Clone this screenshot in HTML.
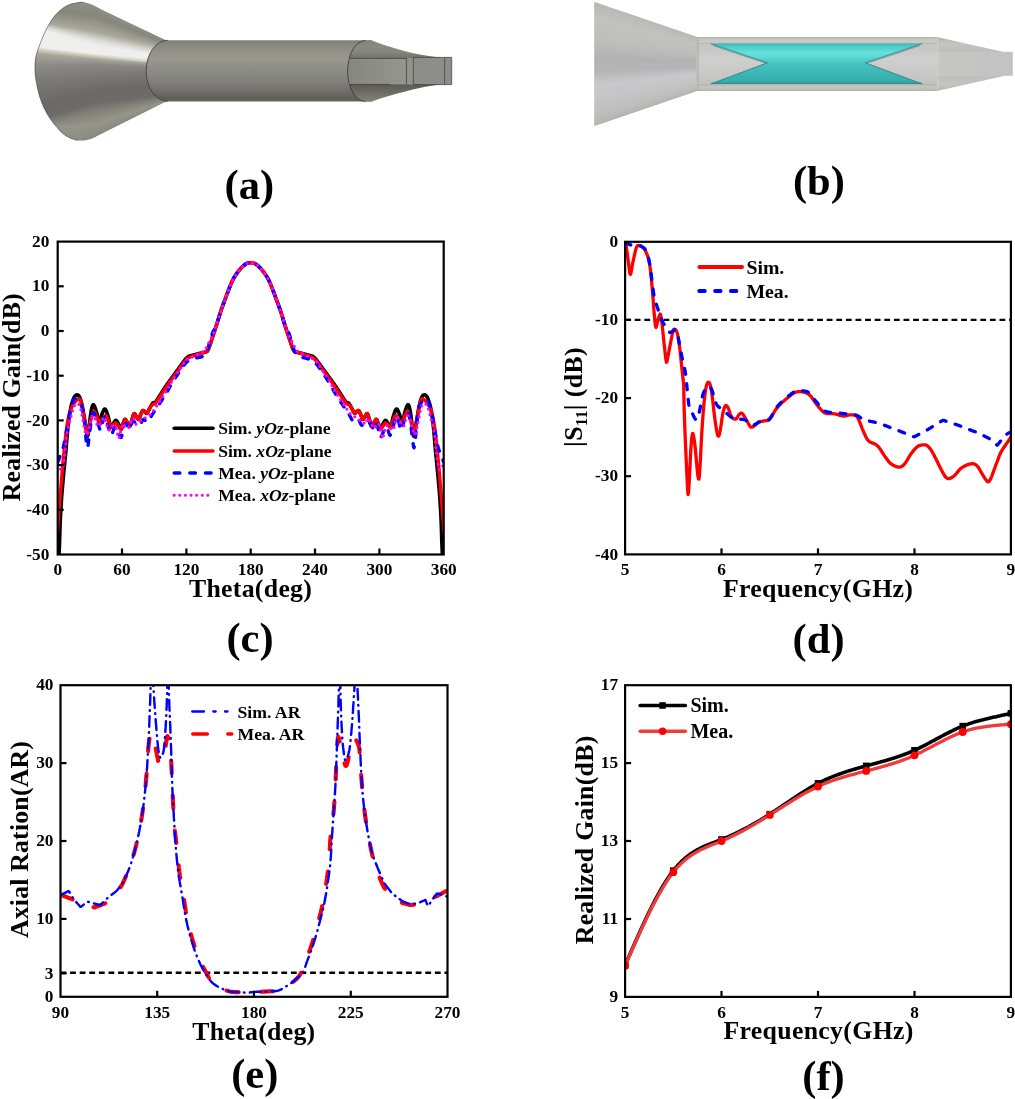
<!DOCTYPE html>
<html><head><meta charset="utf-8"><title>Figure</title>
<style>
html,body{margin:0;padding:0;background:#fff;}
svg{display:block;}
text{font-family:'Liberation Serif','Times New Roman',serif;fill:#000;}
</style></head><body>
<svg width="1015" height="1099" viewBox="0 0 1015 1099">
<rect width="1015" height="1099" fill="#fff"/>
<defs>
<clipPath id="coneA"><path d="M168.0,41.2 L101.2,9.4 L100.2,8.9 L99.2,8.3 L98.2,7.8 L97.2,7.2 L96.2,6.7 L95.2,6.2 L94.2,5.7 L93.3,5.3 L92.4,4.9 L91.6,4.5 L90.7,4.2 L89.9,3.9 L89.1,3.6 L88.3,3.3 L87.5,3.1 L86.7,2.9 L85.9,2.7 L85.1,2.6 L84.4,2.5 L83.6,2.4 L82.9,2.3 L82.0,2.3 L81.1,2.3 L80.1,2.4 L79.0,2.5 L77.7,2.7 L76.3,2.9 L74.9,3.2 L73.5,3.5 L72.1,3.8 L70.8,4.2 L69.6,4.6 L68.5,5.0 L67.4,5.5 L66.5,6.0 L65.5,6.5 L64.6,7.1 L63.6,7.8 L62.7,8.4 L61.7,9.2 L60.7,10.0 L59.7,10.8 L58.7,11.7 L57.7,12.7 L56.7,13.7 L55.7,14.8 L54.7,15.9 L53.7,17.2 L52.7,18.6 L51.7,20.1 L50.7,21.6 L49.7,23.3 L48.7,25.0 L47.7,26.7 L46.7,28.5 L45.8,30.3 L44.9,32.2 L44.0,34.2 L43.1,36.3 L42.2,38.4 L41.4,40.5 L40.6,42.5 L39.9,44.5 L39.2,46.2 L38.6,47.8 L38.1,49.2 L37.6,50.6 L37.2,51.9 L36.8,53.1 L36.5,54.3 L36.2,55.5 L35.9,56.7 L35.7,57.9 L35.5,59.1 L35.3,60.2 L35.2,61.4 L35.1,62.5 L35.1,63.6 L35.0,64.8 L35.0,66.0 L35.0,67.2 L35.0,68.5 L35.0,69.7 L35.0,71.0 L35.1,72.3 L35.2,73.7 L35.3,75.1 L35.5,76.5 L35.7,78.0 L35.9,79.6 L36.2,81.3 L36.5,82.9 L36.8,84.6 L37.1,86.3 L37.5,88.0 L37.9,89.7 L38.3,91.4 L38.7,93.0 L39.2,94.7 L39.6,96.3 L40.1,98.0 L40.7,99.6 L41.3,101.2 L41.9,102.9 L42.6,104.6 L43.3,106.3 L44.1,108.0 L45.0,109.7 L45.8,111.3 L46.7,113.0 L47.6,114.6 L48.5,116.1 L49.4,117.6 L50.4,119.0 L51.4,120.3 L52.4,121.7 L53.4,123.0 L54.4,124.2 L55.4,125.4 L56.4,126.6 L57.4,127.7 L58.3,128.9 L59.3,129.9 L60.3,131.0 L61.2,132.0 L62.2,132.9 L63.3,133.8 L64.3,134.6 L65.4,135.4 L66.5,136.1 L67.7,136.7 L68.8,137.3 L70.0,137.9 L71.2,138.4 L72.3,138.8 L73.5,139.2 L74.7,139.6 L75.8,139.9 L77.0,140.1 L78.1,140.3 L79.3,140.5 L80.5,140.6 L81.6,140.6 L82.8,140.6 L84.0,140.5 L85.2,140.3 L86.4,140.1 L87.6,139.8 L88.7,139.5 L89.9,139.2 L91.0,138.8 L92.0,138.5 L92.9,138.1 L93.8,137.8 L94.7,137.4 L95.5,136.9 L96.2,136.5 L97.0,136.1 L97.8,135.6 L98.6,135.2 L168.0,100.6 Z"/></clipPath>
<linearGradient id="cylA" x1="0" y1="0" x2="0" y2="1" gradientUnits="objectBoundingBox"><stop offset="0" stop-color="#7d7d74"/><stop offset="0.05" stop-color="#86867c"/><stop offset="0.2" stop-color="#939188"/><stop offset="0.3" stop-color="#9a978f"/><stop offset="0.45" stop-color="#8f8e88"/><stop offset="0.55" stop-color="#898a85"/><stop offset="0.68" stop-color="#81807b"/><stop offset="0.78" stop-color="#777570"/><stop offset="0.88" stop-color="#6a6864"/><stop offset="0.95" stop-color="#605e58"/><stop offset="1" stop-color="#67655c"/></linearGradient>
<linearGradient id="tapA" x1="0" y1="0" x2="0" y2="1" gradientUnits="objectBoundingBox"><stop offset="0" stop-color="#83837a"/><stop offset="0.1" stop-color="#8a8a80"/><stop offset="0.2" stop-color="#84847a"/><stop offset="0.29" stop-color="#737369"/><stop offset="0.3" stop-color="#8b8b86"/><stop offset="0.7" stop-color="#8b8b86"/><stop offset="0.72" stop-color="#5b5a54"/><stop offset="0.85" stop-color="#6c6b64"/><stop offset="1" stop-color="#85847a"/></linearGradient>
<linearGradient id="recA" x1="0" y1="0" x2="1" y2="0" gradientUnits="objectBoundingBox"><stop offset="0" stop-color="#878782"/><stop offset="1" stop-color="#969691"/></linearGradient>
</defs>
<defs><linearGradient id="cg0" gradientUnits="userSpaceOnUse" x1="0" y1="-40" x2="0" y2="180"><stop offset="0.0935" stop-color="#8f8f83"/><stop offset="0.2229" stop-color="#86867a"/><stop offset="0.2780" stop-color="#a8a89c"/><stop offset="0.2940" stop-color="#dbdbd5"/><stop offset="0.3071" stop-color="#eeeeec"/><stop offset="0.3926" stop-color="#efefed"/><stop offset="0.4050" stop-color="#d2d0be"/><stop offset="0.4259" stop-color="#a6a49a"/><stop offset="0.4865" stop-color="#8a8884"/><stop offset="0.5527" stop-color="#7c7a78"/><stop offset="0.6637" stop-color="#6b6867"/><stop offset="0.7339" stop-color="#6e6c69"/><stop offset="0.7596" stop-color="#86857c"/><stop offset="0.7696" stop-color="#96958a"/><stop offset="0.9392" stop-color="#8a897e"/></linearGradient><linearGradient id="cg1" gradientUnits="userSpaceOnUse" x1="0" y1="-40" x2="0" y2="180"><stop offset="0.0974" stop-color="#8f8f83"/><stop offset="0.2239" stop-color="#86867a"/><stop offset="0.2796" stop-color="#a8a89c"/><stop offset="0.2962" stop-color="#dbdbd5"/><stop offset="0.3097" stop-color="#eeeeec"/><stop offset="0.3937" stop-color="#efefed"/><stop offset="0.4060" stop-color="#d2d0be"/><stop offset="0.4267" stop-color="#a6a49a"/><stop offset="0.4862" stop-color="#8a8884"/><stop offset="0.5518" stop-color="#7c7a78"/><stop offset="0.6616" stop-color="#6b6867"/><stop offset="0.7311" stop-color="#6e6c69"/><stop offset="0.7576" stop-color="#86857c"/><stop offset="0.7689" stop-color="#96958a"/><stop offset="0.9348" stop-color="#8a897e"/></linearGradient><linearGradient id="cg2" gradientUnits="userSpaceOnUse" x1="0" y1="-40" x2="0" y2="180"><stop offset="0.1012" stop-color="#8f8f83"/><stop offset="0.2249" stop-color="#86867a"/><stop offset="0.2812" stop-color="#a8a89c"/><stop offset="0.2984" stop-color="#dbdbd5"/><stop offset="0.3123" stop-color="#eeeeec"/><stop offset="0.3948" stop-color="#efefed"/><stop offset="0.4070" stop-color="#d2d0be"/><stop offset="0.4275" stop-color="#a6a49a"/><stop offset="0.4858" stop-color="#8a8884"/><stop offset="0.5509" stop-color="#7c7a78"/><stop offset="0.6595" stop-color="#6b6867"/><stop offset="0.7283" stop-color="#6e6c69"/><stop offset="0.7556" stop-color="#86857c"/><stop offset="0.7682" stop-color="#96958a"/><stop offset="0.9304" stop-color="#8a897e"/></linearGradient><linearGradient id="cg3" gradientUnits="userSpaceOnUse" x1="0" y1="-40" x2="0" y2="180"><stop offset="0.1050" stop-color="#8f8f83"/><stop offset="0.2260" stop-color="#86867a"/><stop offset="0.2828" stop-color="#a8a89c"/><stop offset="0.3006" stop-color="#dbdbd5"/><stop offset="0.3149" stop-color="#eeeeec"/><stop offset="0.3959" stop-color="#efefed"/><stop offset="0.4081" stop-color="#d2d0be"/><stop offset="0.4283" stop-color="#a6a49a"/><stop offset="0.4855" stop-color="#8a8884"/><stop offset="0.5500" stop-color="#7c7a78"/><stop offset="0.6574" stop-color="#6b6867"/><stop offset="0.7255" stop-color="#6e6c69"/><stop offset="0.7536" stop-color="#86857c"/><stop offset="0.7675" stop-color="#96958a"/><stop offset="0.9260" stop-color="#8a897e"/></linearGradient><linearGradient id="cg4" gradientUnits="userSpaceOnUse" x1="0" y1="-40" x2="0" y2="180"><stop offset="0.1088" stop-color="#8f8f83"/><stop offset="0.2270" stop-color="#86867a"/><stop offset="0.2844" stop-color="#a8a89c"/><stop offset="0.3029" stop-color="#dbdbd5"/><stop offset="0.3175" stop-color="#eeeeec"/><stop offset="0.3970" stop-color="#efefed"/><stop offset="0.4091" stop-color="#d2d0be"/><stop offset="0.4291" stop-color="#a6a49a"/><stop offset="0.4851" stop-color="#8a8884"/><stop offset="0.5491" stop-color="#7c7a78"/><stop offset="0.6553" stop-color="#6b6867"/><stop offset="0.7227" stop-color="#6e6c69"/><stop offset="0.7516" stop-color="#86857c"/><stop offset="0.7668" stop-color="#96958a"/><stop offset="0.9216" stop-color="#8a897e"/></linearGradient><linearGradient id="cg5" gradientUnits="userSpaceOnUse" x1="0" y1="-40" x2="0" y2="180"><stop offset="0.1126" stop-color="#8f8f83"/><stop offset="0.2281" stop-color="#86867a"/><stop offset="0.2860" stop-color="#a8a89c"/><stop offset="0.3051" stop-color="#dbdbd5"/><stop offset="0.3201" stop-color="#eeeeec"/><stop offset="0.3981" stop-color="#efefed"/><stop offset="0.4101" stop-color="#d2d0be"/><stop offset="0.4299" stop-color="#a6a49a"/><stop offset="0.4847" stop-color="#8a8884"/><stop offset="0.5482" stop-color="#7c7a78"/><stop offset="0.6532" stop-color="#6b6867"/><stop offset="0.7200" stop-color="#6e6c69"/><stop offset="0.7496" stop-color="#86857c"/><stop offset="0.7661" stop-color="#96958a"/><stop offset="0.9171" stop-color="#8a897e"/></linearGradient><linearGradient id="cg6" gradientUnits="userSpaceOnUse" x1="0" y1="-40" x2="0" y2="180"><stop offset="0.1165" stop-color="#8f8f83"/><stop offset="0.2291" stop-color="#86867a"/><stop offset="0.2875" stop-color="#a8a89c"/><stop offset="0.3073" stop-color="#dbdbd5"/><stop offset="0.3227" stop-color="#eeeeec"/><stop offset="0.3992" stop-color="#efefed"/><stop offset="0.4111" stop-color="#d2d0be"/><stop offset="0.4307" stop-color="#a6a49a"/><stop offset="0.4844" stop-color="#8a8884"/><stop offset="0.5473" stop-color="#7c7a78"/><stop offset="0.6511" stop-color="#6b6867"/><stop offset="0.7172" stop-color="#6e6c69"/><stop offset="0.7476" stop-color="#86857c"/><stop offset="0.7654" stop-color="#96958a"/><stop offset="0.9127" stop-color="#8a897e"/></linearGradient><linearGradient id="cg7" gradientUnits="userSpaceOnUse" x1="0" y1="-40" x2="0" y2="180"><stop offset="0.1203" stop-color="#8f8f83"/><stop offset="0.2301" stop-color="#86867a"/><stop offset="0.2891" stop-color="#a8a89c"/><stop offset="0.3095" stop-color="#dbdbd5"/><stop offset="0.3253" stop-color="#eeeeec"/><stop offset="0.4003" stop-color="#efefed"/><stop offset="0.4121" stop-color="#d2d0be"/><stop offset="0.4315" stop-color="#a6a49a"/><stop offset="0.4840" stop-color="#8a8884"/><stop offset="0.5464" stop-color="#7c7a78"/><stop offset="0.6490" stop-color="#6b6867"/><stop offset="0.7144" stop-color="#6e6c69"/><stop offset="0.7456" stop-color="#86857c"/><stop offset="0.7647" stop-color="#96958a"/><stop offset="0.9083" stop-color="#8a897e"/></linearGradient><linearGradient id="cg8" gradientUnits="userSpaceOnUse" x1="0" y1="-40" x2="0" y2="180"><stop offset="0.1241" stop-color="#8f8f83"/><stop offset="0.2312" stop-color="#86867a"/><stop offset="0.2907" stop-color="#a8a89c"/><stop offset="0.3117" stop-color="#dbdbd5"/><stop offset="0.3279" stop-color="#eeeeec"/><stop offset="0.4014" stop-color="#efefed"/><stop offset="0.4131" stop-color="#d2d0be"/><stop offset="0.4323" stop-color="#a6a49a"/><stop offset="0.4836" stop-color="#8a8884"/><stop offset="0.5455" stop-color="#7c7a78"/><stop offset="0.6469" stop-color="#6b6867"/><stop offset="0.7116" stop-color="#6e6c69"/><stop offset="0.7436" stop-color="#86857c"/><stop offset="0.7640" stop-color="#96958a"/><stop offset="0.9039" stop-color="#8a897e"/></linearGradient><linearGradient id="cg9" gradientUnits="userSpaceOnUse" x1="0" y1="-40" x2="0" y2="180"><stop offset="0.1279" stop-color="#8f8f83"/><stop offset="0.2322" stop-color="#86867a"/><stop offset="0.2923" stop-color="#a8a89c"/><stop offset="0.3139" stop-color="#dbdbd5"/><stop offset="0.3305" stop-color="#eeeeec"/><stop offset="0.4025" stop-color="#efefed"/><stop offset="0.4141" stop-color="#d2d0be"/><stop offset="0.4331" stop-color="#a6a49a"/><stop offset="0.4833" stop-color="#8a8884"/><stop offset="0.5445" stop-color="#7c7a78"/><stop offset="0.6448" stop-color="#6b6867"/><stop offset="0.7088" stop-color="#6e6c69"/><stop offset="0.7416" stop-color="#86857c"/><stop offset="0.7633" stop-color="#96958a"/><stop offset="0.8995" stop-color="#8a897e"/></linearGradient><linearGradient id="cg10" gradientUnits="userSpaceOnUse" x1="0" y1="-40" x2="0" y2="180"><stop offset="0.1317" stop-color="#8f8f83"/><stop offset="0.2332" stop-color="#86867a"/><stop offset="0.2939" stop-color="#a8a89c"/><stop offset="0.3161" stop-color="#dbdbd5"/><stop offset="0.3331" stop-color="#eeeeec"/><stop offset="0.4035" stop-color="#efefed"/><stop offset="0.4151" stop-color="#d2d0be"/><stop offset="0.4339" stop-color="#a6a49a"/><stop offset="0.4829" stop-color="#8a8884"/><stop offset="0.5436" stop-color="#7c7a78"/><stop offset="0.6427" stop-color="#6b6867"/><stop offset="0.7061" stop-color="#6e6c69"/><stop offset="0.7396" stop-color="#86857c"/><stop offset="0.7626" stop-color="#96958a"/><stop offset="0.8951" stop-color="#8a897e"/></linearGradient><linearGradient id="cg11" gradientUnits="userSpaceOnUse" x1="0" y1="-40" x2="0" y2="180"><stop offset="0.1355" stop-color="#8f8f83"/><stop offset="0.2343" stop-color="#86867a"/><stop offset="0.2955" stop-color="#a8a89c"/><stop offset="0.3183" stop-color="#dbdbd5"/><stop offset="0.3357" stop-color="#eeeeec"/><stop offset="0.4046" stop-color="#efefed"/><stop offset="0.4162" stop-color="#d2d0be"/><stop offset="0.4348" stop-color="#a6a49a"/><stop offset="0.4825" stop-color="#8a8884"/><stop offset="0.5427" stop-color="#7c7a78"/><stop offset="0.6406" stop-color="#6b6867"/><stop offset="0.7033" stop-color="#6e6c69"/><stop offset="0.7376" stop-color="#86857c"/><stop offset="0.7619" stop-color="#96958a"/><stop offset="0.8906" stop-color="#8a897e"/></linearGradient><linearGradient id="cg12" gradientUnits="userSpaceOnUse" x1="0" y1="-40" x2="0" y2="180"><stop offset="0.1394" stop-color="#8f8f83"/><stop offset="0.2353" stop-color="#86867a"/><stop offset="0.2971" stop-color="#a8a89c"/><stop offset="0.3205" stop-color="#dbdbd5"/><stop offset="0.3383" stop-color="#eeeeec"/><stop offset="0.4057" stop-color="#efefed"/><stop offset="0.4172" stop-color="#d2d0be"/><stop offset="0.4356" stop-color="#a6a49a"/><stop offset="0.4822" stop-color="#8a8884"/><stop offset="0.5418" stop-color="#7c7a78"/><stop offset="0.6385" stop-color="#6b6867"/><stop offset="0.7005" stop-color="#6e6c69"/><stop offset="0.7356" stop-color="#86857c"/><stop offset="0.7612" stop-color="#96958a"/><stop offset="0.8862" stop-color="#8a897e"/></linearGradient><linearGradient id="cg13" gradientUnits="userSpaceOnUse" x1="0" y1="-40" x2="0" y2="180"><stop offset="0.1432" stop-color="#8f8f83"/><stop offset="0.2364" stop-color="#86867a"/><stop offset="0.2986" stop-color="#a8a89c"/><stop offset="0.3227" stop-color="#dbdbd5"/><stop offset="0.3409" stop-color="#eeeeec"/><stop offset="0.4068" stop-color="#efefed"/><stop offset="0.4182" stop-color="#d2d0be"/><stop offset="0.4364" stop-color="#a6a49a"/><stop offset="0.4818" stop-color="#8a8884"/><stop offset="0.5409" stop-color="#7c7a78"/><stop offset="0.6364" stop-color="#6b6867"/><stop offset="0.6977" stop-color="#6e6c69"/><stop offset="0.7336" stop-color="#86857c"/><stop offset="0.7605" stop-color="#96958a"/><stop offset="0.8818" stop-color="#8a897e"/></linearGradient><linearGradient id="cg14" gradientUnits="userSpaceOnUse" x1="0" y1="-40" x2="0" y2="180"><stop offset="0.1470" stop-color="#8f8f83"/><stop offset="0.2374" stop-color="#86867a"/><stop offset="0.3002" stop-color="#a8a89c"/><stop offset="0.3249" stop-color="#dbdbd5"/><stop offset="0.3435" stop-color="#eeeeec"/><stop offset="0.4079" stop-color="#efefed"/><stop offset="0.4192" stop-color="#d2d0be"/><stop offset="0.4372" stop-color="#a6a49a"/><stop offset="0.4815" stop-color="#8a8884"/><stop offset="0.5400" stop-color="#7c7a78"/><stop offset="0.6343" stop-color="#6b6867"/><stop offset="0.6949" stop-color="#6e6c69"/><stop offset="0.7316" stop-color="#86857c"/><stop offset="0.7598" stop-color="#96958a"/><stop offset="0.8774" stop-color="#8a897e"/></linearGradient><linearGradient id="cg15" gradientUnits="userSpaceOnUse" x1="0" y1="-40" x2="0" y2="180"><stop offset="0.1508" stop-color="#8f8f83"/><stop offset="0.2384" stop-color="#86867a"/><stop offset="0.3018" stop-color="#a8a89c"/><stop offset="0.3271" stop-color="#dbdbd5"/><stop offset="0.3461" stop-color="#eeeeec"/><stop offset="0.4090" stop-color="#efefed"/><stop offset="0.4202" stop-color="#d2d0be"/><stop offset="0.4380" stop-color="#a6a49a"/><stop offset="0.4811" stop-color="#8a8884"/><stop offset="0.5391" stop-color="#7c7a78"/><stop offset="0.6322" stop-color="#6b6867"/><stop offset="0.6922" stop-color="#6e6c69"/><stop offset="0.7296" stop-color="#86857c"/><stop offset="0.7591" stop-color="#96958a"/><stop offset="0.8730" stop-color="#8a897e"/></linearGradient><linearGradient id="cg16" gradientUnits="userSpaceOnUse" x1="0" y1="-40" x2="0" y2="180"><stop offset="0.1546" stop-color="#8f8f83"/><stop offset="0.2395" stop-color="#86867a"/><stop offset="0.3034" stop-color="#a8a89c"/><stop offset="0.3294" stop-color="#dbdbd5"/><stop offset="0.3487" stop-color="#eeeeec"/><stop offset="0.4101" stop-color="#efefed"/><stop offset="0.4212" stop-color="#d2d0be"/><stop offset="0.4388" stop-color="#a6a49a"/><stop offset="0.4807" stop-color="#8a8884"/><stop offset="0.5382" stop-color="#7c7a78"/><stop offset="0.6301" stop-color="#6b6867"/><stop offset="0.6894" stop-color="#6e6c69"/><stop offset="0.7276" stop-color="#86857c"/><stop offset="0.7584" stop-color="#96958a"/><stop offset="0.8686" stop-color="#8a897e"/></linearGradient><linearGradient id="cg17" gradientUnits="userSpaceOnUse" x1="0" y1="-40" x2="0" y2="180"><stop offset="0.1585" stop-color="#8f8f83"/><stop offset="0.2405" stop-color="#86867a"/><stop offset="0.3050" stop-color="#a8a89c"/><stop offset="0.3316" stop-color="#dbdbd5"/><stop offset="0.3513" stop-color="#eeeeec"/><stop offset="0.4112" stop-color="#efefed"/><stop offset="0.4222" stop-color="#d2d0be"/><stop offset="0.4396" stop-color="#a6a49a"/><stop offset="0.4804" stop-color="#8a8884"/><stop offset="0.5373" stop-color="#7c7a78"/><stop offset="0.6279" stop-color="#6b6867"/><stop offset="0.6866" stop-color="#6e6c69"/><stop offset="0.7256" stop-color="#86857c"/><stop offset="0.7576" stop-color="#96958a"/><stop offset="0.8642" stop-color="#8a897e"/></linearGradient><linearGradient id="cg18" gradientUnits="userSpaceOnUse" x1="0" y1="-40" x2="0" y2="180"><stop offset="0.1623" stop-color="#8f8f83"/><stop offset="0.2416" stop-color="#86867a"/><stop offset="0.3066" stop-color="#a8a89c"/><stop offset="0.3338" stop-color="#dbdbd5"/><stop offset="0.3539" stop-color="#eeeeec"/><stop offset="0.4123" stop-color="#efefed"/><stop offset="0.4232" stop-color="#d2d0be"/><stop offset="0.4404" stop-color="#a6a49a"/><stop offset="0.4800" stop-color="#8a8884"/><stop offset="0.5364" stop-color="#7c7a78"/><stop offset="0.6258" stop-color="#6b6867"/><stop offset="0.6838" stop-color="#6e6c69"/><stop offset="0.7236" stop-color="#86857c"/><stop offset="0.7569" stop-color="#96958a"/><stop offset="0.8597" stop-color="#8a897e"/></linearGradient><linearGradient id="cg19" gradientUnits="userSpaceOnUse" x1="0" y1="-40" x2="0" y2="180"><stop offset="0.1661" stop-color="#8f8f83"/><stop offset="0.2426" stop-color="#86867a"/><stop offset="0.3081" stop-color="#a8a89c"/><stop offset="0.3360" stop-color="#dbdbd5"/><stop offset="0.3565" stop-color="#eeeeec"/><stop offset="0.4134" stop-color="#efefed"/><stop offset="0.4243" stop-color="#d2d0be"/><stop offset="0.4412" stop-color="#a6a49a"/><stop offset="0.4796" stop-color="#8a8884"/><stop offset="0.5355" stop-color="#7c7a78"/><stop offset="0.6237" stop-color="#6b6867"/><stop offset="0.6811" stop-color="#6e6c69"/><stop offset="0.7216" stop-color="#86857c"/><stop offset="0.7562" stop-color="#96958a"/><stop offset="0.8553" stop-color="#8a897e"/></linearGradient><linearGradient id="cg20" gradientUnits="userSpaceOnUse" x1="0" y1="-40" x2="0" y2="180"><stop offset="0.1699" stop-color="#8f8f83"/><stop offset="0.2436" stop-color="#86867a"/><stop offset="0.3097" stop-color="#a8a89c"/><stop offset="0.3382" stop-color="#dbdbd5"/><stop offset="0.3591" stop-color="#eeeeec"/><stop offset="0.4145" stop-color="#efefed"/><stop offset="0.4253" stop-color="#d2d0be"/><stop offset="0.4420" stop-color="#a6a49a"/><stop offset="0.4793" stop-color="#8a8884"/><stop offset="0.5345" stop-color="#7c7a78"/><stop offset="0.6216" stop-color="#6b6867"/><stop offset="0.6783" stop-color="#6e6c69"/><stop offset="0.7196" stop-color="#86857c"/><stop offset="0.7555" stop-color="#96958a"/><stop offset="0.8509" stop-color="#8a897e"/></linearGradient><linearGradient id="cg21" gradientUnits="userSpaceOnUse" x1="0" y1="-40" x2="0" y2="180"><stop offset="0.1737" stop-color="#8f8f83"/><stop offset="0.2447" stop-color="#86867a"/><stop offset="0.3113" stop-color="#a8a89c"/><stop offset="0.3404" stop-color="#dbdbd5"/><stop offset="0.3617" stop-color="#eeeeec"/><stop offset="0.4155" stop-color="#efefed"/><stop offset="0.4263" stop-color="#d2d0be"/><stop offset="0.4428" stop-color="#a6a49a"/><stop offset="0.4789" stop-color="#8a8884"/><stop offset="0.5336" stop-color="#7c7a78"/><stop offset="0.6195" stop-color="#6b6867"/><stop offset="0.6755" stop-color="#6e6c69"/><stop offset="0.7176" stop-color="#86857c"/><stop offset="0.7548" stop-color="#96958a"/><stop offset="0.8465" stop-color="#8a897e"/></linearGradient><linearGradient id="cg22" gradientUnits="userSpaceOnUse" x1="0" y1="-40" x2="0" y2="180"><stop offset="0.1775" stop-color="#8f8f83"/><stop offset="0.2457" stop-color="#86867a"/><stop offset="0.3129" stop-color="#a8a89c"/><stop offset="0.3426" stop-color="#dbdbd5"/><stop offset="0.3643" stop-color="#eeeeec"/><stop offset="0.4166" stop-color="#efefed"/><stop offset="0.4273" stop-color="#d2d0be"/><stop offset="0.4436" stop-color="#a6a49a"/><stop offset="0.4785" stop-color="#8a8884"/><stop offset="0.5327" stop-color="#7c7a78"/><stop offset="0.6174" stop-color="#6b6867"/><stop offset="0.6727" stop-color="#6e6c69"/><stop offset="0.7156" stop-color="#86857c"/><stop offset="0.7541" stop-color="#96958a"/><stop offset="0.8421" stop-color="#8a897e"/></linearGradient><linearGradient id="cg23" gradientUnits="userSpaceOnUse" x1="0" y1="-40" x2="0" y2="180"><stop offset="0.1814" stop-color="#8f8f83"/><stop offset="0.2468" stop-color="#86867a"/><stop offset="0.3145" stop-color="#a8a89c"/><stop offset="0.3448" stop-color="#dbdbd5"/><stop offset="0.3669" stop-color="#eeeeec"/><stop offset="0.4177" stop-color="#efefed"/><stop offset="0.4283" stop-color="#d2d0be"/><stop offset="0.4444" stop-color="#a6a49a"/><stop offset="0.4782" stop-color="#8a8884"/><stop offset="0.5318" stop-color="#7c7a78"/><stop offset="0.6153" stop-color="#6b6867"/><stop offset="0.6699" stop-color="#6e6c69"/><stop offset="0.7136" stop-color="#86857c"/><stop offset="0.7534" stop-color="#96958a"/><stop offset="0.8377" stop-color="#8a897e"/></linearGradient><linearGradient id="cg24" gradientUnits="userSpaceOnUse" x1="0" y1="-40" x2="0" y2="180"><stop offset="0.1852" stop-color="#8f8f83"/><stop offset="0.2478" stop-color="#86867a"/><stop offset="0.3161" stop-color="#a8a89c"/><stop offset="0.3470" stop-color="#dbdbd5"/><stop offset="0.3695" stop-color="#eeeeec"/><stop offset="0.4188" stop-color="#efefed"/><stop offset="0.4293" stop-color="#d2d0be"/><stop offset="0.4452" stop-color="#a6a49a"/><stop offset="0.4778" stop-color="#8a8884"/><stop offset="0.5309" stop-color="#7c7a78"/><stop offset="0.6132" stop-color="#6b6867"/><stop offset="0.6672" stop-color="#6e6c69"/><stop offset="0.7116" stop-color="#86857c"/><stop offset="0.7527" stop-color="#96958a"/><stop offset="0.8332" stop-color="#8a897e"/></linearGradient><linearGradient id="cg25" gradientUnits="userSpaceOnUse" x1="0" y1="-40" x2="0" y2="180"><stop offset="0.1890" stop-color="#8f8f83"/><stop offset="0.2488" stop-color="#86867a"/><stop offset="0.3176" stop-color="#a8a89c"/><stop offset="0.3492" stop-color="#dbdbd5"/><stop offset="0.3721" stop-color="#eeeeec"/><stop offset="0.4199" stop-color="#efefed"/><stop offset="0.4303" stop-color="#d2d0be"/><stop offset="0.4460" stop-color="#a6a49a"/><stop offset="0.4775" stop-color="#8a8884"/><stop offset="0.5300" stop-color="#7c7a78"/><stop offset="0.6111" stop-color="#6b6867"/><stop offset="0.6644" stop-color="#6e6c69"/><stop offset="0.7096" stop-color="#86857c"/><stop offset="0.7520" stop-color="#96958a"/><stop offset="0.8288" stop-color="#8a897e"/></linearGradient><linearGradient id="cg26" gradientUnits="userSpaceOnUse" x1="0" y1="-40" x2="0" y2="180"><stop offset="0.1928" stop-color="#8f8f83"/><stop offset="0.2499" stop-color="#86867a"/><stop offset="0.3192" stop-color="#a8a89c"/><stop offset="0.3514" stop-color="#dbdbd5"/><stop offset="0.3747" stop-color="#eeeeec"/><stop offset="0.4210" stop-color="#efefed"/><stop offset="0.4314" stop-color="#d2d0be"/><stop offset="0.4468" stop-color="#a6a49a"/><stop offset="0.4771" stop-color="#8a8884"/><stop offset="0.5291" stop-color="#7c7a78"/><stop offset="0.6090" stop-color="#6b6867"/><stop offset="0.6616" stop-color="#6e6c69"/><stop offset="0.7076" stop-color="#86857c"/><stop offset="0.7513" stop-color="#96958a"/><stop offset="0.8244" stop-color="#8a897e"/></linearGradient><linearGradient id="cg27" gradientUnits="userSpaceOnUse" x1="0" y1="-40" x2="0" y2="180"><stop offset="0.1966" stop-color="#8f8f83"/><stop offset="0.2509" stop-color="#86867a"/><stop offset="0.3208" stop-color="#a8a89c"/><stop offset="0.3536" stop-color="#dbdbd5"/><stop offset="0.3773" stop-color="#eeeeec"/><stop offset="0.4221" stop-color="#efefed"/><stop offset="0.4324" stop-color="#d2d0be"/><stop offset="0.4476" stop-color="#a6a49a"/><stop offset="0.4767" stop-color="#8a8884"/><stop offset="0.5282" stop-color="#7c7a78"/><stop offset="0.6069" stop-color="#6b6867"/><stop offset="0.6588" stop-color="#6e6c69"/><stop offset="0.7056" stop-color="#86857c"/><stop offset="0.7506" stop-color="#96958a"/><stop offset="0.8200" stop-color="#8a897e"/></linearGradient><linearGradient id="cg28" gradientUnits="userSpaceOnUse" x1="0" y1="-40" x2="0" y2="180"><stop offset="0.2005" stop-color="#8f8f83"/><stop offset="0.2519" stop-color="#86867a"/><stop offset="0.3224" stop-color="#a8a89c"/><stop offset="0.3558" stop-color="#dbdbd5"/><stop offset="0.3799" stop-color="#eeeeec"/><stop offset="0.4232" stop-color="#efefed"/><stop offset="0.4334" stop-color="#d2d0be"/><stop offset="0.4484" stop-color="#a6a49a"/><stop offset="0.4764" stop-color="#8a8884"/><stop offset="0.5273" stop-color="#7c7a78"/><stop offset="0.6048" stop-color="#6b6867"/><stop offset="0.6560" stop-color="#6e6c69"/><stop offset="0.7036" stop-color="#86857c"/><stop offset="0.7499" stop-color="#96958a"/><stop offset="0.8156" stop-color="#8a897e"/></linearGradient><linearGradient id="cg29" gradientUnits="userSpaceOnUse" x1="0" y1="-40" x2="0" y2="180"><stop offset="0.2043" stop-color="#8f8f83"/><stop offset="0.2530" stop-color="#86867a"/><stop offset="0.3240" stop-color="#a8a89c"/><stop offset="0.3581" stop-color="#dbdbd5"/><stop offset="0.3825" stop-color="#eeeeec"/><stop offset="0.4243" stop-color="#efefed"/><stop offset="0.4344" stop-color="#d2d0be"/><stop offset="0.4492" stop-color="#a6a49a"/><stop offset="0.4760" stop-color="#8a8884"/><stop offset="0.5264" stop-color="#7c7a78"/><stop offset="0.6027" stop-color="#6b6867"/><stop offset="0.6533" stop-color="#6e6c69"/><stop offset="0.7016" stop-color="#86857c"/><stop offset="0.7492" stop-color="#96958a"/><stop offset="0.8112" stop-color="#8a897e"/></linearGradient><linearGradient id="cg30" gradientUnits="userSpaceOnUse" x1="0" y1="-40" x2="0" y2="180"><stop offset="0.2081" stop-color="#8f8f83"/><stop offset="0.2540" stop-color="#86867a"/><stop offset="0.3256" stop-color="#a8a89c"/><stop offset="0.3603" stop-color="#dbdbd5"/><stop offset="0.3851" stop-color="#eeeeec"/><stop offset="0.4254" stop-color="#efefed"/><stop offset="0.4354" stop-color="#d2d0be"/><stop offset="0.4501" stop-color="#a6a49a"/><stop offset="0.4756" stop-color="#8a8884"/><stop offset="0.5255" stop-color="#7c7a78"/><stop offset="0.6006" stop-color="#6b6867"/><stop offset="0.6505" stop-color="#6e6c69"/><stop offset="0.6996" stop-color="#86857c"/><stop offset="0.7485" stop-color="#96958a"/><stop offset="0.8068" stop-color="#8a897e"/></linearGradient><linearGradient id="cg31" gradientUnits="userSpaceOnUse" x1="0" y1="-40" x2="0" y2="180"><stop offset="0.2122" stop-color="#8f8f83"/><stop offset="0.2563" stop-color="#86867a"/><stop offset="0.3274" stop-color="#a8a89c"/><stop offset="0.3623" stop-color="#dbdbd5"/><stop offset="0.3872" stop-color="#eeeeec"/><stop offset="0.4263" stop-color="#efefed"/><stop offset="0.4364" stop-color="#d2d0be"/><stop offset="0.4508" stop-color="#a6a49a"/><stop offset="0.4756" stop-color="#8a8884"/><stop offset="0.5248" stop-color="#7c7a78"/><stop offset="0.5990" stop-color="#6b6867"/><stop offset="0.6486" stop-color="#6e6c69"/><stop offset="0.6977" stop-color="#86857c"/><stop offset="0.7467" stop-color="#96958a"/><stop offset="0.8023" stop-color="#8a897e"/></linearGradient><linearGradient id="cg32" gradientUnits="userSpaceOnUse" x1="0" y1="-40" x2="0" y2="180"><stop offset="0.2165" stop-color="#8f8f83"/><stop offset="0.2597" stop-color="#86867a"/><stop offset="0.3294" stop-color="#a8a89c"/><stop offset="0.3641" stop-color="#dbdbd5"/><stop offset="0.3887" stop-color="#eeeeec"/><stop offset="0.4271" stop-color="#efefed"/><stop offset="0.4374" stop-color="#d2d0be"/><stop offset="0.4515" stop-color="#a6a49a"/><stop offset="0.4760" stop-color="#8a8884"/><stop offset="0.5243" stop-color="#7c7a78"/><stop offset="0.5980" stop-color="#6b6867"/><stop offset="0.6476" stop-color="#6e6c69"/><stop offset="0.6959" stop-color="#86857c"/><stop offset="0.7437" stop-color="#96958a"/><stop offset="0.7977" stop-color="#8a897e"/></linearGradient><linearGradient id="cg33" gradientUnits="userSpaceOnUse" x1="0" y1="-40" x2="0" y2="180"><stop offset="0.2209" stop-color="#8f8f83"/><stop offset="0.2632" stop-color="#86867a"/><stop offset="0.3315" stop-color="#a8a89c"/><stop offset="0.3659" stop-color="#dbdbd5"/><stop offset="0.3903" stop-color="#eeeeec"/><stop offset="0.4279" stop-color="#efefed"/><stop offset="0.4384" stop-color="#d2d0be"/><stop offset="0.4522" stop-color="#a6a49a"/><stop offset="0.4763" stop-color="#8a8884"/><stop offset="0.5239" stop-color="#7c7a78"/><stop offset="0.5970" stop-color="#6b6867"/><stop offset="0.6466" stop-color="#6e6c69"/><stop offset="0.6940" stop-color="#86857c"/><stop offset="0.7408" stop-color="#96958a"/><stop offset="0.7931" stop-color="#8a897e"/></linearGradient><linearGradient id="cg34" gradientUnits="userSpaceOnUse" x1="0" y1="-40" x2="0" y2="180"><stop offset="0.2253" stop-color="#8f8f83"/><stop offset="0.2666" stop-color="#86867a"/><stop offset="0.3335" stop-color="#a8a89c"/><stop offset="0.3677" stop-color="#dbdbd5"/><stop offset="0.3919" stop-color="#eeeeec"/><stop offset="0.4286" stop-color="#efefed"/><stop offset="0.4393" stop-color="#d2d0be"/><stop offset="0.4529" stop-color="#a6a49a"/><stop offset="0.4767" stop-color="#8a8884"/><stop offset="0.5234" stop-color="#7c7a78"/><stop offset="0.5960" stop-color="#6b6867"/><stop offset="0.6456" stop-color="#6e6c69"/><stop offset="0.6921" stop-color="#86857c"/><stop offset="0.7378" stop-color="#96958a"/><stop offset="0.7886" stop-color="#8a897e"/></linearGradient><linearGradient id="cg35" gradientUnits="userSpaceOnUse" x1="0" y1="-40" x2="0" y2="180"><stop offset="0.2296" stop-color="#8f8f83"/><stop offset="0.2701" stop-color="#86867a"/><stop offset="0.3355" stop-color="#a8a89c"/><stop offset="0.3695" stop-color="#dbdbd5"/><stop offset="0.3935" stop-color="#eeeeec"/><stop offset="0.4294" stop-color="#efefed"/><stop offset="0.4403" stop-color="#d2d0be"/><stop offset="0.4536" stop-color="#a6a49a"/><stop offset="0.4770" stop-color="#8a8884"/><stop offset="0.5230" stop-color="#7c7a78"/><stop offset="0.5950" stop-color="#6b6867"/><stop offset="0.6446" stop-color="#6e6c69"/><stop offset="0.6903" stop-color="#86857c"/><stop offset="0.7348" stop-color="#96958a"/><stop offset="0.7840" stop-color="#8a897e"/></linearGradient><linearGradient id="cg36" gradientUnits="userSpaceOnUse" x1="0" y1="-40" x2="0" y2="180"><stop offset="0.2340" stop-color="#8f8f83"/><stop offset="0.2735" stop-color="#86867a"/><stop offset="0.3376" stop-color="#a8a89c"/><stop offset="0.3714" stop-color="#dbdbd5"/><stop offset="0.3951" stop-color="#eeeeec"/><stop offset="0.4302" stop-color="#efefed"/><stop offset="0.4413" stop-color="#d2d0be"/><stop offset="0.4544" stop-color="#a6a49a"/><stop offset="0.4774" stop-color="#8a8884"/><stop offset="0.5225" stop-color="#7c7a78"/><stop offset="0.5940" stop-color="#6b6867"/><stop offset="0.6436" stop-color="#6e6c69"/><stop offset="0.6884" stop-color="#86857c"/><stop offset="0.7319" stop-color="#96958a"/><stop offset="0.7794" stop-color="#8a897e"/></linearGradient><linearGradient id="cg37" gradientUnits="userSpaceOnUse" x1="0" y1="-40" x2="0" y2="180"><stop offset="0.2384" stop-color="#8f8f83"/><stop offset="0.2770" stop-color="#86867a"/><stop offset="0.3396" stop-color="#a8a89c"/><stop offset="0.3732" stop-color="#dbdbd5"/><stop offset="0.3966" stop-color="#eeeeec"/><stop offset="0.4310" stop-color="#efefed"/><stop offset="0.4423" stop-color="#d2d0be"/><stop offset="0.4551" stop-color="#a6a49a"/><stop offset="0.4777" stop-color="#8a8884"/><stop offset="0.5220" stop-color="#7c7a78"/><stop offset="0.5930" stop-color="#6b6867"/><stop offset="0.6426" stop-color="#6e6c69"/><stop offset="0.6866" stop-color="#86857c"/><stop offset="0.7289" stop-color="#96958a"/><stop offset="0.7749" stop-color="#8a897e"/></linearGradient><linearGradient id="cg38" gradientUnits="userSpaceOnUse" x1="0" y1="-40" x2="0" y2="180"><stop offset="0.2427" stop-color="#8f8f83"/><stop offset="0.2805" stop-color="#86867a"/><stop offset="0.3416" stop-color="#a8a89c"/><stop offset="0.3750" stop-color="#dbdbd5"/><stop offset="0.3982" stop-color="#eeeeec"/><stop offset="0.4318" stop-color="#efefed"/><stop offset="0.4433" stop-color="#d2d0be"/><stop offset="0.4558" stop-color="#a6a49a"/><stop offset="0.4780" stop-color="#8a8884"/><stop offset="0.5216" stop-color="#7c7a78"/><stop offset="0.5920" stop-color="#6b6867"/><stop offset="0.6416" stop-color="#6e6c69"/><stop offset="0.6847" stop-color="#86857c"/><stop offset="0.7260" stop-color="#96958a"/><stop offset="0.7703" stop-color="#8a897e"/></linearGradient><linearGradient id="cg39" gradientUnits="userSpaceOnUse" x1="0" y1="-40" x2="0" y2="180"><stop offset="0.2471" stop-color="#8f8f83"/><stop offset="0.2839" stop-color="#86867a"/><stop offset="0.3437" stop-color="#a8a89c"/><stop offset="0.3768" stop-color="#dbdbd5"/><stop offset="0.3998" stop-color="#eeeeec"/><stop offset="0.4326" stop-color="#efefed"/><stop offset="0.4443" stop-color="#d2d0be"/><stop offset="0.4565" stop-color="#a6a49a"/><stop offset="0.4784" stop-color="#8a8884"/><stop offset="0.5211" stop-color="#7c7a78"/><stop offset="0.5910" stop-color="#6b6867"/><stop offset="0.6406" stop-color="#6e6c69"/><stop offset="0.6829" stop-color="#86857c"/><stop offset="0.7230" stop-color="#96958a"/><stop offset="0.7658" stop-color="#8a897e"/></linearGradient><linearGradient id="cg40" gradientUnits="userSpaceOnUse" x1="0" y1="-40" x2="0" y2="180"><stop offset="0.2515" stop-color="#8f8f83"/><stop offset="0.2874" stop-color="#86867a"/><stop offset="0.3457" stop-color="#a8a89c"/><stop offset="0.3786" stop-color="#dbdbd5"/><stop offset="0.4014" stop-color="#eeeeec"/><stop offset="0.4333" stop-color="#efefed"/><stop offset="0.4452" stop-color="#d2d0be"/><stop offset="0.4572" stop-color="#a6a49a"/><stop offset="0.4787" stop-color="#8a8884"/><stop offset="0.5207" stop-color="#7c7a78"/><stop offset="0.5900" stop-color="#6b6867"/><stop offset="0.6396" stop-color="#6e6c69"/><stop offset="0.6810" stop-color="#86857c"/><stop offset="0.7200" stop-color="#96958a"/><stop offset="0.7612" stop-color="#8a897e"/></linearGradient><linearGradient id="cg41" gradientUnits="userSpaceOnUse" x1="0" y1="-40" x2="0" y2="180"><stop offset="0.2558" stop-color="#8f8f83"/><stop offset="0.2908" stop-color="#86867a"/><stop offset="0.3477" stop-color="#a8a89c"/><stop offset="0.3805" stop-color="#dbdbd5"/><stop offset="0.4030" stop-color="#eeeeec"/><stop offset="0.4341" stop-color="#efefed"/><stop offset="0.4462" stop-color="#d2d0be"/><stop offset="0.4579" stop-color="#a6a49a"/><stop offset="0.4791" stop-color="#8a8884"/><stop offset="0.5202" stop-color="#7c7a78"/><stop offset="0.5890" stop-color="#6b6867"/><stop offset="0.6386" stop-color="#6e6c69"/><stop offset="0.6792" stop-color="#86857c"/><stop offset="0.7171" stop-color="#96958a"/><stop offset="0.7566" stop-color="#8a897e"/></linearGradient><linearGradient id="cg42" gradientUnits="userSpaceOnUse" x1="0" y1="-40" x2="0" y2="180"><stop offset="0.2602" stop-color="#8f8f83"/><stop offset="0.2943" stop-color="#86867a"/><stop offset="0.3498" stop-color="#a8a89c"/><stop offset="0.3823" stop-color="#dbdbd5"/><stop offset="0.4046" stop-color="#eeeeec"/><stop offset="0.4349" stop-color="#efefed"/><stop offset="0.4472" stop-color="#d2d0be"/><stop offset="0.4586" stop-color="#a6a49a"/><stop offset="0.4794" stop-color="#8a8884"/><stop offset="0.5198" stop-color="#7c7a78"/><stop offset="0.5880" stop-color="#6b6867"/><stop offset="0.6376" stop-color="#6e6c69"/><stop offset="0.6773" stop-color="#86857c"/><stop offset="0.7141" stop-color="#96958a"/><stop offset="0.7521" stop-color="#8a897e"/></linearGradient><linearGradient id="cg43" gradientUnits="userSpaceOnUse" x1="0" y1="-40" x2="0" y2="180"><stop offset="0.2645" stop-color="#8f8f83"/><stop offset="0.2977" stop-color="#86867a"/><stop offset="0.3518" stop-color="#a8a89c"/><stop offset="0.3841" stop-color="#dbdbd5"/><stop offset="0.4061" stop-color="#eeeeec"/><stop offset="0.4357" stop-color="#efefed"/><stop offset="0.4482" stop-color="#d2d0be"/><stop offset="0.4593" stop-color="#a6a49a"/><stop offset="0.4798" stop-color="#8a8884"/><stop offset="0.5193" stop-color="#7c7a78"/><stop offset="0.5870" stop-color="#6b6867"/><stop offset="0.6366" stop-color="#6e6c69"/><stop offset="0.6755" stop-color="#86857c"/><stop offset="0.7111" stop-color="#96958a"/><stop offset="0.7475" stop-color="#8a897e"/></linearGradient><linearGradient id="cg44" gradientUnits="userSpaceOnUse" x1="0" y1="-40" x2="0" y2="180"><stop offset="0.2689" stop-color="#8f8f83"/><stop offset="0.3012" stop-color="#86867a"/><stop offset="0.3539" stop-color="#a8a89c"/><stop offset="0.3859" stop-color="#dbdbd5"/><stop offset="0.4077" stop-color="#eeeeec"/><stop offset="0.4365" stop-color="#efefed"/><stop offset="0.4492" stop-color="#d2d0be"/><stop offset="0.4600" stop-color="#a6a49a"/><stop offset="0.4801" stop-color="#8a8884"/><stop offset="0.5189" stop-color="#7c7a78"/><stop offset="0.5860" stop-color="#6b6867"/><stop offset="0.6356" stop-color="#6e6c69"/><stop offset="0.6736" stop-color="#86857c"/><stop offset="0.7082" stop-color="#96958a"/><stop offset="0.7429" stop-color="#8a897e"/></linearGradient><linearGradient id="cg45" gradientUnits="userSpaceOnUse" x1="0" y1="-40" x2="0" y2="180"><stop offset="0.2733" stop-color="#8f8f83"/><stop offset="0.3046" stop-color="#86867a"/><stop offset="0.3559" stop-color="#a8a89c"/><stop offset="0.3877" stop-color="#dbdbd5"/><stop offset="0.4093" stop-color="#eeeeec"/><stop offset="0.4372" stop-color="#efefed"/><stop offset="0.4501" stop-color="#d2d0be"/><stop offset="0.4607" stop-color="#a6a49a"/><stop offset="0.4805" stop-color="#8a8884"/><stop offset="0.5184" stop-color="#7c7a78"/><stop offset="0.5850" stop-color="#6b6867"/><stop offset="0.6346" stop-color="#6e6c69"/><stop offset="0.6717" stop-color="#86857c"/><stop offset="0.7052" stop-color="#96958a"/><stop offset="0.7384" stop-color="#8a897e"/></linearGradient><linearGradient id="cg46" gradientUnits="userSpaceOnUse" x1="0" y1="-40" x2="0" y2="180"><stop offset="0.2776" stop-color="#8f8f83"/><stop offset="0.3081" stop-color="#86867a"/><stop offset="0.3579" stop-color="#a8a89c"/><stop offset="0.3895" stop-color="#dbdbd5"/><stop offset="0.4109" stop-color="#eeeeec"/><stop offset="0.4380" stop-color="#efefed"/><stop offset="0.4511" stop-color="#d2d0be"/><stop offset="0.4614" stop-color="#a6a49a"/><stop offset="0.4808" stop-color="#8a8884"/><stop offset="0.5180" stop-color="#7c7a78"/><stop offset="0.5840" stop-color="#6b6867"/><stop offset="0.6336" stop-color="#6e6c69"/><stop offset="0.6699" stop-color="#86857c"/><stop offset="0.7022" stop-color="#96958a"/><stop offset="0.7338" stop-color="#8a897e"/></linearGradient><linearGradient id="cg47" gradientUnits="userSpaceOnUse" x1="0" y1="-40" x2="0" y2="180"><stop offset="0.2820" stop-color="#8f8f83"/><stop offset="0.3115" stop-color="#86867a"/><stop offset="0.3600" stop-color="#a8a89c"/><stop offset="0.3914" stop-color="#dbdbd5"/><stop offset="0.4125" stop-color="#eeeeec"/><stop offset="0.4388" stop-color="#efefed"/><stop offset="0.4521" stop-color="#d2d0be"/><stop offset="0.4622" stop-color="#a6a49a"/><stop offset="0.4812" stop-color="#8a8884"/><stop offset="0.5175" stop-color="#7c7a78"/><stop offset="0.5830" stop-color="#6b6867"/><stop offset="0.6326" stop-color="#6e6c69"/><stop offset="0.6680" stop-color="#86857c"/><stop offset="0.6993" stop-color="#96958a"/><stop offset="0.7292" stop-color="#8a897e"/></linearGradient><linearGradient id="cg48" gradientUnits="userSpaceOnUse" x1="0" y1="-40" x2="0" y2="180"><stop offset="0.2864" stop-color="#8f8f83"/><stop offset="0.3150" stop-color="#86867a"/><stop offset="0.3620" stop-color="#a8a89c"/><stop offset="0.3932" stop-color="#dbdbd5"/><stop offset="0.4140" stop-color="#eeeeec"/><stop offset="0.4396" stop-color="#efefed"/><stop offset="0.4531" stop-color="#d2d0be"/><stop offset="0.4629" stop-color="#a6a49a"/><stop offset="0.4815" stop-color="#8a8884"/><stop offset="0.5170" stop-color="#7c7a78"/><stop offset="0.5820" stop-color="#6b6867"/><stop offset="0.6316" stop-color="#6e6c69"/><stop offset="0.6662" stop-color="#86857c"/><stop offset="0.6963" stop-color="#96958a"/><stop offset="0.7247" stop-color="#8a897e"/></linearGradient><linearGradient id="cg49" gradientUnits="userSpaceOnUse" x1="0" y1="-40" x2="0" y2="180"><stop offset="0.2907" stop-color="#8f8f83"/><stop offset="0.3185" stop-color="#86867a"/><stop offset="0.3640" stop-color="#a8a89c"/><stop offset="0.3950" stop-color="#dbdbd5"/><stop offset="0.4156" stop-color="#eeeeec"/><stop offset="0.4404" stop-color="#efefed"/><stop offset="0.4541" stop-color="#d2d0be"/><stop offset="0.4636" stop-color="#a6a49a"/><stop offset="0.4818" stop-color="#8a8884"/><stop offset="0.5166" stop-color="#7c7a78"/><stop offset="0.5810" stop-color="#6b6867"/><stop offset="0.6306" stop-color="#6e6c69"/><stop offset="0.6643" stop-color="#86857c"/><stop offset="0.6934" stop-color="#96958a"/><stop offset="0.7201" stop-color="#8a897e"/></linearGradient><linearGradient id="cg50" gradientUnits="userSpaceOnUse" x1="0" y1="-40" x2="0" y2="180"><stop offset="0.2951" stop-color="#8f8f83"/><stop offset="0.3219" stop-color="#86867a"/><stop offset="0.3661" stop-color="#a8a89c"/><stop offset="0.3968" stop-color="#dbdbd5"/><stop offset="0.4172" stop-color="#eeeeec"/><stop offset="0.4412" stop-color="#efefed"/><stop offset="0.4551" stop-color="#d2d0be"/><stop offset="0.4643" stop-color="#a6a49a"/><stop offset="0.4822" stop-color="#8a8884"/><stop offset="0.5161" stop-color="#7c7a78"/><stop offset="0.5800" stop-color="#6b6867"/><stop offset="0.6296" stop-color="#6e6c69"/><stop offset="0.6625" stop-color="#86857c"/><stop offset="0.6904" stop-color="#96958a"/><stop offset="0.7156" stop-color="#8a897e"/></linearGradient><linearGradient id="cg51" gradientUnits="userSpaceOnUse" x1="0" y1="-40" x2="0" y2="180"><stop offset="0.2995" stop-color="#8f8f83"/><stop offset="0.3254" stop-color="#86867a"/><stop offset="0.3681" stop-color="#a8a89c"/><stop offset="0.3986" stop-color="#dbdbd5"/><stop offset="0.4188" stop-color="#eeeeec"/><stop offset="0.4419" stop-color="#efefed"/><stop offset="0.4560" stop-color="#d2d0be"/><stop offset="0.4650" stop-color="#a6a49a"/><stop offset="0.4825" stop-color="#8a8884"/><stop offset="0.5157" stop-color="#7c7a78"/><stop offset="0.5790" stop-color="#6b6867"/><stop offset="0.6286" stop-color="#6e6c69"/><stop offset="0.6606" stop-color="#86857c"/><stop offset="0.6874" stop-color="#96958a"/><stop offset="0.7110" stop-color="#8a897e"/></linearGradient><linearGradient id="cg52" gradientUnits="userSpaceOnUse" x1="0" y1="-40" x2="0" y2="180"><stop offset="0.3038" stop-color="#8f8f83"/><stop offset="0.3288" stop-color="#86867a"/><stop offset="0.3701" stop-color="#a8a89c"/><stop offset="0.4005" stop-color="#dbdbd5"/><stop offset="0.4204" stop-color="#eeeeec"/><stop offset="0.4427" stop-color="#efefed"/><stop offset="0.4570" stop-color="#d2d0be"/><stop offset="0.4657" stop-color="#a6a49a"/><stop offset="0.4829" stop-color="#8a8884"/><stop offset="0.5152" stop-color="#7c7a78"/><stop offset="0.5780" stop-color="#6b6867"/><stop offset="0.6276" stop-color="#6e6c69"/><stop offset="0.6588" stop-color="#86857c"/><stop offset="0.6845" stop-color="#96958a"/><stop offset="0.7064" stop-color="#8a897e"/></linearGradient><linearGradient id="cg53" gradientUnits="userSpaceOnUse" x1="0" y1="-40" x2="0" y2="180"><stop offset="0.3082" stop-color="#8f8f83"/><stop offset="0.3323" stop-color="#86867a"/><stop offset="0.3722" stop-color="#a8a89c"/><stop offset="0.4023" stop-color="#dbdbd5"/><stop offset="0.4220" stop-color="#eeeeec"/><stop offset="0.4435" stop-color="#efefed"/><stop offset="0.4580" stop-color="#d2d0be"/><stop offset="0.4664" stop-color="#a6a49a"/><stop offset="0.4832" stop-color="#8a8884"/><stop offset="0.5148" stop-color="#7c7a78"/><stop offset="0.5770" stop-color="#6b6867"/><stop offset="0.6266" stop-color="#6e6c69"/><stop offset="0.6569" stop-color="#86857c"/><stop offset="0.6815" stop-color="#96958a"/><stop offset="0.7019" stop-color="#8a897e"/></linearGradient><linearGradient id="cg54" gradientUnits="userSpaceOnUse" x1="0" y1="-40" x2="0" y2="180"><stop offset="0.3125" stop-color="#8f8f83"/><stop offset="0.3357" stop-color="#86867a"/><stop offset="0.3742" stop-color="#a8a89c"/><stop offset="0.4041" stop-color="#dbdbd5"/><stop offset="0.4235" stop-color="#eeeeec"/><stop offset="0.4443" stop-color="#efefed"/><stop offset="0.4590" stop-color="#d2d0be"/><stop offset="0.4671" stop-color="#a6a49a"/><stop offset="0.4836" stop-color="#8a8884"/><stop offset="0.5143" stop-color="#7c7a78"/><stop offset="0.5760" stop-color="#6b6867"/><stop offset="0.6256" stop-color="#6e6c69"/><stop offset="0.6551" stop-color="#86857c"/><stop offset="0.6785" stop-color="#96958a"/><stop offset="0.6973" stop-color="#8a897e"/></linearGradient><linearGradient id="cg55" gradientUnits="userSpaceOnUse" x1="0" y1="-40" x2="0" y2="180"><stop offset="0.3169" stop-color="#8f8f83"/><stop offset="0.3392" stop-color="#86867a"/><stop offset="0.3763" stop-color="#a8a89c"/><stop offset="0.4059" stop-color="#dbdbd5"/><stop offset="0.4251" stop-color="#eeeeec"/><stop offset="0.4451" stop-color="#efefed"/><stop offset="0.4600" stop-color="#d2d0be"/><stop offset="0.4678" stop-color="#a6a49a"/><stop offset="0.4839" stop-color="#8a8884"/><stop offset="0.5139" stop-color="#7c7a78"/><stop offset="0.5750" stop-color="#6b6867"/><stop offset="0.6246" stop-color="#6e6c69"/><stop offset="0.6532" stop-color="#86857c"/><stop offset="0.6756" stop-color="#96958a"/><stop offset="0.6927" stop-color="#8a897e"/></linearGradient><linearGradient id="cg56" gradientUnits="userSpaceOnUse" x1="0" y1="-40" x2="0" y2="180"><stop offset="0.3213" stop-color="#8f8f83"/><stop offset="0.3426" stop-color="#86867a"/><stop offset="0.3783" stop-color="#a8a89c"/><stop offset="0.4077" stop-color="#dbdbd5"/><stop offset="0.4267" stop-color="#eeeeec"/><stop offset="0.4458" stop-color="#efefed"/><stop offset="0.4609" stop-color="#d2d0be"/><stop offset="0.4685" stop-color="#a6a49a"/><stop offset="0.4843" stop-color="#8a8884"/><stop offset="0.5134" stop-color="#7c7a78"/><stop offset="0.5740" stop-color="#6b6867"/><stop offset="0.6236" stop-color="#6e6c69"/><stop offset="0.6513" stop-color="#86857c"/><stop offset="0.6726" stop-color="#96958a"/><stop offset="0.6882" stop-color="#8a897e"/></linearGradient><linearGradient id="cg57" gradientUnits="userSpaceOnUse" x1="0" y1="-40" x2="0" y2="180"><stop offset="0.3256" stop-color="#8f8f83"/><stop offset="0.3461" stop-color="#86867a"/><stop offset="0.3803" stop-color="#a8a89c"/><stop offset="0.4095" stop-color="#dbdbd5"/><stop offset="0.4283" stop-color="#eeeeec"/><stop offset="0.4466" stop-color="#efefed"/><stop offset="0.4619" stop-color="#d2d0be"/><stop offset="0.4692" stop-color="#a6a49a"/><stop offset="0.4846" stop-color="#8a8884"/><stop offset="0.5130" stop-color="#7c7a78"/><stop offset="0.5730" stop-color="#6b6867"/><stop offset="0.6226" stop-color="#6e6c69"/><stop offset="0.6495" stop-color="#86857c"/><stop offset="0.6696" stop-color="#96958a"/><stop offset="0.6836" stop-color="#8a897e"/></linearGradient><linearGradient id="cg58" gradientUnits="userSpaceOnUse" x1="0" y1="-40" x2="0" y2="180"><stop offset="0.3300" stop-color="#8f8f83"/><stop offset="0.3495" stop-color="#86867a"/><stop offset="0.3824" stop-color="#a8a89c"/><stop offset="0.4114" stop-color="#dbdbd5"/><stop offset="0.4299" stop-color="#eeeeec"/><stop offset="0.4474" stop-color="#efefed"/><stop offset="0.4629" stop-color="#d2d0be"/><stop offset="0.4700" stop-color="#a6a49a"/><stop offset="0.4850" stop-color="#8a8884"/><stop offset="0.5125" stop-color="#7c7a78"/><stop offset="0.5720" stop-color="#6b6867"/><stop offset="0.6216" stop-color="#6e6c69"/><stop offset="0.6476" stop-color="#86857c"/><stop offset="0.6667" stop-color="#96958a"/><stop offset="0.6790" stop-color="#8a897e"/></linearGradient><linearGradient id="cg59" gradientUnits="userSpaceOnUse" x1="0" y1="-40" x2="0" y2="180"><stop offset="0.3344" stop-color="#8f8f83"/><stop offset="0.3530" stop-color="#86867a"/><stop offset="0.3844" stop-color="#a8a89c"/><stop offset="0.4132" stop-color="#dbdbd5"/><stop offset="0.4314" stop-color="#eeeeec"/><stop offset="0.4482" stop-color="#efefed"/><stop offset="0.4639" stop-color="#d2d0be"/><stop offset="0.4707" stop-color="#a6a49a"/><stop offset="0.4853" stop-color="#8a8884"/><stop offset="0.5120" stop-color="#7c7a78"/><stop offset="0.5710" stop-color="#6b6867"/><stop offset="0.6206" stop-color="#6e6c69"/><stop offset="0.6458" stop-color="#86857c"/><stop offset="0.6637" stop-color="#96958a"/><stop offset="0.6745" stop-color="#8a897e"/></linearGradient><linearGradient id="cg60" gradientUnits="userSpaceOnUse" x1="0" y1="-40" x2="0" y2="180"><stop offset="0.3387" stop-color="#8f8f83"/><stop offset="0.3565" stop-color="#86867a"/><stop offset="0.3864" stop-color="#a8a89c"/><stop offset="0.4150" stop-color="#dbdbd5"/><stop offset="0.4330" stop-color="#eeeeec"/><stop offset="0.4490" stop-color="#efefed"/><stop offset="0.4649" stop-color="#d2d0be"/><stop offset="0.4714" stop-color="#a6a49a"/><stop offset="0.4856" stop-color="#8a8884"/><stop offset="0.5116" stop-color="#7c7a78"/><stop offset="0.5700" stop-color="#6b6867"/><stop offset="0.6196" stop-color="#6e6c69"/><stop offset="0.6439" stop-color="#86857c"/><stop offset="0.6608" stop-color="#96958a"/><stop offset="0.6699" stop-color="#8a897e"/></linearGradient><linearGradient id="cg61" gradientUnits="userSpaceOnUse" x1="0" y1="-40" x2="0" y2="180"><stop offset="0.3431" stop-color="#8f8f83"/><stop offset="0.3599" stop-color="#86867a"/><stop offset="0.3885" stop-color="#a8a89c"/><stop offset="0.4168" stop-color="#dbdbd5"/><stop offset="0.4346" stop-color="#eeeeec"/><stop offset="0.4498" stop-color="#efefed"/><stop offset="0.4659" stop-color="#d2d0be"/><stop offset="0.4721" stop-color="#a6a49a"/><stop offset="0.4860" stop-color="#8a8884"/><stop offset="0.5111" stop-color="#7c7a78"/><stop offset="0.5690" stop-color="#6b6867"/><stop offset="0.6186" stop-color="#6e6c69"/><stop offset="0.6421" stop-color="#86857c"/><stop offset="0.6578" stop-color="#96958a"/><stop offset="0.6654" stop-color="#8a897e"/></linearGradient><linearGradient id="cg62" gradientUnits="userSpaceOnUse" x1="0" y1="-40" x2="0" y2="180"><stop offset="0.3475" stop-color="#8f8f83"/><stop offset="0.3634" stop-color="#86867a"/><stop offset="0.3905" stop-color="#a8a89c"/><stop offset="0.4186" stop-color="#dbdbd5"/><stop offset="0.4362" stop-color="#eeeeec"/><stop offset="0.4505" stop-color="#efefed"/><stop offset="0.4668" stop-color="#d2d0be"/><stop offset="0.4728" stop-color="#a6a49a"/><stop offset="0.4863" stop-color="#8a8884"/><stop offset="0.5107" stop-color="#7c7a78"/><stop offset="0.5680" stop-color="#6b6867"/><stop offset="0.6176" stop-color="#6e6c69"/><stop offset="0.6402" stop-color="#86857c"/><stop offset="0.6548" stop-color="#96958a"/><stop offset="0.6608" stop-color="#8a897e"/></linearGradient><linearGradient id="cg63" gradientUnits="userSpaceOnUse" x1="0" y1="-40" x2="0" y2="180"><stop offset="0.3518" stop-color="#8f8f83"/><stop offset="0.3668" stop-color="#86867a"/><stop offset="0.3925" stop-color="#a8a89c"/><stop offset="0.4205" stop-color="#dbdbd5"/><stop offset="0.4378" stop-color="#eeeeec"/><stop offset="0.4513" stop-color="#efefed"/><stop offset="0.4678" stop-color="#d2d0be"/><stop offset="0.4735" stop-color="#a6a49a"/><stop offset="0.4867" stop-color="#8a8884"/><stop offset="0.5102" stop-color="#7c7a78"/><stop offset="0.5670" stop-color="#6b6867"/><stop offset="0.6166" stop-color="#6e6c69"/><stop offset="0.6384" stop-color="#86857c"/><stop offset="0.6519" stop-color="#96958a"/><stop offset="0.6562" stop-color="#8a897e"/></linearGradient><linearGradient id="cg64" gradientUnits="userSpaceOnUse" x1="0" y1="-40" x2="0" y2="180"><stop offset="0.3562" stop-color="#8f8f83"/><stop offset="0.3703" stop-color="#86867a"/><stop offset="0.3946" stop-color="#a8a89c"/><stop offset="0.4223" stop-color="#dbdbd5"/><stop offset="0.4394" stop-color="#eeeeec"/><stop offset="0.4521" stop-color="#efefed"/><stop offset="0.4688" stop-color="#d2d0be"/><stop offset="0.4742" stop-color="#a6a49a"/><stop offset="0.4870" stop-color="#8a8884"/><stop offset="0.5098" stop-color="#7c7a78"/><stop offset="0.5660" stop-color="#6b6867"/><stop offset="0.6156" stop-color="#6e6c69"/><stop offset="0.6365" stop-color="#86857c"/><stop offset="0.6489" stop-color="#96958a"/><stop offset="0.6517" stop-color="#8a897e"/></linearGradient><linearGradient id="cg65" gradientUnits="userSpaceOnUse" x1="0" y1="-40" x2="0" y2="180"><stop offset="0.3605" stop-color="#8f8f83"/><stop offset="0.3737" stop-color="#86867a"/><stop offset="0.3966" stop-color="#a8a89c"/><stop offset="0.4241" stop-color="#dbdbd5"/><stop offset="0.4409" stop-color="#eeeeec"/><stop offset="0.4529" stop-color="#efefed"/><stop offset="0.4698" stop-color="#d2d0be"/><stop offset="0.4749" stop-color="#a6a49a"/><stop offset="0.4874" stop-color="#8a8884"/><stop offset="0.5093" stop-color="#7c7a78"/><stop offset="0.5650" stop-color="#6b6867"/><stop offset="0.6146" stop-color="#6e6c69"/><stop offset="0.6347" stop-color="#86857c"/><stop offset="0.6459" stop-color="#96958a"/><stop offset="0.6471" stop-color="#8a897e"/></linearGradient><linearGradient id="cg66" gradientUnits="userSpaceOnUse" x1="0" y1="-40" x2="0" y2="180"><stop offset="0.3649" stop-color="#8f8f83"/><stop offset="0.3772" stop-color="#86867a"/><stop offset="0.3987" stop-color="#a8a89c"/><stop offset="0.4259" stop-color="#dbdbd5"/><stop offset="0.4425" stop-color="#eeeeec"/><stop offset="0.4537" stop-color="#efefed"/><stop offset="0.4708" stop-color="#d2d0be"/><stop offset="0.4756" stop-color="#a6a49a"/><stop offset="0.4877" stop-color="#8a8884"/><stop offset="0.5089" stop-color="#7c7a78"/><stop offset="0.5640" stop-color="#6b6867"/><stop offset="0.6136" stop-color="#6e6c69"/><stop offset="0.6328" stop-color="#86857c"/><stop offset="0.6430" stop-color="#96958a"/><stop offset="0.6440" stop-color="#8a897e"/></linearGradient><linearGradient id="cg67" gradientUnits="userSpaceOnUse" x1="0" y1="-40" x2="0" y2="180"><stop offset="0.3693" stop-color="#8f8f83"/><stop offset="0.3806" stop-color="#86867a"/><stop offset="0.4007" stop-color="#a8a89c"/><stop offset="0.4277" stop-color="#dbdbd5"/><stop offset="0.4441" stop-color="#eeeeec"/><stop offset="0.4544" stop-color="#efefed"/><stop offset="0.4717" stop-color="#d2d0be"/><stop offset="0.4763" stop-color="#a6a49a"/><stop offset="0.4881" stop-color="#8a8884"/><stop offset="0.5084" stop-color="#7c7a78"/><stop offset="0.5630" stop-color="#6b6867"/><stop offset="0.6126" stop-color="#6e6c69"/><stop offset="0.6309" stop-color="#86857c"/><stop offset="0.6400" stop-color="#96958a"/><stop offset="0.6410" stop-color="#8a897e"/></linearGradient></defs>
<g clip-path="url(#coneA)"><rect x="33.0" y="0" width="2.6" height="145" fill="url(#cg0)"/><rect x="35.0" y="0" width="2.6" height="145" fill="url(#cg1)"/><rect x="37.0" y="0" width="2.6" height="145" fill="url(#cg2)"/><rect x="39.0" y="0" width="2.6" height="145" fill="url(#cg3)"/><rect x="41.0" y="0" width="2.6" height="145" fill="url(#cg4)"/><rect x="43.0" y="0" width="2.6" height="145" fill="url(#cg5)"/><rect x="45.0" y="0" width="2.6" height="145" fill="url(#cg6)"/><rect x="47.0" y="0" width="2.6" height="145" fill="url(#cg7)"/><rect x="49.0" y="0" width="2.6" height="145" fill="url(#cg8)"/><rect x="51.0" y="0" width="2.6" height="145" fill="url(#cg9)"/><rect x="53.0" y="0" width="2.6" height="145" fill="url(#cg10)"/><rect x="55.0" y="0" width="2.6" height="145" fill="url(#cg11)"/><rect x="57.0" y="0" width="2.6" height="145" fill="url(#cg12)"/><rect x="59.0" y="0" width="2.6" height="145" fill="url(#cg13)"/><rect x="61.0" y="0" width="2.6" height="145" fill="url(#cg14)"/><rect x="63.0" y="0" width="2.6" height="145" fill="url(#cg15)"/><rect x="65.0" y="0" width="2.6" height="145" fill="url(#cg16)"/><rect x="67.0" y="0" width="2.6" height="145" fill="url(#cg17)"/><rect x="69.0" y="0" width="2.6" height="145" fill="url(#cg18)"/><rect x="71.0" y="0" width="2.6" height="145" fill="url(#cg19)"/><rect x="73.0" y="0" width="2.6" height="145" fill="url(#cg20)"/><rect x="75.0" y="0" width="2.6" height="145" fill="url(#cg21)"/><rect x="77.0" y="0" width="2.6" height="145" fill="url(#cg22)"/><rect x="79.0" y="0" width="2.6" height="145" fill="url(#cg23)"/><rect x="81.0" y="0" width="2.6" height="145" fill="url(#cg24)"/><rect x="83.0" y="0" width="2.6" height="145" fill="url(#cg25)"/><rect x="85.0" y="0" width="2.6" height="145" fill="url(#cg26)"/><rect x="87.0" y="0" width="2.6" height="145" fill="url(#cg27)"/><rect x="89.0" y="0" width="2.6" height="145" fill="url(#cg28)"/><rect x="91.0" y="0" width="2.6" height="145" fill="url(#cg29)"/><rect x="93.0" y="0" width="2.6" height="145" fill="url(#cg30)"/><rect x="95.0" y="0" width="2.6" height="145" fill="url(#cg31)"/><rect x="97.0" y="0" width="2.6" height="145" fill="url(#cg32)"/><rect x="99.0" y="0" width="2.6" height="145" fill="url(#cg33)"/><rect x="101.0" y="0" width="2.6" height="145" fill="url(#cg34)"/><rect x="103.0" y="0" width="2.6" height="145" fill="url(#cg35)"/><rect x="105.0" y="0" width="2.6" height="145" fill="url(#cg36)"/><rect x="107.0" y="0" width="2.6" height="145" fill="url(#cg37)"/><rect x="109.0" y="0" width="2.6" height="145" fill="url(#cg38)"/><rect x="111.0" y="0" width="2.6" height="145" fill="url(#cg39)"/><rect x="113.0" y="0" width="2.6" height="145" fill="url(#cg40)"/><rect x="115.0" y="0" width="2.6" height="145" fill="url(#cg41)"/><rect x="117.0" y="0" width="2.6" height="145" fill="url(#cg42)"/><rect x="119.0" y="0" width="2.6" height="145" fill="url(#cg43)"/><rect x="121.0" y="0" width="2.6" height="145" fill="url(#cg44)"/><rect x="123.0" y="0" width="2.6" height="145" fill="url(#cg45)"/><rect x="125.0" y="0" width="2.6" height="145" fill="url(#cg46)"/><rect x="127.0" y="0" width="2.6" height="145" fill="url(#cg47)"/><rect x="129.0" y="0" width="2.6" height="145" fill="url(#cg48)"/><rect x="131.0" y="0" width="2.6" height="145" fill="url(#cg49)"/><rect x="133.0" y="0" width="2.6" height="145" fill="url(#cg50)"/><rect x="135.0" y="0" width="2.6" height="145" fill="url(#cg51)"/><rect x="137.0" y="0" width="2.6" height="145" fill="url(#cg52)"/><rect x="139.0" y="0" width="2.6" height="145" fill="url(#cg53)"/><rect x="141.0" y="0" width="2.6" height="145" fill="url(#cg54)"/><rect x="143.0" y="0" width="2.6" height="145" fill="url(#cg55)"/><rect x="145.0" y="0" width="2.6" height="145" fill="url(#cg56)"/><rect x="147.0" y="0" width="2.6" height="145" fill="url(#cg57)"/><rect x="149.0" y="0" width="2.6" height="145" fill="url(#cg58)"/><rect x="151.0" y="0" width="2.6" height="145" fill="url(#cg59)"/><rect x="153.0" y="0" width="2.6" height="145" fill="url(#cg60)"/><rect x="155.0" y="0" width="2.6" height="145" fill="url(#cg61)"/><rect x="157.0" y="0" width="2.6" height="145" fill="url(#cg62)"/><rect x="159.0" y="0" width="2.6" height="145" fill="url(#cg63)"/><rect x="161.0" y="0" width="2.6" height="145" fill="url(#cg64)"/><rect x="163.0" y="0" width="2.6" height="145" fill="url(#cg65)"/><rect x="165.0" y="0" width="2.6" height="145" fill="url(#cg66)"/><rect x="167.0" y="0" width="2.6" height="145" fill="url(#cg67)"/></g>
<path d="M83.6,2.4 L82.9,2.3 L82.0,2.3 L81.1,2.3 L80.1,2.4 L79.0,2.5 L77.7,2.7 L76.3,2.9 L74.9,3.2 L73.5,3.5 L72.1,3.8 L70.8,4.2 L69.6,4.6 L68.5,5.0 L67.4,5.5 L66.5,6.0 L65.5,6.5 L64.6,7.1 L63.6,7.8 L62.7,8.4 L61.7,9.2 L60.7,10.0 L59.7,10.8 L58.7,11.7 L57.7,12.7 L56.7,13.7 L55.7,14.8 L54.7,15.9 L53.7,17.2 L52.7,18.6 L51.7,20.1 L50.7,21.6 L49.7,23.3 L48.7,25.0 L47.7,26.7 L46.7,28.5 L45.8,30.3 L44.9,32.2 L44.0,34.2 L43.1,36.3 L42.2,38.4 L41.4,40.5 L40.6,42.5 L39.9,44.5 L39.2,46.2 L38.6,47.8 L38.1,49.2 L37.6,50.6 L37.2,51.9 L36.8,53.1 L36.5,54.3 L36.2,55.5 L35.9,56.7 L35.7,57.9 L35.5,59.1 L35.3,60.2 L35.2,61.4 L35.1,62.5 L35.1,63.6 L35.0,64.8 L35.0,66.0 L35.0,67.2 L35.0,68.5 L35.0,69.7 L35.0,71.0 L35.1,72.3 L35.2,73.7 L35.3,75.1 L35.5,76.5 L35.7,78.0 L35.9,79.6 L36.2,81.3 L36.5,82.9 L36.8,84.6 L37.1,86.3 L37.5,88.0 L37.9,89.7 L38.3,91.4 L38.7,93.0 L39.2,94.7 L39.6,96.3 L40.1,98.0 L40.7,99.6 L41.3,101.2 L41.9,102.9 L42.6,104.6 L43.3,106.3 L44.1,108.0 L45.0,109.7 L45.8,111.3 L46.7,113.0 L47.6,114.6 L48.5,116.1 L49.4,117.6 L50.4,119.0 L51.4,120.3 L52.4,121.7 L53.4,123.0 L54.4,124.2 L55.4,125.4 L56.4,126.6 L57.4,127.7 L58.3,128.9 L59.3,129.9 L60.3,131.0 L61.2,132.0 L62.2,132.9 L63.3,133.8 L64.3,134.6 L65.4,135.4 L66.5,136.1 L67.7,136.7 L68.8,137.3 L70.0,137.9 L71.2,138.4 L72.3,138.8 L73.5,139.2 L74.7,139.6 L75.8,139.9 L77.0,140.1 L78.1,140.3" fill="none" stroke="#3a3a34" stroke-width="0.8" opacity="0.75"/>
<path d="M167.6,40.3 L372,40.3 L372,101.4 L167.6,101.4 A21.4,30.55 0 0 1 167.6,40.3 Z" fill="url(#cylA)"/>
<path d="M167.6,40.3 A21.4,30.55 0 0 0 167.6,101.4" fill="none" stroke="#3a3a36" stroke-width="0.8"/>
<path d="M365.4,40.6 L372,40.6 C390,47.5 415,55.5 440,57.4 L440,84.6 C418,87 392,95 372,101.4 L365.4,101.4 A17.8,30.4 0 0 1 365.4,40.6 Z" fill="url(#tapA)"/>
<path d="M365.4,40.6 A17.8,30.4 0 0 0 365.4,101.4" fill="none" stroke="#33332f" stroke-width="0.8"/>
<rect x="349.6" y="58.4" width="56.8" height="26" fill="url(#recA)"/>
<rect x="406.4" y="58" width="7" height="26.6" fill="#93938e"/>
<rect x="413.3" y="57.4" width="38.4" height="27.2" fill="#8d8d89"/>
<path d="M349.8,58.4 H406.4 M349.8,84.4 H390 M406.4,58 V84.6 M413.3,57.4 V84.6 M444.6,57.4 V84.6 M451.7,57.4 V84.6 M413.3,57.4 H451.7 M413.3,84.6 H451.7" fill="none" stroke="#3c3c38" stroke-width="0.7"/>
<defs>
<clipPath id="hornB"><polygon points="594.3,2 697,37 697,91 594.3,126"/></clipPath>
<linearGradient id="cylB" x1="0" y1="37" x2="0" y2="91" gradientUnits="userSpaceOnUse"><stop offset="0" stop-color="#b2b2ae"/><stop offset="0.04" stop-color="#c4c4c1"/><stop offset="0.09" stop-color="#cbcbc8"/><stop offset="0.125" stop-color="#b9b9b5"/><stop offset="0.135" stop-color="#c4c4c2"/><stop offset="0.4" stop-color="#cfcfcd"/><stop offset="0.6" stop-color="#cacaca"/><stop offset="0.865" stop-color="#c2c2c0"/><stop offset="0.875" stop-color="#b4b4b0"/><stop offset="0.92" stop-color="#c6c6c3"/><stop offset="0.97" stop-color="#bcbcb8"/><stop offset="1" stop-color="#b0b0ac"/></linearGradient>
<linearGradient id="tealB" x1="0" y1="43.6" x2="0" y2="84" gradientUnits="userSpaceOnUse"><stop offset="0" stop-color="#36b4b4"/><stop offset="0.04" stop-color="#45c6c4"/><stop offset="0.22" stop-color="#66e0da"/><stop offset="0.32" stop-color="#5fdad5"/><stop offset="0.5" stop-color="#44c2c0"/><stop offset="0.75" stop-color="#3bb6b5"/><stop offset="0.95" stop-color="#36abab"/><stop offset="1" stop-color="#2c9a9a"/></linearGradient>
<linearGradient id="tapB" x1="0" y1="37" x2="0" y2="91" gradientUnits="userSpaceOnUse"><stop offset="0" stop-color="#b0b0ac"/><stop offset="0.12" stop-color="#c4c4c1"/><stop offset="0.26" stop-color="#bdbdba"/><stop offset="0.3" stop-color="#c6c6c4"/><stop offset="0.7" stop-color="#c6c6c4"/><stop offset="0.74" stop-color="#bebebb"/><stop offset="0.88" stop-color="#c4c4c1"/><stop offset="1" stop-color="#b4b4b0"/></linearGradient>
</defs>
<g clip-path="url(#hornB)" shape-rendering="crispEdges">
<polygon points="775.6,64.0 590.0,-2.82 590.0,0.75" fill="#b6b6b4"/>
<polygon points="775.6,64.0 590.0,-0.59 590.0,2.97" fill="#b8b8b6"/>
<polygon points="775.6,64.0 590.0,1.64 590.0,5.20" fill="#b9b9b7"/>
<polygon points="775.6,64.0 590.0,3.87 590.0,7.43" fill="#bbbbb9"/>
<polygon points="775.6,64.0 590.0,6.09 590.0,9.66" fill="#bcbcba"/>
<polygon points="775.6,64.0 590.0,8.32 590.0,11.88" fill="#bdbdbb"/>
<polygon points="775.6,64.0 590.0,10.55 590.0,14.11" fill="#bfbfbd"/>
<polygon points="775.6,64.0 590.0,12.77 590.0,16.34" fill="#c0c0be"/>
<polygon points="775.6,64.0 590.0,15.00 590.0,18.57" fill="#c1c1bf"/>
<polygon points="775.6,64.0 590.0,17.23 590.0,20.79" fill="#c2c2c0"/>
<polygon points="775.6,64.0 590.0,19.46 590.0,23.02" fill="#c1c1c0"/>
<polygon points="775.6,64.0 590.0,21.68 590.0,25.25" fill="#c1c1bf"/>
<polygon points="775.6,64.0 590.0,23.91 590.0,27.47" fill="#c0c0bf"/>
<polygon points="775.6,64.0 590.0,26.14 590.0,29.70" fill="#c0c0be"/>
<polygon points="775.6,64.0 590.0,28.36 590.0,31.93" fill="#c0c0be"/>
<polygon points="775.6,64.0 590.0,30.59 590.0,34.16" fill="#bfbfbe"/>
<polygon points="775.6,64.0 590.0,32.82 590.0,36.38" fill="#bfbfbd"/>
<polygon points="775.6,64.0 590.0,35.05 590.0,38.61" fill="#bebebd"/>
<polygon points="775.6,64.0 590.0,37.27 590.0,40.84" fill="#bebebd"/>
<polygon points="775.6,64.0 590.0,39.50 590.0,43.06" fill="#bdbdbc"/>
<polygon points="775.6,64.0 590.0,41.73 590.0,45.29" fill="#bcbcbb"/>
<polygon points="775.6,64.0 590.0,43.96 590.0,47.52" fill="#bbbbba"/>
<polygon points="775.6,64.0 590.0,46.18 590.0,49.75" fill="#bab9b9"/>
<polygon points="775.6,64.0 590.0,48.41 590.0,51.97" fill="#b8b8b8"/>
<polygon points="775.6,64.0 590.0,50.64 590.0,54.20" fill="#b7b6b7"/>
<polygon points="775.6,64.0 590.0,52.86 590.0,56.43" fill="#b6b5b5"/>
<polygon points="775.6,64.0 590.0,55.09 590.0,58.65" fill="#b4b3b4"/>
<polygon points="775.6,64.0 590.0,57.32 590.0,60.88" fill="#b3b2b3"/>
<polygon points="775.6,64.0 590.0,59.55 590.0,63.11" fill="#b4b3b4"/>
<polygon points="775.6,64.0 590.0,61.77 590.0,65.34" fill="#b4b3b4"/>
<polygon points="775.6,64.0 590.0,64.00 590.0,67.56" fill="#b5b4b5"/>
<polygon points="775.6,64.0 590.0,66.23 590.0,69.79" fill="#b5b4b5"/>
<polygon points="775.6,64.0 590.0,68.45 590.0,72.02" fill="#b6b5b6"/>
<polygon points="775.6,64.0 590.0,70.68 590.0,74.25" fill="#b6b5b6"/>
<polygon points="775.6,64.0 590.0,72.91 590.0,76.47" fill="#b9b8ba"/>
<polygon points="775.6,64.0 590.0,75.14 590.0,78.70" fill="#bcbbbc"/>
<polygon points="775.6,64.0 590.0,77.36 590.0,80.93" fill="#bfbec0"/>
<polygon points="775.6,64.0 590.0,79.59 590.0,83.15" fill="#c2c1c2"/>
<polygon points="775.6,64.0 590.0,81.82 590.0,85.38" fill="#c5c4c6"/>
<polygon points="775.6,64.0 590.0,84.04 590.0,87.61" fill="#c8c7c8"/>
<polygon points="775.6,64.0 590.0,86.27 590.0,89.84" fill="#c9c8ca"/>
<polygon points="775.6,64.0 590.0,88.50 590.0,92.06" fill="#c8c7c9"/>
<polygon points="775.6,64.0 590.0,90.73 590.0,94.29" fill="#c8c7c8"/>
<polygon points="775.6,64.0 590.0,92.95 590.0,96.52" fill="#c7c6c8"/>
<polygon points="775.6,64.0 590.0,95.18 590.0,98.74" fill="#c7c6c7"/>
<polygon points="775.6,64.0 590.0,97.41 590.0,100.97" fill="#c7c6c7"/>
<polygon points="775.6,64.0 590.0,99.64 590.0,103.20" fill="#c6c5c6"/>
<polygon points="775.6,64.0 590.0,101.86 590.0,105.43" fill="#c5c4c5"/>
<polygon points="775.6,64.0 590.0,104.09 590.0,107.65" fill="#c4c3c3"/>
<polygon points="775.6,64.0 590.0,106.32 590.0,109.88" fill="#c3c2c2"/>
<polygon points="775.6,64.0 590.0,108.54 590.0,112.11" fill="#c1c1c0"/>
<polygon points="775.6,64.0 590.0,110.77 590.0,114.33" fill="#c0c0bf"/>
<polygon points="775.6,64.0 590.0,113.00 590.0,116.56" fill="#bfbfbe"/>
<polygon points="775.6,64.0 590.0,115.23 590.0,118.79" fill="#bebebc"/>
<polygon points="775.6,64.0 590.0,117.45 590.0,121.02" fill="#bdbdbb"/>
<polygon points="775.6,64.0 590.0,119.68 590.0,123.24" fill="#bbbbb9"/>
<polygon points="775.6,64.0 590.0,121.91 590.0,125.47" fill="#b8b8b6"/>
<polygon points="775.6,64.0 590.0,124.13 590.0,127.70" fill="#b6b6b3"/>
<polygon points="775.6,64.0 590.0,126.36 590.0,129.93" fill="#b3b3b0"/>
<polygon points="775.6,64.0 590.0,128.59 590.0,132.15" fill="#b1b1ae"/>
</g>
<rect x="696.6" y="37" width="241" height="54" fill="url(#cylB)"/>
<rect x="696.6" y="37" width="2.5" height="54" fill="#b0b0ae" opacity="0.6"/>
<path d="M937,37 L1004,52 L1004,76 L937,91 Z" fill="url(#tapB)"/>
<path d="M975,52 L1012.8,51.8 L1012.8,75.8 L975,76 Z" fill="#c4c3c3"/>
<rect x="937" y="37" width="1.6" height="54" fill="#d0d0ce" opacity="0.7"/>
<path d="M710.7,43.6 L922.4,43.6 L865.4,62.8 L922.4,84 L710.7,84 L767.3,62.8 Z" fill="url(#tealB)"/>
<path d="M710.7,43.6 L767.3,62.8 L710.7,84 M922.4,43.6 L865.4,62.8 L922.4,84" fill="none" stroke="#256f70" stroke-width="0.7"/>
<path d="M713,45.6 L765,63 M920,45.6 L867.6,63" fill="none" stroke="#2b8a8a" stroke-width="0.6"/>
<path d="M711,83.2 H922" fill="none" stroke="#2a8c8c" stroke-width="0.8"/>
<defs><clipPath id="clipC"><rect x="57.7" y="241.6" width="386.0" height="312.9"/></clipPath></defs>
<g clip-path="url(#clipC)" fill="none" stroke-linejoin="round">
<path d="M58.6,558.0 L59.1,553.7 L59.6,541.5 L60.1,524.8 L60.6,514.5 L61.1,505.7 L61.6,497.8 L62.1,491.2 L62.6,485.5 L63.1,479.9 L63.6,474.4 L64.1,469.0 L64.6,464.0 L65.1,459.0 L65.6,454.1 L66.1,448.9 L66.6,442.7 L67.1,436.3 L67.6,430.8 L68.1,425.8 L68.6,421.3 L69.1,417.4 L69.6,414.1 L70.1,411.1 L70.6,408.5 L71.1,406.2 L71.6,404.2 L72.1,402.5 L72.6,401.0 L73.1,399.6 L73.6,398.3 L74.1,397.3 L74.6,396.6 L75.1,395.9 L75.6,395.4 L76.1,395.1 L76.6,394.9 L77.1,394.8 L77.6,394.9 L78.1,395.1 L78.6,395.5 L79.1,396.2 L79.6,397.1 L80.1,398.3 L80.6,399.6 L81.1,401.3 L81.6,403.1 L82.1,405.3 L82.6,407.8 L83.1,410.6 L83.6,413.6 L84.1,416.6 L84.6,419.6 L85.1,422.6 L85.6,425.6 L86.1,428.6 L86.6,431.6 L87.1,434.4 L87.6,436.3 L88.1,434.6 L88.6,431.0 L89.1,427.3 L89.6,423.3 L90.1,418.8 L90.6,414.7 L91.1,411.4 L91.6,408.9 L92.1,406.9 L92.6,405.5 L93.1,404.8 L93.6,404.7 L94.1,405.5 L94.6,406.5 L95.1,407.8 L95.6,409.2 L96.1,410.7 L96.6,412.3 L97.1,414.4 L97.6,416.9 L98.1,419.4 L98.6,421.6 L99.1,423.0 L99.6,423.3 L100.1,422.1 L100.6,419.9 L101.1,417.5 L101.6,415.2 L102.1,413.8 L102.6,412.6 L103.1,411.4 L103.6,410.3 L104.1,409.4 L104.6,409.0 L105.1,409.0 L105.6,409.6 L106.1,410.6 L106.6,411.8 L107.1,413.3 L107.6,414.8 L108.1,416.3 L108.6,418.2 L109.1,420.5 L109.6,422.9 L110.1,425.0 L110.6,426.6 L111.1,427.3 L111.6,427.0 L112.1,426.1 L112.6,424.9 L113.1,423.7 L113.6,422.9 L114.1,422.2 L114.6,421.4 L115.1,420.8 L115.6,420.4 L116.1,420.4 L116.6,420.8 L117.1,421.5 L117.6,422.4 L118.1,423.3 L118.6,424.2 L119.1,425.3 L119.6,426.7 L120.1,428.0 L120.6,428.9 L121.1,429.3 L121.6,428.5 L122.1,426.8 L122.6,424.8 L123.1,423.3 L123.6,422.1 L124.1,420.8 L124.6,419.7 L125.1,419.3 L125.6,419.6 L126.1,420.4 L126.6,421.3 L127.1,422.2 L127.6,423.1 L128.1,424.0 L128.6,425.0 L129.1,425.8 L129.6,426.3 L130.1,426.0 L130.6,424.7 L131.1,422.8 L131.6,420.8 L132.1,419.1 L132.6,417.5 L133.1,415.8 L133.6,414.4 L134.1,413.6 L134.6,413.6 L135.1,414.2 L135.6,415.2 L136.1,416.2 L136.6,417.0 L137.1,417.8 L137.6,418.5 L138.1,419.1 L138.6,419.4 L139.1,419.0 L139.6,417.7 L140.1,416.1 L140.6,414.7 L141.1,413.6 L141.6,412.5 L142.1,411.5 L142.6,410.7 L143.1,410.5 L143.6,410.7 L144.1,411.1 L144.6,411.6 L145.1,412.0 L145.6,412.5 L146.1,413.1 L146.6,413.4 L147.1,413.0 L147.6,412.1 L148.1,411.2 L148.6,410.3 L149.1,409.3 L149.6,408.4 L150.1,407.5 L150.6,406.6 L151.1,405.7 L151.6,404.7 L152.1,403.8 L152.6,403.2 L153.1,402.8 L153.6,402.7 L154.1,402.6 L154.6,402.6 L155.1,402.4 L155.6,402.0 L156.1,401.3 L156.6,400.5 L157.1,399.7 L157.6,398.9 L158.1,398.1 L158.6,397.3 L159.1,396.5 L159.6,395.7 L160.1,394.9 L160.6,394.2 L161.1,393.4 L161.6,392.6 L162.1,391.8 L162.6,391.1 L163.1,390.3 L163.6,389.5 L164.1,388.7 L164.6,388.0 L165.1,387.2 L165.6,386.4 L166.1,385.7 L166.6,385.0 L167.1,384.2 L167.6,383.5 L168.1,382.9 L168.6,382.2 L169.1,381.5 L169.6,380.8 L170.1,380.1 L170.6,379.4 L171.1,378.8 L171.6,378.1 L172.1,377.4 L172.6,376.7 L173.1,376.0 L173.6,375.3 L174.1,374.7 L174.6,374.0 L175.1,373.3 L175.6,372.6 L176.1,371.9 L176.6,371.2 L177.1,370.5 L177.6,369.9 L178.1,369.2 L178.6,368.5 L179.1,367.8 L179.6,367.1 L180.1,366.4 L180.6,365.8 L181.1,365.1 L181.6,364.4 L182.1,363.7 L182.6,363.0 L183.1,362.3 L183.6,361.7 L184.1,361.0 L184.6,360.3 L185.1,359.7 L185.6,359.1 L186.1,358.5 L186.6,358.0 L187.1,357.5 L187.6,357.0 L188.1,356.7 L188.6,356.3 L189.1,356.1 L189.6,355.9 L190.1,355.8 L190.6,355.7 L191.1,355.6 L191.6,355.5 L192.1,355.4 L192.6,355.2 L193.1,355.1 L193.6,355.0 L194.1,354.8 L194.6,354.7 L195.1,354.6 L195.6,354.4 L196.1,354.3 L196.6,354.1 L197.1,354.0 L197.6,353.9 L198.1,353.7 L198.6,353.6 L199.1,353.5 L199.6,353.3 L200.1,353.2 L200.6,353.1 L201.1,353.0 L201.6,352.9 L202.1,352.8 L202.6,352.7 L203.1,352.6 L203.6,352.5 L204.1,352.4 L204.6,352.3 L205.1,352.2 L205.6,352.1 L206.1,351.9 L206.6,351.7 L207.1,351.3 L207.6,350.7 L208.1,349.8 L208.6,348.7 L209.1,347.4 L209.6,345.9 L210.1,344.5 L210.6,343.0 L211.1,341.5 L211.6,340.0 L212.1,338.5 L212.6,337.0 L213.1,335.5 L213.6,334.0 L214.1,332.5 L214.6,331.0 L215.1,329.4 L215.6,327.9 L216.1,326.4 L216.6,324.8 L217.1,323.2 L217.6,321.6 L218.1,319.9 L218.6,318.2 L219.1,316.6 L219.6,314.9 L220.1,313.3 L220.6,311.8 L221.1,310.3 L221.6,308.9 L222.1,307.4 L222.6,306.0 L223.1,304.7 L223.6,303.3 L224.1,301.9 L224.6,300.6 L225.1,299.3 L225.6,297.9 L226.1,296.6 L226.6,295.2 L227.1,293.9 L227.6,292.5 L228.1,291.2 L228.6,289.9 L229.1,288.6 L229.6,287.3 L230.1,286.0 L230.6,284.8 L231.1,283.6 L231.6,282.4 L232.1,281.3 L232.6,280.3 L233.1,279.3 L233.6,278.4 L234.1,277.5 L234.6,276.7 L235.1,275.9 L235.6,275.1 L236.1,274.4 L236.6,273.6 L237.1,272.9 L237.6,272.3 L238.1,271.6 L238.6,271.0 L239.1,270.4 L239.6,269.8 L240.1,269.2 L240.6,268.6 L241.1,268.1 L241.6,267.6 L242.1,267.1 L242.6,266.6 L243.1,266.1 L243.6,265.7 L244.1,265.3 L244.6,264.9 L245.1,264.5 L245.6,264.1 L246.1,263.8 L246.6,263.5 L247.1,263.3 L247.6,263.1 L248.1,263.0 L248.6,262.8 L249.1,262.8 L249.6,262.7 L250.1,262.7 L250.6,262.7 L251.3,262.7 L251.8,262.7 L252.3,262.8 L252.8,262.8 L253.3,263.0 L253.8,263.1 L254.3,263.3 L254.8,263.5 L255.3,263.8 L255.8,264.1 L256.3,264.5 L256.8,264.9 L257.3,265.3 L257.8,265.7 L258.3,266.1 L258.8,266.6 L259.3,267.1 L259.8,267.6 L260.3,268.1 L260.8,268.6 L261.3,269.2 L261.8,269.8 L262.3,270.4 L262.8,271.0 L263.3,271.6 L263.8,272.3 L264.3,272.9 L264.8,273.6 L265.3,274.4 L265.8,275.1 L266.3,275.9 L266.8,276.7 L267.3,277.5 L267.8,278.4 L268.3,279.3 L268.8,280.3 L269.3,281.3 L269.8,282.4 L270.3,283.6 L270.8,284.8 L271.3,286.0 L271.8,287.3 L272.3,288.6 L272.8,289.9 L273.3,291.2 L273.8,292.5 L274.3,293.9 L274.8,295.2 L275.3,296.6 L275.8,297.9 L276.3,299.3 L276.8,300.6 L277.3,301.9 L277.8,303.3 L278.3,304.7 L278.8,306.0 L279.3,307.4 L279.8,308.9 L280.3,310.3 L280.8,311.8 L281.3,313.3 L281.8,314.9 L282.3,316.6 L282.8,318.2 L283.3,319.9 L283.8,321.6 L284.3,323.2 L284.8,324.8 L285.3,326.4 L285.8,327.9 L286.3,329.4 L286.8,331.0 L287.3,332.5 L287.8,334.0 L288.3,335.5 L288.8,337.0 L289.3,338.5 L289.8,340.0 L290.3,341.5 L290.8,343.0 L291.3,344.5 L291.8,345.9 L292.3,347.4 L292.8,348.7 L293.3,349.8 L293.8,350.7 L294.3,351.3 L294.8,351.7 L295.3,351.9 L295.8,352.1 L296.3,352.2 L296.8,352.3 L297.3,352.4 L297.8,352.5 L298.3,352.6 L298.8,352.7 L299.3,352.8 L299.8,352.9 L300.3,353.0 L300.8,353.1 L301.3,353.2 L301.8,353.3 L302.3,353.5 L302.8,353.6 L303.3,353.7 L303.8,353.9 L304.3,354.0 L304.8,354.1 L305.3,354.3 L305.8,354.4 L306.3,354.6 L306.8,354.7 L307.3,354.8 L307.8,355.0 L308.3,355.1 L308.8,355.2 L309.3,355.4 L309.8,355.5 L310.3,355.6 L310.8,355.7 L311.3,355.8 L311.8,355.9 L312.3,356.1 L312.8,356.3 L313.3,356.7 L313.8,357.0 L314.3,357.5 L314.8,358.0 L315.3,358.5 L315.8,359.1 L316.3,359.7 L316.8,360.3 L317.3,361.0 L317.8,361.7 L318.3,362.3 L318.8,363.0 L319.3,363.7 L319.8,364.4 L320.3,365.1 L320.8,365.8 L321.3,366.4 L321.8,367.1 L322.3,367.8 L322.8,368.5 L323.3,369.2 L323.8,369.9 L324.3,370.5 L324.8,371.2 L325.3,371.9 L325.8,372.6 L326.3,373.3 L326.8,374.0 L327.3,374.7 L327.8,375.3 L328.3,376.0 L328.8,376.7 L329.3,377.4 L329.8,378.1 L330.3,378.8 L330.8,379.4 L331.3,380.1 L331.8,380.8 L332.3,381.5 L332.8,382.2 L333.3,382.9 L333.8,383.5 L334.3,384.2 L334.8,385.0 L335.3,385.7 L335.8,386.4 L336.3,387.2 L336.8,388.0 L337.3,388.7 L337.8,389.5 L338.3,390.3 L338.8,391.1 L339.3,391.8 L339.8,392.6 L340.3,393.4 L340.8,394.2 L341.3,394.9 L341.8,395.7 L342.3,396.5 L342.8,397.3 L343.3,398.1 L343.8,398.9 L344.3,399.7 L344.8,400.5 L345.3,401.3 L345.8,402.0 L346.3,402.4 L346.8,402.6 L347.3,402.6 L347.8,402.7 L348.3,402.8 L348.8,403.2 L349.3,403.8 L349.8,404.7 L350.3,405.7 L350.8,406.6 L351.3,407.5 L351.8,408.4 L352.3,409.3 L352.8,410.3 L353.3,411.2 L353.8,412.1 L354.3,413.0 L354.8,413.4 L355.3,413.1 L355.8,412.5 L356.3,412.0 L356.8,411.6 L357.3,411.1 L357.8,410.7 L358.3,410.5 L358.8,410.7 L359.3,411.5 L359.8,412.5 L360.3,413.6 L360.8,414.7 L361.3,416.1 L361.8,417.7 L362.3,419.0 L362.8,419.4 L363.3,419.1 L363.8,418.5 L364.3,417.8 L364.8,417.0 L365.3,416.2 L365.8,415.2 L366.3,414.2 L366.8,413.6 L367.3,413.6 L367.8,414.4 L368.3,415.8 L368.8,417.5 L369.3,419.1 L369.8,420.8 L370.3,422.8 L370.8,424.7 L371.3,426.0 L371.8,426.3 L372.3,425.8 L372.8,425.0 L373.3,424.0 L373.8,423.1 L374.3,422.2 L374.8,421.3 L375.3,420.4 L375.8,419.6 L376.3,419.3 L376.8,419.7 L377.3,420.8 L377.8,422.1 L378.3,423.3 L378.8,424.8 L379.3,426.8 L379.8,428.5 L380.3,429.3 L380.8,428.9 L381.3,428.0 L381.8,426.7 L382.3,425.3 L382.8,424.2 L383.3,423.3 L383.8,422.4 L384.3,421.5 L384.8,420.8 L385.3,420.4 L385.8,420.4 L386.3,420.8 L386.8,421.4 L387.3,422.2 L387.8,422.9 L388.3,423.7 L388.8,424.9 L389.3,426.1 L389.8,427.0 L390.3,427.3 L390.8,426.6 L391.3,425.0 L391.8,422.9 L392.3,420.5 L392.8,418.2 L393.3,416.3 L393.8,414.8 L394.3,413.3 L394.8,411.8 L395.3,410.6 L395.8,409.6 L396.3,409.0 L396.8,409.0 L397.3,409.4 L397.8,410.3 L398.3,411.4 L398.8,412.6 L399.3,413.8 L399.8,415.2 L400.3,417.5 L400.8,419.9 L401.3,422.1 L401.8,423.3 L402.3,423.0 L402.8,421.6 L403.3,419.4 L403.8,416.9 L404.3,414.4 L404.8,412.3 L405.3,410.7 L405.8,409.2 L406.3,407.8 L406.8,406.5 L407.3,405.5 L407.8,404.7 L408.3,404.8 L408.8,405.5 L409.3,406.9 L409.8,408.9 L410.3,411.4 L410.8,414.7 L411.3,418.8 L411.8,423.3 L412.3,427.3 L412.8,431.0 L413.3,434.6 L413.8,436.3 L414.3,434.4 L414.8,431.6 L415.3,428.6 L415.8,425.6 L416.3,422.6 L416.8,419.6 L417.3,416.6 L417.8,413.6 L418.3,410.6 L418.8,407.8 L419.3,405.3 L419.8,403.1 L420.3,401.3 L420.8,399.6 L421.3,398.3 L421.8,397.1 L422.3,396.2 L422.8,395.5 L423.3,395.1 L423.8,394.9 L424.3,394.8 L424.8,394.9 L425.3,395.1 L425.8,395.4 L426.3,395.9 L426.8,396.6 L427.3,397.3 L427.8,398.3 L428.3,399.6 L428.8,401.0 L429.3,402.5 L429.8,404.2 L430.3,406.2 L430.8,408.5 L431.3,411.1 L431.8,414.1 L432.3,417.4 L432.8,421.3 L433.3,425.8 L433.8,430.8 L434.3,436.3 L434.8,442.7 L435.3,448.9 L435.8,454.1 L436.3,459.0 L436.8,464.0 L437.3,469.0 L437.8,474.4 L438.3,479.9 L438.8,485.5 L439.3,491.2 L439.8,497.8 L440.3,505.7 L440.8,514.5 L441.3,524.8 L441.8,541.5 L442.3,553.7 L442.8,558.0" stroke="#000" stroke-width="3.6"/>
<path d="M57.6,532.0 L58.1,522.6 L58.6,515.0 L59.1,508.9 L59.6,502.8 L60.1,496.8 L60.6,490.8 L61.1,484.8 L61.6,478.7 L62.1,472.8 L62.6,466.8 L63.1,461.2 L63.6,455.9 L64.1,450.8 L64.6,446.0 L65.1,441.3 L65.6,436.6 L66.1,432.2 L66.6,428.4 L67.1,425.0 L67.6,421.9 L68.1,419.2 L68.6,416.7 L69.1,414.6 L69.6,412.8 L70.1,411.3 L70.6,410.0 L71.1,408.8 L71.6,407.6 L72.1,406.6 L72.6,405.6 L73.1,404.8 L73.6,404.0 L74.1,403.2 L74.6,402.5 L75.1,401.9 L75.6,401.3 L76.1,400.8 L76.6,400.3 L77.1,399.9 L77.6,399.5 L78.1,399.2 L78.6,399.0 L79.1,398.8 L79.6,399.0 L80.1,399.4 L80.6,400.3 L81.1,401.7 L81.6,403.6 L82.1,406.0 L82.6,408.7 L83.1,411.5 L83.6,414.4 L84.1,417.2 L84.6,419.9 L85.1,422.7 L85.6,425.5 L86.1,428.2 L86.6,430.6 L87.1,432.6 L87.6,433.9 L88.1,433.5 L88.6,431.5 L89.1,428.5 L89.6,425.3 L90.1,422.6 L90.6,420.8 L91.1,418.9 L91.6,417.0 L92.1,415.1 L92.6,413.3 L93.1,412.0 L93.6,411.2 L94.1,411.1 L94.6,411.9 L95.1,412.9 L95.6,413.9 L96.1,414.9 L96.6,416.0 L97.1,417.0 L97.6,418.0 L98.1,419.1 L98.6,420.2 L99.1,421.2 L99.6,422.2 L100.1,423.0 L100.6,423.5 L101.1,423.0 L101.6,421.9 L102.1,420.7 L102.6,419.6 L103.1,418.8 L103.6,417.9 L104.1,417.1 L104.6,416.3 L105.1,415.8 L105.6,415.5 L106.1,415.7 L106.6,416.4 L107.1,417.4 L107.6,418.6 L108.1,419.9 L108.6,421.2 L109.1,422.4 L109.6,424.0 L110.1,425.6 L110.6,426.8 L111.1,427.3 L111.6,427.1 L112.1,426.6 L112.6,426.0 L113.1,425.3 L113.6,424.8 L114.1,424.3 L114.6,423.7 L115.1,423.2 L115.6,422.9 L116.1,423.0 L116.6,423.4 L117.1,424.1 L117.6,424.9 L118.1,425.7 L118.6,426.4 L119.1,427.1 L119.6,427.8 L120.1,428.4 L120.6,429.0 L121.1,429.3 L121.6,428.6 L122.1,426.9 L122.6,424.9 L123.1,423.3 L123.6,422.1 L124.1,420.8 L124.6,419.7 L125.1,419.3 L125.6,419.6 L126.1,420.4 L126.6,421.3 L127.1,422.2 L127.6,423.1 L128.1,424.0 L128.6,425.0 L129.1,425.8 L129.6,426.3 L130.1,426.0 L130.6,424.7 L131.1,422.8 L131.6,420.8 L132.1,419.1 L132.6,417.5 L133.1,415.8 L133.6,414.4 L134.1,413.6 L134.6,413.6 L135.1,414.2 L135.6,415.2 L136.1,416.2 L136.6,417.0 L137.1,417.8 L137.6,418.5 L138.1,419.1 L138.6,419.4 L139.1,419.0 L139.6,417.7 L140.1,416.1 L140.6,414.7 L141.1,413.6 L141.6,412.5 L142.1,411.5 L142.6,410.7 L143.1,410.5 L143.6,410.7 L144.1,411.1 L144.6,411.6 L145.1,412.0 L145.6,412.4 L146.1,412.8 L146.6,413.1 L147.1,413.0 L147.6,412.4 L148.1,411.5 L148.6,410.4 L149.1,409.4 L149.6,408.4 L150.1,407.6 L150.6,406.7 L151.1,405.9 L151.6,405.1 L152.1,404.5 L152.6,404.5 L153.1,404.5 L153.6,404.3 L154.1,404.1 L154.6,403.9 L155.1,403.5 L155.6,403.0 L156.1,402.3 L156.6,401.5 L157.1,400.8 L157.6,400.0 L158.1,399.3 L158.6,398.5 L159.1,397.8 L159.6,397.0 L160.1,396.3 L160.6,395.5 L161.1,394.8 L161.6,394.0 L162.1,393.2 L162.6,392.5 L163.1,391.7 L163.6,391.0 L164.1,390.2 L164.6,389.4 L165.1,388.7 L165.6,387.9 L166.1,387.2 L166.6,386.4 L167.1,385.7 L167.6,384.9 L168.1,384.2 L168.6,383.5 L169.1,382.8 L169.6,382.1 L170.1,381.4 L170.6,380.8 L171.1,380.1 L171.6,379.4 L172.1,378.7 L172.6,378.1 L173.1,377.4 L173.6,376.7 L174.1,376.0 L174.6,375.4 L175.1,374.7 L175.6,374.0 L176.1,373.3 L176.6,372.6 L177.1,371.9 L177.6,371.3 L178.1,370.6 L178.6,369.9 L179.1,369.2 L179.6,368.5 L180.1,367.8 L180.6,367.2 L181.1,366.5 L181.6,365.8 L182.1,365.1 L182.6,364.4 L183.1,363.7 L183.6,363.1 L184.1,362.4 L184.6,361.7 L185.1,361.1 L185.6,360.5 L186.1,359.9 L186.6,359.3 L187.1,358.8 L187.6,358.3 L188.1,357.9 L188.6,357.6 L189.1,357.3 L189.6,357.1 L190.1,357.0 L190.6,356.8 L191.1,356.7 L191.6,356.5 L192.1,356.4 L192.6,356.2 L193.1,356.1 L193.6,355.9 L194.1,355.7 L194.6,355.5 L195.1,355.4 L195.6,355.2 L196.1,355.0 L196.6,354.8 L197.1,354.7 L197.6,354.5 L198.1,354.3 L198.6,354.1 L199.1,354.0 L199.6,353.8 L200.1,353.6 L200.6,353.5 L201.1,353.3 L201.6,353.2 L202.1,353.1 L202.6,352.9 L203.1,352.8 L203.6,352.7 L204.1,352.5 L204.6,352.4 L205.1,352.2 L205.6,352.1 L206.1,351.9 L206.6,351.7 L207.1,351.3 L207.6,350.7 L208.1,349.8 L208.6,348.7 L209.1,347.4 L209.6,345.9 L210.1,344.5 L210.6,343.0 L211.1,341.5 L211.6,340.0 L212.1,338.5 L212.6,337.0 L213.1,335.5 L213.6,334.0 L214.1,332.5 L214.6,331.0 L215.1,329.4 L215.6,327.9 L216.1,326.4 L216.6,324.8 L217.1,323.2 L217.6,321.6 L218.1,319.9 L218.6,318.2 L219.1,316.6 L219.6,314.9 L220.1,313.3 L220.6,311.8 L221.1,310.3 L221.6,308.9 L222.1,307.4 L222.6,306.0 L223.1,304.7 L223.6,303.3 L224.1,301.9 L224.6,300.6 L225.1,299.3 L225.6,297.9 L226.1,296.6 L226.6,295.2 L227.1,293.9 L227.6,292.5 L228.1,291.2 L228.6,289.9 L229.1,288.6 L229.6,287.3 L230.1,286.0 L230.6,284.8 L231.1,283.6 L231.6,282.4 L232.1,281.3 L232.6,280.3 L233.1,279.3 L233.6,278.4 L234.1,277.5 L234.6,276.7 L235.1,275.9 L235.6,275.1 L236.1,274.4 L236.6,273.6 L237.1,272.9 L237.6,272.3 L238.1,271.6 L238.6,271.0 L239.1,270.4 L239.6,269.8 L240.1,269.2 L240.6,268.6 L241.1,268.1 L241.6,267.6 L242.1,267.1 L242.6,266.6 L243.1,266.1 L243.6,265.7 L244.1,265.3 L244.6,264.9 L245.1,264.5 L245.6,264.1 L246.1,263.8 L246.6,263.5 L247.1,263.3 L247.6,263.1 L248.1,263.0 L248.6,262.8 L249.1,262.8 L249.6,262.7 L250.1,262.7 L250.6,262.7 L251.3,262.7 L251.8,262.7 L252.3,262.8 L252.8,262.8 L253.3,263.0 L253.8,263.1 L254.3,263.3 L254.8,263.5 L255.3,263.8 L255.8,264.1 L256.3,264.5 L256.8,264.9 L257.3,265.3 L257.8,265.7 L258.3,266.1 L258.8,266.6 L259.3,267.1 L259.8,267.6 L260.3,268.1 L260.8,268.6 L261.3,269.2 L261.8,269.8 L262.3,270.4 L262.8,271.0 L263.3,271.6 L263.8,272.3 L264.3,272.9 L264.8,273.6 L265.3,274.4 L265.8,275.1 L266.3,275.9 L266.8,276.7 L267.3,277.5 L267.8,278.4 L268.3,279.3 L268.8,280.3 L269.3,281.3 L269.8,282.4 L270.3,283.6 L270.8,284.8 L271.3,286.0 L271.8,287.3 L272.3,288.6 L272.8,289.9 L273.3,291.2 L273.8,292.5 L274.3,293.9 L274.8,295.2 L275.3,296.6 L275.8,297.9 L276.3,299.3 L276.8,300.6 L277.3,301.9 L277.8,303.3 L278.3,304.7 L278.8,306.0 L279.3,307.4 L279.8,308.9 L280.3,310.3 L280.8,311.8 L281.3,313.3 L281.8,314.9 L282.3,316.6 L282.8,318.2 L283.3,319.9 L283.8,321.6 L284.3,323.2 L284.8,324.8 L285.3,326.4 L285.8,327.9 L286.3,329.4 L286.8,331.0 L287.3,332.5 L287.8,334.0 L288.3,335.5 L288.8,337.0 L289.3,338.5 L289.8,340.0 L290.3,341.5 L290.8,343.0 L291.3,344.5 L291.8,345.9 L292.3,347.4 L292.8,348.7 L293.3,349.8 L293.8,350.7 L294.3,351.3 L294.8,351.7 L295.3,351.9 L295.8,352.1 L296.3,352.2 L296.8,352.4 L297.3,352.5 L297.8,352.7 L298.3,352.8 L298.8,352.9 L299.3,353.1 L299.8,353.2 L300.3,353.3 L300.8,353.5 L301.3,353.6 L301.8,353.8 L302.3,354.0 L302.8,354.1 L303.3,354.3 L303.8,354.5 L304.3,354.7 L304.8,354.8 L305.3,355.0 L305.8,355.2 L306.3,355.4 L306.8,355.5 L307.3,355.7 L307.8,355.9 L308.3,356.1 L308.8,356.2 L309.3,356.4 L309.8,356.5 L310.3,356.7 L310.8,356.8 L311.3,357.0 L311.8,357.1 L312.3,357.3 L312.8,357.6 L313.3,357.9 L313.8,358.3 L314.3,358.8 L314.8,359.3 L315.3,359.9 L315.8,360.5 L316.3,361.1 L316.8,361.7 L317.3,362.4 L317.8,363.1 L318.3,363.7 L318.8,364.4 L319.3,365.1 L319.8,365.8 L320.3,366.5 L320.8,367.2 L321.3,367.8 L321.8,368.5 L322.3,369.2 L322.8,369.9 L323.3,370.6 L323.8,371.3 L324.3,371.9 L324.8,372.6 L325.3,373.3 L325.8,374.0 L326.3,374.7 L326.8,375.4 L327.3,376.0 L327.8,376.7 L328.3,377.4 L328.8,378.1 L329.3,378.7 L329.8,379.4 L330.3,380.1 L330.8,380.8 L331.3,381.4 L331.8,382.1 L332.3,382.8 L332.8,383.5 L333.3,384.2 L333.8,384.9 L334.3,385.7 L334.8,386.4 L335.3,387.2 L335.8,387.9 L336.3,388.7 L336.8,389.4 L337.3,390.2 L337.8,391.0 L338.3,391.7 L338.8,392.5 L339.3,393.2 L339.8,394.0 L340.3,394.8 L340.8,395.5 L341.3,396.3 L341.8,397.0 L342.3,397.8 L342.8,398.5 L343.3,399.3 L343.8,400.0 L344.3,400.8 L344.8,401.5 L345.3,402.3 L345.8,403.0 L346.3,403.5 L346.8,403.9 L347.3,404.1 L347.8,404.3 L348.3,404.5 L348.8,404.5 L349.3,404.5 L349.8,405.1 L350.3,405.9 L350.8,406.7 L351.3,407.6 L351.8,408.4 L352.3,409.4 L352.8,410.4 L353.3,411.5 L353.8,412.4 L354.3,413.0 L354.8,413.1 L355.3,412.8 L355.8,412.4 L356.3,412.0 L356.8,411.6 L357.3,411.1 L357.8,410.7 L358.3,410.5 L358.8,410.7 L359.3,411.5 L359.8,412.5 L360.3,413.6 L360.8,414.7 L361.3,416.1 L361.8,417.7 L362.3,419.0 L362.8,419.4 L363.3,419.1 L363.8,418.5 L364.3,417.8 L364.8,417.0 L365.3,416.2 L365.8,415.2 L366.3,414.2 L366.8,413.6 L367.3,413.6 L367.8,414.4 L368.3,415.8 L368.8,417.5 L369.3,419.1 L369.8,420.8 L370.3,422.8 L370.8,424.7 L371.3,426.0 L371.8,426.3 L372.3,425.8 L372.8,425.0 L373.3,424.0 L373.8,423.1 L374.3,422.2 L374.8,421.3 L375.3,420.4 L375.8,419.6 L376.3,419.3 L376.8,419.7 L377.3,420.8 L377.8,422.1 L378.3,423.3 L378.8,424.9 L379.3,426.9 L379.8,428.6 L380.3,429.3 L380.8,429.0 L381.3,428.4 L381.8,427.8 L382.3,427.1 L382.8,426.4 L383.3,425.7 L383.8,424.9 L384.3,424.1 L384.8,423.4 L385.3,423.0 L385.8,422.9 L386.3,423.2 L386.8,423.7 L387.3,424.3 L387.8,424.8 L388.3,425.3 L388.8,426.0 L389.3,426.6 L389.8,427.1 L390.3,427.3 L390.8,426.8 L391.3,425.6 L391.8,424.0 L392.3,422.4 L392.8,421.2 L393.3,419.9 L393.8,418.6 L394.3,417.4 L394.8,416.4 L395.3,415.7 L395.8,415.5 L396.3,415.8 L396.8,416.3 L397.3,417.1 L397.8,417.9 L398.3,418.8 L398.8,419.6 L399.3,420.7 L399.8,421.9 L400.3,423.0 L400.8,423.5 L401.3,423.0 L401.8,422.2 L402.3,421.2 L402.8,420.2 L403.3,419.1 L403.8,418.0 L404.3,417.0 L404.8,416.0 L405.3,414.9 L405.8,413.9 L406.3,412.9 L406.8,411.9 L407.3,411.1 L407.8,411.2 L408.3,412.0 L408.8,413.3 L409.3,415.1 L409.8,417.0 L410.3,418.9 L410.8,420.8 L411.3,422.6 L411.8,425.3 L412.3,428.5 L412.8,431.5 L413.3,433.5 L413.8,433.9 L414.3,432.6 L414.8,430.6 L415.3,428.2 L415.8,425.5 L416.3,422.7 L416.8,419.9 L417.3,417.2 L417.8,414.4 L418.3,411.5 L418.8,408.7 L419.3,406.0 L419.8,403.6 L420.3,401.7 L420.8,400.3 L421.3,399.4 L421.8,399.0 L422.3,398.8 L422.8,399.0 L423.3,399.2 L423.8,399.5 L424.3,399.9 L424.8,400.3 L425.3,400.8 L425.8,401.3 L426.3,401.9 L426.8,402.5 L427.3,403.2 L427.8,404.0 L428.3,404.8 L428.8,405.6 L429.3,406.6 L429.8,407.6 L430.3,408.8 L430.8,410.0 L431.3,411.3 L431.8,412.8 L432.3,414.6 L432.8,416.7 L433.3,419.2 L433.8,421.9 L434.3,425.0 L434.8,428.4 L435.3,432.2 L435.8,436.6 L436.3,441.3 L436.8,446.0 L437.3,450.8 L437.8,455.9 L438.3,461.2 L438.8,466.8 L439.3,472.8 L439.8,478.7 L440.3,484.8 L440.8,490.8 L441.3,496.8 L441.8,502.8 L442.3,508.9 L442.8,515.0 L443.3,522.6 L443.8,532.0" stroke="#ff0000" stroke-width="3.4"/>
<path d="M57.9,461.8 L58.4,460.6 L58.9,459.3 L59.4,458.0 L59.9,456.6 L60.4,455.3 L60.9,454.0 L61.4,452.7 L61.9,451.4 L62.4,450.0 L62.9,448.5 L63.4,446.7 L63.9,444.5 L64.4,442.2 L64.9,439.6 L65.4,436.9 L65.9,434.2 L66.4,431.5 L66.9,428.8 L67.4,426.0 L67.9,423.3 L68.4,420.6 L68.9,417.8 L69.4,415.1 L69.9,412.5 L70.4,410.1 L70.9,408.0 L71.4,406.1 L71.9,404.3 L72.4,402.7 L72.9,401.4 L73.4,400.3 L73.9,399.4 L74.4,398.9 L74.9,398.6 L75.4,398.6 L75.9,398.7 L76.4,398.9 L76.9,399.2 L77.4,399.5 L77.9,399.9 L78.4,400.4 L78.9,400.9 L79.4,401.6 L79.9,402.4 L80.4,403.2 L80.9,404.2 L81.4,405.2 L81.9,406.4 L82.4,408.3 L82.9,410.7 L83.4,413.7 L83.9,417.0 L84.4,420.7 L84.9,425.4 L85.4,432.0 L85.9,438.2 L86.4,442.6 L86.9,446.1 L87.4,447.9 L87.9,446.7 L88.4,442.9 L88.9,439.0 L89.4,435.1 L89.9,431.2 L90.4,427.3 L90.9,423.3 L91.4,419.4 L91.9,416.1 L92.4,414.0 L92.9,412.9 L93.4,412.6 L93.9,413.0 L94.4,414.0 L94.9,415.2 L95.4,416.4 L95.9,417.7 L96.4,419.0 L96.9,420.4 L97.4,421.7 L97.9,423.2 L98.4,424.8 L98.9,426.5 L99.4,428.1 L99.9,429.4 L100.4,430.3 L100.9,429.7 L101.4,427.9 L101.9,425.4 L102.4,423.0 L102.9,421.4 L103.4,419.7 L103.9,417.9 L104.4,416.6 L104.9,416.2 L105.4,416.9 L105.9,418.3 L106.4,420.1 L106.9,422.0 L107.4,423.9 L107.9,425.7 L108.4,427.3 L108.9,429.0 L109.4,430.7 L109.9,432.3 L110.4,433.8 L110.9,434.9 L111.4,435.4 L111.9,434.7 L112.4,433.2 L112.9,431.5 L113.4,430.2 L113.9,429.3 L114.4,428.4 L114.9,427.5 L115.4,427.1 L115.9,427.2 L116.4,427.9 L116.9,429.0 L117.4,430.3 L117.9,431.6 L118.4,432.8 L118.9,433.9 L119.4,435.0 L119.9,436.0 L120.4,436.9 L120.9,437.5 L121.4,437.3 L121.9,435.6 L122.4,433.1 L122.9,430.5 L123.4,428.3 L123.9,426.9 L124.4,425.6 L124.9,424.6 L125.4,423.8 L125.9,423.3 L126.4,424.2 L126.9,426.5 L127.4,428.6 L127.9,429.3 L128.4,428.6 L128.9,427.7 L129.4,426.8 L129.9,425.9 L130.4,425.1 L130.9,424.4 L131.4,423.7 L131.9,422.9 L132.4,422.1 L132.9,421.6 L133.4,421.3 L133.9,421.4 L134.4,421.8 L134.9,422.2 L135.4,422.6 L135.9,423.0 L136.4,423.4 L136.9,423.8 L137.4,424.1 L137.9,424.5 L138.4,424.8 L138.9,425.1 L139.4,425.4 L139.9,425.1 L140.4,424.5 L140.9,423.6 L141.4,422.5 L141.9,421.4 L142.4,420.4 L142.9,419.7 L143.4,419.4 L143.9,419.5 L144.4,419.8 L144.9,420.2 L145.4,420.6 L145.9,421.0 L146.4,421.2 L146.9,421.5 L147.4,421.8 L147.9,421.8 L148.4,421.4 L148.9,420.7 L149.4,419.9 L149.9,419.0 L150.4,418.0 L150.9,417.0 L151.4,416.0 L151.9,415.2 L152.4,414.4 L152.9,413.6 L153.4,412.9 L153.9,412.1 L154.4,411.4 L154.9,410.6 L155.4,409.9 L155.9,409.1 L156.4,408.4 L156.9,407.7 L157.4,406.9 L157.9,406.2 L158.4,405.4 L158.9,404.7 L159.4,403.9 L159.9,403.2 L160.4,402.4 L160.9,401.7 L161.4,400.9 L161.9,400.2 L162.4,399.4 L162.9,398.7 L163.4,397.9 L163.9,397.2 L164.4,396.4 L164.9,395.7 L165.4,394.9 L165.9,394.0 L166.4,393.2 L166.9,392.3 L167.4,391.4 L167.9,390.5 L168.4,389.6 L168.9,388.6 L169.4,387.7 L169.9,386.8 L170.4,385.9 L170.9,385.0 L171.4,384.1 L171.9,383.3 L172.4,382.5 L172.9,381.7 L173.4,380.9 L173.9,380.1 L174.4,379.3 L174.9,378.5 L175.4,377.8 L175.9,377.0 L176.4,376.3 L176.9,375.5 L177.4,374.8 L177.9,374.1 L178.4,373.3 L178.9,372.6 L179.4,371.9 L179.9,371.1 L180.4,370.4 L180.9,369.7 L181.4,368.9 L181.9,368.2 L182.4,367.5 L182.9,366.7 L183.4,366.0 L183.9,365.3 L184.4,364.7 L184.9,364.0 L185.4,363.4 L185.9,362.9 L186.4,362.4 L186.9,361.9 L187.4,361.5 L187.9,361.1 L188.4,360.8 L188.9,360.5 L189.4,360.2 L189.9,360.0 L190.4,359.8 L190.9,359.6 L191.4,359.4 L191.9,359.3 L192.4,359.1 L192.9,359.0 L193.4,358.8 L193.9,358.7 L194.4,358.6 L194.9,358.4 L195.4,358.3 L195.9,358.2 L196.4,358.0 L196.9,357.9 L197.4,357.8 L197.9,357.7 L198.4,357.6 L198.9,357.5 L199.4,357.4 L199.9,357.3 L200.4,357.2 L200.9,357.0 L201.4,356.9 L201.9,356.7 L202.4,356.5 L202.9,356.1 L203.4,355.7 L203.9,355.2 L204.4,354.7 L204.9,354.1 L205.4,353.5 L205.9,352.9 L206.4,352.2 L206.9,351.2 L207.4,349.9 L207.9,348.3 L208.4,346.7 L208.9,345.0 L209.4,343.3 L209.9,341.7 L210.4,340.0 L210.9,338.3 L211.4,336.5 L211.9,334.8 L212.4,333.2 L212.9,331.9 L213.4,330.9 L213.9,330.2 L214.4,329.6 L214.9,329.0 L215.4,328.1 L215.9,327.0 L216.4,325.5 L216.9,323.9 L217.4,322.3 L217.9,320.6 L218.4,318.9 L218.9,317.2 L219.4,315.5 L219.9,313.9 L220.4,312.4 L220.9,310.9 L221.4,309.5 L221.9,308.1 L222.4,306.7 L222.9,305.3 L223.4,303.9 L223.9,302.6 L224.4,301.2 L224.9,299.8 L225.4,298.5 L225.9,297.1 L226.4,295.7 L226.9,294.4 L227.4,293.1 L227.9,291.7 L228.4,290.4 L228.9,289.1 L229.4,287.8 L229.9,286.6 L230.4,285.3 L230.9,284.1 L231.4,282.9 L231.9,281.7 L232.4,280.7 L232.9,279.7 L233.4,278.7 L233.9,277.8 L234.4,277.0 L234.9,276.2 L235.4,275.4 L235.9,274.6 L236.4,273.9 L236.9,273.2 L237.4,272.5 L237.9,271.9 L238.4,271.2 L238.9,270.6 L239.4,270.0 L239.9,269.4 L240.4,268.9 L240.9,268.3 L241.4,267.8 L241.9,267.3 L242.4,266.8 L242.9,266.3 L243.4,265.9 L243.9,265.4 L244.4,265.0 L244.9,264.6 L245.4,264.3 L245.9,263.9 L246.4,263.7 L246.9,263.4 L247.4,263.2 L247.9,263.0 L248.4,262.9 L248.9,262.8 L249.4,262.7 L249.9,262.7 L250.4,262.7 L250.6,262.7 L251.0,262.7 L251.5,262.7 L252.0,262.7 L252.5,262.8 L253.0,262.9 L253.5,263.0 L254.0,263.2 L254.5,263.4 L255.0,263.7 L255.5,263.9 L256.0,264.3 L256.5,264.6 L257.0,265.0 L257.5,265.4 L258.0,265.9 L258.5,266.3 L259.0,266.8 L259.5,267.3 L260.0,267.8 L260.5,268.3 L261.0,268.9 L261.5,269.4 L262.0,270.0 L262.5,270.6 L263.0,271.2 L263.5,271.9 L264.0,272.5 L264.5,273.2 L265.0,273.9 L265.5,274.6 L266.0,275.4 L266.5,276.2 L267.0,277.0 L267.5,277.8 L268.0,278.7 L268.5,279.7 L269.0,280.7 L269.5,281.7 L270.0,282.9 L270.5,284.1 L271.0,285.3 L271.5,286.6 L272.0,287.8 L272.5,289.1 L273.0,290.4 L273.5,291.7 L274.0,293.1 L274.5,294.4 L275.0,295.7 L275.5,297.1 L276.0,298.5 L276.5,299.8 L277.0,301.2 L277.5,302.6 L278.0,303.9 L278.5,305.3 L279.0,306.7 L279.5,308.1 L280.0,309.5 L280.5,310.9 L281.0,312.4 L281.5,313.9 L282.0,315.5 L282.5,317.2 L283.0,318.9 L283.5,320.6 L284.0,322.3 L284.5,323.9 L285.0,325.5 L285.5,327.0 L286.0,328.1 L286.5,329.0 L287.0,329.6 L287.5,330.2 L288.0,330.9 L288.5,331.9 L289.0,333.2 L289.5,334.8 L290.0,336.5 L290.5,338.3 L291.0,340.0 L291.5,341.7 L292.0,343.3 L292.5,345.0 L293.0,346.7 L293.5,348.3 L294.0,349.9 L294.5,351.2 L295.0,352.2 L295.5,352.9 L296.0,353.5 L296.5,354.1 L297.0,354.7 L297.5,355.2 L298.0,355.7 L298.5,356.1 L299.0,356.5 L299.5,356.7 L300.0,356.9 L300.5,357.0 L301.0,357.2 L301.5,357.3 L302.0,357.4 L302.5,357.5 L303.0,357.6 L303.5,357.7 L304.0,357.8 L304.5,357.9 L305.0,358.0 L305.5,358.2 L306.0,358.3 L306.5,358.4 L307.0,358.6 L307.5,358.7 L308.0,358.8 L308.5,359.0 L309.0,359.1 L309.5,359.3 L310.0,359.4 L310.5,359.6 L311.0,359.8 L311.5,360.0 L312.0,360.2 L312.5,360.5 L313.0,360.8 L313.5,361.1 L314.0,361.5 L314.5,361.9 L315.0,362.4 L315.5,362.9 L316.0,363.4 L316.5,364.0 L317.0,364.7 L317.5,365.3 L318.0,366.0 L318.5,366.7 L319.0,367.5 L319.5,368.2 L320.0,368.9 L320.5,369.7 L321.0,370.4 L321.5,371.1 L322.0,371.9 L322.5,372.6 L323.0,373.3 L323.5,374.1 L324.0,374.8 L324.5,375.5 L325.0,376.3 L325.5,377.0 L326.0,377.8 L326.5,378.5 L327.0,379.3 L327.5,380.1 L328.0,380.9 L328.5,381.7 L329.0,382.5 L329.5,383.3 L330.0,384.1 L330.5,385.0 L331.0,385.9 L331.5,386.8 L332.0,387.7 L332.5,388.6 L333.0,389.6 L333.5,390.5 L334.0,391.4 L334.5,392.3 L335.0,393.2 L335.5,394.0 L336.0,394.9 L336.5,395.7 L337.0,396.4 L337.5,397.2 L338.0,397.9 L338.5,398.7 L339.0,399.4 L339.5,400.2 L340.0,400.9 L340.5,401.7 L341.0,402.4 L341.5,403.2 L342.0,403.9 L342.5,404.7 L343.0,405.4 L343.5,406.2 L344.0,406.9 L344.5,407.7 L345.0,408.4 L345.5,409.1 L346.0,409.9 L346.5,410.6 L347.0,411.4 L347.5,412.1 L348.0,412.9 L348.5,413.6 L349.0,414.4 L349.5,415.2 L350.0,416.0 L350.5,417.0 L351.0,418.0 L351.5,419.0 L352.0,419.9 L352.5,420.7 L353.0,421.4 L353.5,421.8 L354.0,421.8 L354.5,421.5 L355.0,421.2 L355.5,421.0 L356.0,420.6 L356.5,420.2 L357.0,419.8 L357.5,419.5 L358.0,419.4 L358.5,419.7 L359.0,420.4 L359.5,421.4 L360.0,422.5 L360.5,423.6 L361.0,424.5 L361.5,425.1 L362.0,425.4 L362.5,425.1 L363.0,424.8 L363.5,424.5 L364.0,424.1 L364.5,423.8 L365.0,423.4 L365.5,423.0 L366.0,422.6 L366.5,422.2 L367.0,421.8 L367.5,421.4 L368.0,421.3 L368.5,421.6 L369.0,422.1 L369.5,422.9 L370.0,423.7 L370.5,424.4 L371.0,425.1 L371.5,425.9 L372.0,426.8 L372.5,427.7 L373.0,428.6 L373.5,429.3 L374.0,428.6 L374.5,426.5 L375.0,424.2 L375.5,423.3 L376.0,423.8 L376.5,424.6 L377.0,425.6 L377.5,426.9 L378.0,428.3 L378.5,430.5 L379.0,433.1 L379.5,435.6 L380.0,437.3 L380.5,437.5 L381.0,436.9 L381.5,436.0 L382.0,435.0 L382.5,433.9 L383.0,432.8 L383.5,431.6 L384.0,430.3 L384.5,429.0 L385.0,427.9 L385.5,427.2 L386.0,427.1 L386.5,427.5 L387.0,428.4 L387.5,429.3 L388.0,430.2 L388.5,431.5 L389.0,433.2 L389.5,434.7 L390.0,435.4 L390.5,434.9 L391.0,433.8 L391.5,432.3 L392.0,430.7 L392.5,429.0 L393.0,427.3 L393.5,425.7 L394.0,423.9 L394.5,422.0 L395.0,420.1 L395.5,418.3 L396.0,416.9 L396.5,416.2 L397.0,416.6 L397.5,417.9 L398.0,419.7 L398.5,421.4 L399.0,423.0 L399.5,425.4 L400.0,427.9 L400.5,429.7 L401.0,430.3 L401.5,429.4 L402.0,428.1 L402.5,426.5 L403.0,424.8 L403.5,423.2 L404.0,421.7 L404.5,420.4 L405.0,419.0 L405.5,417.7 L406.0,416.4 L406.5,415.2 L407.0,414.0 L407.5,413.0 L408.0,412.6 L408.5,412.9 L409.0,414.0 L409.5,416.1 L410.0,419.4 L410.5,423.3 L411.0,427.3 L411.5,431.2 L412.0,435.1 L412.5,439.0 L413.0,442.9 L413.5,446.7 L414.0,447.9 L414.5,446.1 L415.0,442.6 L415.5,438.2 L416.0,432.0 L416.5,425.4 L417.0,420.7 L417.5,417.0 L418.0,413.7 L418.5,410.7 L419.0,408.3 L419.5,406.4 L420.0,405.2 L420.5,404.2 L421.0,403.2 L421.5,402.4 L422.0,401.6 L422.5,400.9 L423.0,400.4 L423.5,399.9 L424.0,399.5 L424.5,399.2 L425.0,398.9 L425.5,398.7 L426.0,398.6 L426.5,398.6 L427.0,398.9 L427.5,399.4 L428.0,400.3 L428.5,401.4 L429.0,402.7 L429.5,404.3 L430.0,406.1 L430.5,408.0 L431.0,410.1 L431.5,412.5 L432.0,415.1 L432.5,417.8 L433.0,420.6 L433.5,423.3 L434.0,426.0 L434.5,428.8 L435.0,431.5 L435.5,434.2 L436.0,436.9 L436.5,439.6 L437.0,442.2 L437.5,444.5 L438.0,446.7 L438.5,448.5 L439.0,450.0 L439.5,451.4 L440.0,452.7 L440.5,454.0 L441.0,455.3 L441.5,456.6 L442.0,458.0 L442.5,459.3 L443.0,460.6 L443.5,461.8" stroke="#0000ff" stroke-width="3.3" stroke-dasharray="5.6 9.6" stroke-linecap="round"/>
<path d="M57.9,464.2 L58.4,465.5 L58.9,466.5 L59.4,467.5 L59.9,468.3 L60.4,469.1 L60.9,469.7 L61.4,469.9 L61.9,469.7 L62.4,468.7 L62.9,466.8 L63.4,464.5 L63.9,461.9 L64.4,458.8 L64.9,455.1 L65.4,450.0 L65.9,443.9 L66.4,438.4 L66.9,434.6 L67.4,431.8 L67.9,429.3 L68.4,426.9 L68.9,424.7 L69.4,422.6 L69.9,420.6 L70.4,418.6 L70.9,416.7 L71.4,414.7 L71.9,412.9 L72.4,411.2 L72.9,409.5 L73.4,408.0 L73.9,406.8 L74.4,405.7 L74.9,404.9 L75.4,404.3 L75.9,403.9 L76.4,403.7 L76.9,403.6 L77.4,403.6 L77.9,403.7 L78.4,404.0 L78.9,404.5 L79.4,405.2 L79.9,406.3 L80.4,407.8 L80.9,409.6 L81.4,411.9 L81.9,414.5 L82.4,417.3 L82.9,420.1 L83.4,422.8 L83.9,425.3 L84.4,427.9 L84.9,430.4 L85.4,432.5 L85.9,434.0 L86.4,434.7 L86.9,434.4 L87.4,433.4 L87.9,431.9 L88.4,430.2 L88.9,428.6 L89.4,427.0 L89.9,425.0 L90.4,422.9 L90.9,420.7 L91.4,418.7 L91.9,417.1 L92.4,416.0 L92.9,415.5 L93.4,415.6 L93.9,416.1 L94.4,416.9 L94.9,417.9 L95.4,419.0 L95.9,420.1 L96.4,422.0 L96.9,424.2 L97.4,425.9 L97.9,426.3 L98.4,426.0 L98.9,425.5 L99.4,424.9 L99.9,424.2 L100.4,423.5 L100.9,422.8 L101.4,421.9 L101.9,420.9 L102.4,419.9 L102.9,418.9 L103.4,418.1 L103.9,417.6 L104.4,417.4 L104.9,418.3 L105.4,419.8 L105.9,421.6 L106.4,423.3 L106.9,425.6 L107.4,428.0 L107.9,429.8 L108.4,430.2 L108.9,430.1 L109.4,429.6 L109.9,429.0 L110.4,428.3 L110.9,427.6 L111.4,427.1 L111.9,426.7 L112.4,426.3 L112.9,425.9 L113.4,425.6 L113.9,425.3 L114.4,425.3 L114.9,425.5 L115.4,426.4 L115.9,427.7 L116.4,429.2 L116.9,430.7 L117.4,432.7 L117.9,435.5 L118.4,437.9 L118.9,438.4 L119.4,436.6 L119.9,434.6 L120.4,432.6 L120.9,430.6 L121.4,428.6 L121.9,426.6 L122.4,424.8 L122.9,423.8 L123.4,423.9 L123.9,424.5 L124.4,425.3 L124.9,425.9 L125.4,426.3 L125.9,426.9 L126.4,427.5 L126.9,428.0 L127.4,428.3 L127.9,428.3 L128.4,427.8 L128.9,426.8 L129.4,425.6 L129.9,424.3 L130.4,423.2 L130.9,422.3 L131.4,421.3 L131.9,420.5 L132.4,419.7 L132.9,418.9 L133.4,418.3 L133.9,418.7 L134.4,420.0 L134.9,421.7 L135.4,423.3 L135.9,424.2 L136.4,424.2 L136.9,423.8 L137.4,423.3 L137.9,422.8 L138.4,422.4 L138.9,421.9 L139.4,421.6 L139.9,421.3 L140.4,421.0 L140.9,420.7 L141.4,420.4 L141.9,420.2 L142.4,419.9 L142.9,419.5 L143.4,419.2 L143.9,418.8 L144.4,418.5 L144.9,418.1 L145.4,417.7 L145.9,417.4 L146.4,417.0 L146.9,416.6 L147.4,416.3 L147.9,416.0 L148.4,415.7 L148.9,415.4 L149.4,415.1 L149.9,414.8 L150.4,414.5 L150.9,414.1 L151.4,413.6 L151.9,413.1 L152.4,412.4 L152.9,411.8 L153.4,411.0 L153.9,410.3 L154.4,409.5 L154.9,408.7 L155.4,407.9 L155.9,407.2 L156.4,406.4 L156.9,405.7 L157.4,404.9 L157.9,404.2 L158.4,403.4 L158.9,402.7 L159.4,402.0 L159.9,401.2 L160.4,400.5 L160.9,399.7 L161.4,399.0 L161.9,398.2 L162.4,397.5 L162.9,396.7 L163.4,396.0 L163.9,395.2 L164.4,394.4 L164.9,393.7 L165.4,392.8 L165.9,392.0 L166.4,391.1 L166.9,390.2 L167.4,389.3 L167.9,388.4 L168.4,387.5 L168.9,386.6 L169.4,385.7 L169.9,384.8 L170.4,383.9 L170.9,383.0 L171.4,382.1 L171.9,381.3 L172.4,380.5 L172.9,379.7 L173.4,378.9 L173.9,378.1 L174.4,377.3 L174.9,376.5 L175.4,375.8 L175.9,375.0 L176.4,374.3 L176.9,373.5 L177.4,372.8 L177.9,372.1 L178.4,371.3 L178.9,370.6 L179.4,369.9 L179.9,369.1 L180.4,368.4 L180.9,367.7 L181.4,366.9 L181.9,366.1 L182.4,365.4 L182.9,364.6 L183.4,363.9 L183.9,363.2 L184.4,362.5 L184.9,361.8 L185.4,361.2 L185.9,360.7 L186.4,360.2 L186.9,359.8 L187.4,359.4 L187.9,359.1 L188.4,358.9 L188.9,358.6 L189.4,358.4 L189.9,358.1 L190.4,357.9 L190.9,357.6 L191.4,357.4 L191.9,357.1 L192.4,356.9 L192.9,356.6 L193.4,356.4 L193.9,356.1 L194.4,355.9 L194.9,355.6 L195.4,355.4 L195.9,355.2 L196.4,354.9 L196.9,354.7 L197.4,354.4 L197.9,354.2 L198.4,353.9 L198.9,353.7 L199.4,353.4 L199.9,353.2 L200.4,352.9 L200.9,352.7 L201.4,352.4 L201.9,352.2 L202.4,351.9 L202.9,351.7 L203.4,351.4 L203.9,351.2 L204.4,350.8 L204.9,350.2 L205.4,349.4 L205.9,348.6 L206.4,347.7 L206.9,346.7 L207.4,345.7 L207.9,344.7 L208.4,343.7 L208.9,342.7 L209.4,341.7 L209.9,340.7 L210.4,339.7 L210.9,338.8 L211.4,337.9 L211.9,336.9 L212.4,335.9 L212.9,334.7 L213.4,333.5 L213.9,332.2 L214.4,330.8 L214.9,329.4 L215.4,328.0 L215.9,326.5 L216.4,325.0 L216.9,323.4 L217.4,321.9 L217.9,320.3 L218.4,318.6 L218.9,317.0 L219.4,315.4 L219.9,313.9 L220.4,312.4 L220.9,310.9 L221.4,309.5 L221.9,308.1 L222.4,306.7 L222.9,305.3 L223.4,303.9 L223.9,302.5 L224.4,301.2 L224.9,299.8 L225.4,298.5 L225.9,297.1 L226.4,295.7 L226.9,294.4 L227.4,293.1 L227.9,291.7 L228.4,290.4 L228.9,289.1 L229.4,287.8 L229.9,286.6 L230.4,285.3 L230.9,284.1 L231.4,282.9 L231.9,281.7 L232.4,280.7 L232.9,279.7 L233.4,278.7 L233.9,277.8 L234.4,277.0 L234.9,276.2 L235.4,275.4 L235.9,274.6 L236.4,273.9 L236.9,273.2 L237.4,272.5 L237.9,271.9 L238.4,271.2 L238.9,270.6 L239.4,270.0 L239.9,269.4 L240.4,268.9 L240.9,268.3 L241.4,267.8 L241.9,267.3 L242.4,266.8 L242.9,266.3 L243.4,265.9 L243.9,265.4 L244.4,265.0 L244.9,264.6 L245.4,264.3 L245.9,263.9 L246.4,263.7 L246.9,263.4 L247.4,263.2 L247.9,263.0 L248.4,262.9 L248.9,262.8 L249.4,262.7 L249.9,262.7 L250.4,262.7 L250.6,262.7 L251.0,262.7 L251.5,262.7 L252.0,262.7 L252.5,262.8 L253.0,262.9 L253.5,263.0 L254.0,263.2 L254.5,263.4 L255.0,263.7 L255.5,263.9 L256.0,264.3 L256.5,264.6 L257.0,265.0 L257.5,265.4 L258.0,265.9 L258.5,266.3 L259.0,266.8 L259.5,267.3 L260.0,267.8 L260.5,268.3 L261.0,268.9 L261.5,269.4 L262.0,270.0 L262.5,270.6 L263.0,271.2 L263.5,271.9 L264.0,272.5 L264.5,273.2 L265.0,273.9 L265.5,274.6 L266.0,275.4 L266.5,276.2 L267.0,277.0 L267.5,277.8 L268.0,278.7 L268.5,279.7 L269.0,280.7 L269.5,281.7 L270.0,282.9 L270.5,284.1 L271.0,285.3 L271.5,286.6 L272.0,287.8 L272.5,289.1 L273.0,290.4 L273.5,291.7 L274.0,293.1 L274.5,294.4 L275.0,295.7 L275.5,297.1 L276.0,298.5 L276.5,299.8 L277.0,301.2 L277.5,302.5 L278.0,303.9 L278.5,305.3 L279.0,306.7 L279.5,308.1 L280.0,309.5 L280.5,310.9 L281.0,312.4 L281.5,313.9 L282.0,315.4 L282.5,317.0 L283.0,318.6 L283.5,320.3 L284.0,321.9 L284.5,323.4 L285.0,325.0 L285.5,326.5 L286.0,328.0 L286.5,329.4 L287.0,330.8 L287.5,332.2 L288.0,333.5 L288.5,334.7 L289.0,335.9 L289.5,336.9 L290.0,337.9 L290.5,338.8 L291.0,339.7 L291.5,340.7 L292.0,341.7 L292.5,342.7 L293.0,343.7 L293.5,344.7 L294.0,345.7 L294.5,346.7 L295.0,347.7 L295.5,348.6 L296.0,349.4 L296.5,350.2 L297.0,350.8 L297.5,351.2 L298.0,351.4 L298.5,351.7 L299.0,351.9 L299.5,352.2 L300.0,352.4 L300.5,352.7 L301.0,352.9 L301.5,353.2 L302.0,353.4 L302.5,353.7 L303.0,353.9 L303.5,354.2 L304.0,354.4 L304.5,354.7 L305.0,354.9 L305.5,355.2 L306.0,355.4 L306.5,355.6 L307.0,355.9 L307.5,356.1 L308.0,356.4 L308.5,356.6 L309.0,356.9 L309.5,357.1 L310.0,357.4 L310.5,357.6 L311.0,357.9 L311.5,358.1 L312.0,358.4 L312.5,358.6 L313.0,358.9 L313.5,359.1 L314.0,359.4 L314.5,359.8 L315.0,360.2 L315.5,360.7 L316.0,361.2 L316.5,361.8 L317.0,362.5 L317.5,363.2 L318.0,363.9 L318.5,364.6 L319.0,365.4 L319.5,366.1 L320.0,366.9 L320.5,367.7 L321.0,368.4 L321.5,369.1 L322.0,369.9 L322.5,370.6 L323.0,371.3 L323.5,372.1 L324.0,372.8 L324.5,373.5 L325.0,374.3 L325.5,375.0 L326.0,375.8 L326.5,376.5 L327.0,377.3 L327.5,378.1 L328.0,378.9 L328.5,379.7 L329.0,380.5 L329.5,381.3 L330.0,382.1 L330.5,383.0 L331.0,383.9 L331.5,384.8 L332.0,385.7 L332.5,386.6 L333.0,387.5 L333.5,388.4 L334.0,389.3 L334.5,390.2 L335.0,391.1 L335.5,392.0 L336.0,392.8 L336.5,393.7 L337.0,394.4 L337.5,395.2 L338.0,396.0 L338.5,396.7 L339.0,397.5 L339.5,398.2 L340.0,399.0 L340.5,399.7 L341.0,400.5 L341.5,401.2 L342.0,402.0 L342.5,402.7 L343.0,403.4 L343.5,404.2 L344.0,404.9 L344.5,405.7 L345.0,406.4 L345.5,407.2 L346.0,407.9 L346.5,408.7 L347.0,409.5 L347.5,410.3 L348.0,411.0 L348.5,411.8 L349.0,412.4 L349.5,413.1 L350.0,413.6 L350.5,414.1 L351.0,414.5 L351.5,414.8 L352.0,415.1 L352.5,415.4 L353.0,415.7 L353.5,416.0 L354.0,416.3 L354.5,416.6 L355.0,417.0 L355.5,417.4 L356.0,417.7 L356.5,418.1 L357.0,418.5 L357.5,418.8 L358.0,419.2 L358.5,419.5 L359.0,419.9 L359.5,420.2 L360.0,420.4 L360.5,420.7 L361.0,421.0 L361.5,421.3 L362.0,421.6 L362.5,421.9 L363.0,422.4 L363.5,422.8 L364.0,423.3 L364.5,423.8 L365.0,424.2 L365.5,424.2 L366.0,423.3 L366.5,421.7 L367.0,420.0 L367.5,418.7 L368.0,418.3 L368.5,418.9 L369.0,419.7 L369.5,420.5 L370.0,421.3 L370.5,422.3 L371.0,423.2 L371.5,424.3 L372.0,425.6 L372.5,426.8 L373.0,427.8 L373.5,428.3 L374.0,428.3 L374.5,428.0 L375.0,427.5 L375.5,426.9 L376.0,426.3 L376.5,425.9 L377.0,425.3 L377.5,424.5 L378.0,423.9 L378.5,423.8 L379.0,424.8 L379.5,426.6 L380.0,428.6 L380.5,430.6 L381.0,432.6 L381.5,434.6 L382.0,436.6 L382.5,438.4 L383.0,437.9 L383.5,435.5 L384.0,432.7 L384.5,430.7 L385.0,429.2 L385.5,427.7 L386.0,426.4 L386.5,425.5 L387.0,425.3 L387.5,425.3 L388.0,425.6 L388.5,425.9 L389.0,426.3 L389.5,426.7 L390.0,427.1 L390.5,427.6 L391.0,428.3 L391.5,429.0 L392.0,429.6 L392.5,430.1 L393.0,430.2 L393.5,429.8 L394.0,428.0 L394.5,425.6 L395.0,423.3 L395.5,421.6 L396.0,419.8 L396.5,418.3 L397.0,417.4 L397.5,417.6 L398.0,418.1 L398.5,418.9 L399.0,419.9 L399.5,420.9 L400.0,421.9 L400.5,422.8 L401.0,423.5 L401.5,424.2 L402.0,424.9 L402.5,425.5 L403.0,426.0 L403.5,426.3 L404.0,425.9 L404.5,424.2 L405.0,422.0 L405.5,420.1 L406.0,419.0 L406.5,417.9 L407.0,416.9 L407.5,416.1 L408.0,415.6 L408.5,415.5 L409.0,416.0 L409.5,417.1 L410.0,418.7 L410.5,420.7 L411.0,422.9 L411.5,425.0 L412.0,427.0 L412.5,428.6 L413.0,430.2 L413.5,431.9 L414.0,433.4 L414.5,434.4 L415.0,434.7 L415.5,434.0 L416.0,432.5 L416.5,430.4 L417.0,427.9 L417.5,425.3 L418.0,422.8 L418.5,420.1 L419.0,417.3 L419.5,414.5 L420.0,411.9 L420.5,409.6 L421.0,407.8 L421.5,406.3 L422.0,405.2 L422.5,404.5 L423.0,404.0 L423.5,403.7 L424.0,403.6 L424.5,403.6 L425.0,403.7 L425.5,403.9 L426.0,404.3 L426.5,404.9 L427.0,405.7 L427.5,406.8 L428.0,408.0 L428.5,409.5 L429.0,411.2 L429.5,412.9 L430.0,414.7 L430.5,416.7 L431.0,418.6 L431.5,420.6 L432.0,422.6 L432.5,424.7 L433.0,426.9 L433.5,429.3 L434.0,431.8 L434.5,434.6 L435.0,438.4 L435.5,443.9 L436.0,450.0 L436.5,455.1 L437.0,458.8 L437.5,461.9 L438.0,464.5 L438.5,466.8 L439.0,468.7 L439.5,469.7 L440.0,469.9 L440.5,469.7 L441.0,469.1 L441.5,468.3 L442.0,467.5 L442.5,466.5 L443.0,465.5 L443.5,464.2" stroke="#ff00ff" stroke-width="3.1" stroke-dasharray="0.01 5.6" stroke-linecap="round"/>
</g>
<rect x="57.7" y="241.6" width="386.0" height="312.9" fill="none" stroke="#000" stroke-width="2.2"/>
<text x="57.7" y="575.2" font-size="17.3" text-anchor="middle" font-weight="bold" font-style="normal">0</text>
<line x1="122.0" y1="554.5" x2="122.0" y2="548.5" stroke="#000" stroke-width="2.2"/>
<text x="122.0" y="575.2" font-size="17.3" text-anchor="middle" font-weight="bold" font-style="normal">60</text>
<line x1="186.4" y1="554.5" x2="186.4" y2="548.5" stroke="#000" stroke-width="2.2"/>
<text x="186.4" y="575.2" font-size="17.3" text-anchor="middle" font-weight="bold" font-style="normal">120</text>
<line x1="250.7" y1="554.5" x2="250.7" y2="548.5" stroke="#000" stroke-width="2.2"/>
<text x="250.7" y="575.2" font-size="17.3" text-anchor="middle" font-weight="bold" font-style="normal">180</text>
<line x1="315.0" y1="554.5" x2="315.0" y2="548.5" stroke="#000" stroke-width="2.2"/>
<text x="315.0" y="575.2" font-size="17.3" text-anchor="middle" font-weight="bold" font-style="normal">240</text>
<line x1="379.4" y1="554.5" x2="379.4" y2="548.5" stroke="#000" stroke-width="2.2"/>
<text x="379.4" y="575.2" font-size="17.3" text-anchor="middle" font-weight="bold" font-style="normal">300</text>
<text x="443.7" y="575.2" font-size="17.3" text-anchor="middle" font-weight="bold" font-style="normal">360</text>
<text x="49.3" y="246.7" font-size="17.3" text-anchor="end" font-weight="bold" font-style="normal">20</text>
<line x1="57.7" y1="286.3" x2="63.7" y2="286.3" stroke="#000" stroke-width="2.2"/>
<text x="49.3" y="291.4" font-size="17.3" text-anchor="end" font-weight="bold" font-style="normal">10</text>
<line x1="57.7" y1="331.0" x2="63.7" y2="331.0" stroke="#000" stroke-width="2.2"/>
<text x="49.3" y="336.1" font-size="17.3" text-anchor="end" font-weight="bold" font-style="normal">0</text>
<line x1="57.7" y1="375.7" x2="63.7" y2="375.7" stroke="#000" stroke-width="2.2"/>
<text x="49.3" y="380.8" font-size="17.3" text-anchor="end" font-weight="bold" font-style="normal">-10</text>
<line x1="57.7" y1="420.4" x2="63.7" y2="420.4" stroke="#000" stroke-width="2.2"/>
<text x="49.3" y="425.5" font-size="17.3" text-anchor="end" font-weight="bold" font-style="normal">-20</text>
<line x1="57.7" y1="465.1" x2="63.7" y2="465.1" stroke="#000" stroke-width="2.2"/>
<text x="49.3" y="470.2" font-size="17.3" text-anchor="end" font-weight="bold" font-style="normal">-30</text>
<line x1="57.7" y1="509.8" x2="63.7" y2="509.8" stroke="#000" stroke-width="2.2"/>
<text x="49.3" y="514.9" font-size="17.3" text-anchor="end" font-weight="bold" font-style="normal">-40</text>
<text x="49.3" y="559.6" font-size="17.3" text-anchor="end" font-weight="bold" font-style="normal">-50</text>
<text x="250.4" y="597" font-size="25.8" text-anchor="middle" font-weight="bold" font-style="normal" textLength="123" lengthAdjust="spacing">Theta(deg)</text>
<text x="19.6" y="397.3" font-size="25.8" text-anchor="middle" font-weight="bold" font-style="normal" transform="rotate(-90 19.6 397.3)" textLength="208" lengthAdjust="spacing">Realized Gain(dB)</text>
<line x1="174.2" y1="428.3" x2="213" y2="428.3" stroke="#000" stroke-width="3.6" stroke-linecap="round"/>
<text x="218.2" y="434.1" font-size="17.6" font-weight="bold">Sim. <tspan font-style="italic">yOz</tspan>-plane</text>
<line x1="174.2" y1="451" x2="213" y2="451" stroke="#ff0000" stroke-width="3.4" stroke-linecap="round"/>
<text x="218.2" y="456.8" font-size="17.6" font-weight="bold">Sim. <tspan font-style="italic">xOz</tspan>-plane</text>
<line x1="174.2" y1="473" x2="213" y2="473" stroke="#0000ff" stroke-width="3.3" stroke-dasharray="5.7 9.9" stroke-linecap="round"/>
<text x="218.2" y="478.8" font-size="17.6" font-weight="bold">Mea. <tspan font-style="italic">yOz</tspan>-plane</text>
<line x1="174.2" y1="495.2" x2="213" y2="495.2" stroke="#ff00ff" stroke-width="3.1" stroke-dasharray="0.01 5.6" stroke-linecap="round"/>
<text x="218.2" y="501.0" font-size="17.6" font-weight="bold">Mea. <tspan font-style="italic">xOz</tspan>-plane</text>
<defs><clipPath id="clipD"><rect x="625.1" y="241.8" width="385.79999999999995" height="312.59999999999997"/></clipPath></defs>
<line x1="625.1" y1="319.9" x2="1010.9" y2="319.9" stroke="#000" stroke-width="2.4" stroke-dasharray="5.8 3.8"/>
<g clip-path="url(#clipD)" fill="none" stroke-linejoin="round">
<path d="M625.3,243.0 L625.7,244.4 L626.1,246.1 L626.5,248.2 L626.9,250.7 L627.3,253.6 L627.7,256.9 L628.1,260.1 L628.5,263.1 L628.9,266.4 L629.3,269.6 L629.7,272.3 L630.1,274.0 L630.5,274.2 L630.9,273.1 L631.3,271.3 L631.7,269.0 L632.1,266.6 L632.5,264.2 L632.9,262.1 L633.3,260.3 L633.7,258.5 L634.1,256.6 L634.5,254.8 L634.9,253.0 L635.3,251.3 L635.7,249.8 L636.1,248.5 L636.5,247.3 L636.9,246.5 L637.3,245.9 L637.7,245.6 L638.1,245.4 L638.5,245.4 L638.9,245.5 L639.3,245.6 L639.7,245.7 L640.1,245.8 L640.5,246.0 L640.9,246.1 L641.3,246.3 L641.7,246.6 L642.1,246.8 L642.5,247.1 L642.9,247.5 L643.3,247.8 L643.7,248.2 L644.1,248.6 L644.5,249.2 L644.9,249.8 L645.3,250.6 L645.7,251.4 L646.1,252.3 L646.5,253.2 L646.9,254.2 L647.3,255.2 L647.7,256.2 L648.1,257.4 L648.5,258.8 L648.9,260.5 L649.3,262.4 L649.7,264.7 L650.1,267.4 L650.5,270.5 L650.9,274.1 L651.3,278.1 L651.7,282.5 L652.1,287.0 L652.5,291.7 L652.9,296.5 L653.3,301.7 L653.7,307.0 L654.1,312.1 L654.5,316.9 L654.9,321.3 L655.3,324.8 L655.7,327.0 L656.1,327.4 L656.5,326.3 L656.9,324.8 L657.3,323.0 L657.7,321.1 L658.1,319.5 L658.5,318.2 L658.9,316.9 L659.3,315.7 L659.7,314.7 L660.1,314.1 L660.5,314.4 L660.9,315.9 L661.3,318.4 L661.7,321.3 L662.1,324.5 L662.5,328.0 L662.9,331.9 L663.3,335.9 L663.7,339.9 L664.1,343.8 L664.5,347.3 L664.9,350.9 L665.3,354.6 L665.7,358.1 L666.1,360.8 L666.5,362.2 L666.9,361.8 L667.3,359.9 L667.7,357.9 L668.1,355.8 L668.5,353.6 L668.9,351.5 L669.3,349.4 L669.7,347.3 L670.1,345.2 L670.5,343.2 L670.9,341.1 L671.3,339.1 L671.7,337.0 L672.1,335.0 L672.5,333.0 L672.9,331.2 L673.3,330.0 L673.7,329.4 L674.1,329.1 L674.5,329.2 L674.9,329.4 L675.3,329.6 L675.7,329.9 L676.1,330.4 L676.5,331.1 L676.9,332.1 L677.3,333.4 L677.7,335.0 L678.1,337.0 L678.5,339.2 L678.9,341.6 L679.3,344.4 L679.7,347.6 L680.1,351.2 L680.5,355.0 L680.9,358.8 L681.3,362.5 L681.7,366.3 L682.1,370.1 L682.5,373.8 L682.9,377.5 L683.3,381.2 L683.7,385.0 L684.1,407.4 L684.5,419.6 L684.9,429.7 L685.3,439.5 L685.7,448.7 L686.1,457.6 L686.5,466.3 L686.9,474.9 L687.3,483.3 L687.7,490.7 L688.1,494.5 L688.5,492.6 L688.9,487.1 L689.3,480.0 L689.7,472.5 L690.1,464.1 L690.5,455.9 L690.9,448.7 L691.3,443.0 L691.7,438.5 L692.1,435.4 L692.5,433.6 L692.9,433.4 L693.3,434.7 L693.7,436.5 L694.1,438.9 L694.5,441.7 L694.9,445.0 L695.3,448.7 L695.7,452.9 L696.1,457.3 L696.5,461.8 L696.9,466.3 L697.3,470.4 L697.7,474.1 L698.1,477.1 L698.5,479.0 L698.9,479.1 L699.3,476.4 L699.7,471.4 L700.1,465.1 L700.5,458.0 L700.9,449.9 L701.3,441.7 L701.7,434.2 L702.1,427.9 L702.5,422.0 L702.9,416.5 L703.3,411.3 L703.7,406.6 L704.1,402.4 L704.5,398.6 L704.9,395.2 L705.3,392.1 L705.7,389.4 L706.1,387.2 L706.5,385.5 L706.9,384.2 L707.3,383.2 L707.7,382.6 L708.1,382.2 L708.5,382.2 L708.9,382.4 L709.3,382.7 L709.7,383.4 L710.1,384.4 L710.5,385.9 L710.9,387.8 L711.3,390.0 L711.7,392.5 L712.1,395.4 L712.5,398.5 L712.9,402.0 L713.3,405.6 L713.7,409.3 L714.1,412.9 L714.5,416.2 L714.9,419.3 L715.3,422.1 L715.7,424.8 L716.1,427.3 L716.5,429.7 L716.9,432.0 L717.3,433.9 L717.7,435.2 L718.1,436.0 L718.5,436.1 L718.9,435.6 L719.3,434.5 L719.7,433.0 L720.1,431.1 L720.5,428.9 L720.9,426.3 L721.3,423.4 L721.7,420.5 L722.1,417.7 L722.5,415.2 L722.9,413.2 L723.3,411.4 L723.7,409.8 L724.1,408.4 L724.5,407.3 L724.9,406.5 L725.3,405.9 L725.7,405.6 L726.1,405.5 L726.5,405.7 L726.9,406.1 L727.3,406.6 L727.7,407.2 L728.1,408.0 L728.5,408.8 L728.9,409.8 L729.3,411.0 L729.7,412.3 L730.1,413.6 L730.5,414.7 L730.9,415.6 L731.3,416.3 L731.7,417.0 L732.1,417.5 L732.5,417.9 L732.9,418.3 L733.3,418.6 L733.7,418.8 L734.1,419.0 L734.5,419.1 L734.9,419.2 L735.3,419.2 L735.7,419.1 L736.1,418.9 L736.5,418.6 L736.9,418.2 L737.3,417.5 L737.7,416.8 L738.1,416.0 L738.5,415.3 L738.9,414.7 L739.3,414.3 L739.7,413.9 L740.1,413.6 L740.5,413.3 L740.9,413.2 L741.3,413.2 L741.7,413.3 L742.1,413.4 L742.5,413.7 L742.9,414.1 L743.3,414.7 L743.7,415.4 L744.1,416.0 L744.5,416.7 L744.9,417.4 L745.3,418.1 L745.7,418.8 L746.1,419.5 L746.5,420.2 L746.9,420.9 L747.3,421.6 L747.7,422.3 L748.1,423.0 L748.5,423.8 L748.9,424.5 L749.3,425.2 L749.7,425.8 L750.1,426.4 L750.5,426.8 L750.9,427.1 L751.3,427.2 L751.7,427.2 L752.1,427.1 L752.5,427.0 L752.9,426.8 L753.3,426.6 L753.7,426.3 L754.1,426.0 L754.5,425.7 L754.9,425.4 L755.3,425.0 L755.7,424.6 L756.1,424.2 L756.5,423.8 L756.9,423.5 L757.3,423.1 L757.7,422.7 L758.1,422.5 L758.5,422.2 L758.9,422.1 L759.3,421.9 L759.7,421.8 L760.1,421.7 L760.5,421.6 L760.9,421.5 L761.3,421.4 L761.7,421.3 L762.1,421.3 L762.5,421.2 L762.9,421.1 L763.3,421.0 L763.7,421.0 L764.1,420.9 L764.5,420.8 L764.9,420.8 L765.3,420.7 L765.7,420.7 L766.1,420.7 L766.5,420.6 L766.9,420.6 L767.3,420.5 L767.7,420.5 L768.1,420.4 L768.5,420.3 L768.9,420.1 L769.3,419.7 L769.7,419.3 L770.1,418.8 L770.5,418.2 L770.9,417.6 L771.3,417.0 L771.7,416.4 L772.1,415.8 L772.5,415.1 L772.9,414.4 L773.3,413.6 L773.7,412.9 L774.1,412.2 L774.5,411.5 L774.9,410.8 L775.3,410.2 L775.7,409.6 L776.1,409.1 L776.5,408.6 L776.9,408.1 L777.3,407.6 L777.7,407.1 L778.1,406.7 L778.5,406.2 L778.9,405.7 L779.3,405.3 L779.7,404.9 L780.1,404.5 L780.5,404.0 L780.9,403.7 L781.3,403.3 L781.7,402.9 L782.1,402.5 L782.5,402.2 L782.9,401.8 L783.3,401.5 L783.7,401.1 L784.1,400.8 L784.5,400.4 L784.9,400.1 L785.3,399.7 L785.7,399.4 L786.1,399.0 L786.5,398.7 L786.9,398.4 L787.3,398.0 L787.7,397.7 L788.1,397.4 L788.5,397.0 L788.9,396.7 L789.3,396.4 L789.7,396.1 L790.1,395.8 L790.5,395.4 L790.9,395.1 L791.3,394.8 L791.7,394.5 L792.1,394.2 L792.5,394.0 L792.9,393.7 L793.3,393.4 L793.7,393.1 L794.1,392.9 L794.5,392.7 L794.9,392.5 L795.3,392.3 L795.7,392.2 L796.1,392.1 L796.5,392.0 L796.9,391.9 L797.3,391.8 L797.7,391.7 L798.1,391.7 L798.5,391.7 L798.9,391.6 L799.3,391.6 L799.7,391.6 L800.1,391.6 L800.5,391.6 L800.9,391.7 L801.3,391.7 L801.7,391.8 L802.1,391.8 L802.5,391.9 L802.9,392.0 L803.3,392.1 L803.7,392.2 L804.1,392.3 L804.5,392.4 L804.9,392.5 L805.3,392.6 L805.7,392.7 L806.1,392.9 L806.5,393.0 L806.9,393.2 L807.3,393.4 L807.7,393.6 L808.1,393.8 L808.5,394.1 L808.9,394.4 L809.3,394.7 L809.7,395.1 L810.1,395.5 L810.5,395.9 L810.9,396.4 L811.3,396.9 L811.7,397.4 L812.1,398.0 L812.5,398.5 L812.9,399.1 L813.3,399.7 L813.7,400.3 L814.1,400.8 L814.5,401.4 L814.9,402.0 L815.3,402.6 L815.7,403.1 L816.1,403.7 L816.5,404.2 L816.9,404.7 L817.3,405.2 L817.7,405.7 L818.1,406.2 L818.5,406.7 L818.9,407.2 L819.3,407.7 L819.7,408.2 L820.1,408.7 L820.5,409.1 L820.9,409.6 L821.3,410.0 L821.7,410.5 L822.1,410.9 L822.5,411.3 L822.9,411.6 L823.3,412.0 L823.7,412.3 L824.1,412.6 L824.5,412.8 L824.9,413.0 L825.3,413.1 L825.7,413.3 L826.1,413.4 L826.5,413.4 L826.9,413.5 L827.3,413.6 L827.7,413.6 L828.1,413.6 L828.5,413.7 L828.9,413.7 L829.3,413.7 L829.7,413.7 L830.1,413.7 L830.5,413.7 L830.9,413.7 L831.3,413.7 L831.7,413.7 L832.1,413.7 L832.5,413.7 L832.9,413.7 L833.3,413.7 L833.7,413.7 L834.1,413.8 L834.5,413.8 L834.9,413.9 L835.3,414.0 L835.7,414.1 L836.1,414.2 L836.5,414.3 L836.9,414.4 L837.3,414.5 L837.7,414.6 L838.1,414.8 L838.5,414.9 L838.9,415.0 L839.3,415.2 L839.7,415.3 L840.1,415.4 L840.5,415.5 L840.9,415.6 L841.3,415.7 L841.7,415.8 L842.1,415.9 L842.5,415.9 L842.9,416.0 L843.3,416.0 L843.7,416.0 L844.1,416.0 L844.5,416.0 L844.9,415.9 L845.3,415.8 L845.7,415.8 L846.1,415.7 L846.5,415.6 L846.9,415.5 L847.3,415.4 L847.7,415.3 L848.1,415.2 L848.5,415.1 L848.9,415.0 L849.3,415.0 L849.7,414.9 L850.1,414.9 L850.5,414.8 L850.9,414.8 L851.3,414.8 L851.7,414.8 L852.1,414.8 L852.5,414.8 L852.9,414.9 L853.3,414.9 L853.7,415.0 L854.1,415.1 L854.5,415.2 L854.9,415.3 L855.3,415.4 L855.7,415.5 L856.1,415.8 L856.5,416.2 L856.9,416.6 L857.3,417.2 L857.7,417.8 L858.1,418.6 L858.5,419.4 L858.9,420.2 L859.3,421.2 L859.7,422.1 L860.1,423.1 L860.5,424.1 L860.9,425.2 L861.3,426.2 L861.7,427.2 L862.1,428.3 L862.5,429.3 L862.9,430.2 L863.3,431.1 L863.7,432.0 L864.1,432.9 L864.5,433.9 L864.9,434.8 L865.3,435.6 L865.7,436.5 L866.1,437.3 L866.5,438.0 L866.9,438.7 L867.3,439.4 L867.7,439.9 L868.1,440.4 L868.5,440.8 L868.9,441.2 L869.3,441.5 L869.7,441.7 L870.1,442.0 L870.5,442.2 L870.9,442.4 L871.3,442.6 L871.7,442.8 L872.1,442.9 L872.5,443.0 L872.9,443.2 L873.3,443.3 L873.7,443.4 L874.1,443.6 L874.5,443.8 L874.9,444.0 L875.3,444.2 L875.7,444.5 L876.1,444.7 L876.5,445.1 L876.9,445.4 L877.3,445.7 L877.7,446.1 L878.1,446.5 L878.5,446.9 L878.9,447.4 L879.3,447.9 L879.7,448.5 L880.1,449.0 L880.5,449.6 L880.9,450.2 L881.3,450.8 L881.7,451.5 L882.1,452.1 L882.5,452.7 L882.9,453.3 L883.3,453.9 L883.7,454.6 L884.1,455.2 L884.5,455.7 L884.9,456.3 L885.3,456.9 L885.7,457.5 L886.1,458.1 L886.5,458.6 L886.9,459.2 L887.3,459.8 L887.7,460.3 L888.1,460.8 L888.5,461.4 L888.9,461.9 L889.3,462.3 L889.7,462.7 L890.1,463.1 L890.5,463.5 L890.9,463.8 L891.3,464.1 L891.7,464.3 L892.1,464.6 L892.5,464.8 L892.9,465.0 L893.3,465.2 L893.7,465.4 L894.1,465.6 L894.5,465.9 L894.9,466.1 L895.3,466.2 L895.7,466.4 L896.1,466.6 L896.5,466.7 L896.9,466.8 L897.3,466.9 L897.7,467.0 L898.1,467.0 L898.5,467.1 L898.9,467.1 L899.3,467.1 L899.7,467.1 L900.1,467.0 L900.5,466.9 L900.9,466.8 L901.3,466.7 L901.7,466.5 L902.1,466.2 L902.5,465.9 L902.9,465.6 L903.3,465.3 L903.7,464.9 L904.1,464.5 L904.5,464.0 L904.9,463.5 L905.3,463.0 L905.7,462.4 L906.1,461.8 L906.5,461.2 L906.9,460.6 L907.3,459.9 L907.7,459.2 L908.1,458.5 L908.5,457.8 L908.9,457.2 L909.3,456.5 L909.7,455.9 L910.1,455.2 L910.5,454.6 L910.9,454.1 L911.3,453.5 L911.7,453.0 L912.1,452.4 L912.5,451.9 L912.9,451.4 L913.3,450.9 L913.7,450.4 L914.1,449.9 L914.5,449.5 L914.9,449.0 L915.3,448.6 L915.7,448.2 L916.1,447.8 L916.5,447.4 L916.9,447.1 L917.3,446.8 L917.7,446.5 L918.1,446.2 L918.5,446.0 L918.9,445.8 L919.3,445.6 L919.7,445.5 L920.1,445.4 L920.5,445.3 L920.9,445.2 L921.3,445.1 L921.7,445.0 L922.1,444.9 L922.5,444.9 L922.9,444.8 L923.3,444.8 L923.7,444.8 L924.1,444.8 L924.5,444.8 L924.9,444.8 L925.3,444.9 L925.7,445.0 L926.1,445.1 L926.5,445.3 L926.9,445.5 L927.3,445.8 L927.7,446.1 L928.1,446.4 L928.5,446.8 L928.9,447.2 L929.3,447.7 L929.7,448.2 L930.1,448.7 L930.5,449.2 L930.9,449.8 L931.3,450.4 L931.7,451.0 L932.1,451.7 L932.5,452.3 L932.9,453.1 L933.3,453.8 L933.7,454.5 L934.1,455.3 L934.5,456.1 L934.9,456.9 L935.3,457.7 L935.7,458.5 L936.1,459.3 L936.5,460.1 L936.9,460.9 L937.3,461.8 L937.7,462.6 L938.1,463.4 L938.5,464.2 L938.9,465.0 L939.3,465.8 L939.7,466.6 L940.1,467.4 L940.5,468.2 L940.9,468.9 L941.3,469.7 L941.7,470.4 L942.1,471.2 L942.5,471.9 L942.9,472.7 L943.3,473.4 L943.7,474.1 L944.1,474.8 L944.5,475.5 L944.9,476.1 L945.3,476.6 L945.7,477.1 L946.1,477.5 L946.5,477.8 L946.9,478.1 L947.3,478.3 L947.7,478.5 L948.1,478.6 L948.5,478.6 L948.9,478.6 L949.3,478.6 L949.7,478.5 L950.1,478.3 L950.5,478.2 L950.9,478.0 L951.3,477.8 L951.7,477.6 L952.1,477.3 L952.5,477.1 L952.9,476.8 L953.3,476.5 L953.7,476.2 L954.1,475.8 L954.5,475.5 L954.9,475.1 L955.3,474.7 L955.7,474.3 L956.1,473.8 L956.5,473.4 L956.9,472.9 L957.3,472.4 L957.7,471.9 L958.1,471.4 L958.5,470.9 L958.9,470.4 L959.3,470.0 L959.7,469.5 L960.1,469.1 L960.5,468.8 L960.9,468.4 L961.3,468.1 L961.7,467.8 L962.1,467.6 L962.5,467.3 L962.9,467.0 L963.3,466.8 L963.7,466.6 L964.1,466.4 L964.5,466.1 L964.9,465.9 L965.3,465.7 L965.7,465.5 L966.1,465.3 L966.5,465.2 L966.9,465.0 L967.3,464.8 L967.7,464.7 L968.1,464.5 L968.5,464.4 L968.9,464.3 L969.3,464.2 L969.7,464.1 L970.1,464.0 L970.5,463.9 L970.9,463.8 L971.3,463.8 L971.7,463.7 L972.1,463.7 L972.5,463.7 L972.9,463.7 L973.3,463.7 L973.7,463.8 L974.1,463.9 L974.5,464.1 L974.9,464.2 L975.3,464.5 L975.7,464.7 L976.1,465.0 L976.5,465.3 L976.9,465.7 L977.3,466.1 L977.7,466.6 L978.1,467.1 L978.5,467.6 L978.9,468.2 L979.3,468.9 L979.7,469.6 L980.1,470.3 L980.5,471.0 L980.9,471.7 L981.3,472.4 L981.7,473.1 L982.1,473.8 L982.5,474.5 L982.9,475.2 L983.3,475.8 L983.7,476.5 L984.1,477.1 L984.5,477.7 L984.9,478.4 L985.3,478.9 L985.7,479.5 L986.1,480.0 L986.5,480.5 L986.9,481.0 L987.3,481.4 L987.7,481.7 L988.1,481.8 L988.5,481.7 L988.9,481.5 L989.3,481.1 L989.7,480.5 L990.1,479.9 L990.5,479.1 L990.9,478.2 L991.3,477.3 L991.7,476.3 L992.1,475.3 L992.5,474.2 L992.9,473.1 L993.3,472.0 L993.7,470.9 L994.1,469.8 L994.5,468.7 L994.9,467.5 L995.3,466.5 L995.7,465.4 L996.1,464.4 L996.5,463.3 L996.9,462.3 L997.3,461.2 L997.7,460.1 L998.1,459.1 L998.5,458.0 L998.9,456.9 L999.3,455.9 L999.7,454.9 L1000.1,454.0 L1000.5,453.1 L1000.9,452.2 L1001.3,451.5 L1001.7,450.8 L1002.1,450.2 L1002.5,449.6 L1002.9,448.9 L1003.3,448.3 L1003.7,447.7 L1004.1,447.1 L1004.5,446.6 L1004.9,446.0 L1005.3,445.4 L1005.7,444.8 L1006.1,444.2 L1006.5,443.6 L1006.9,443.0 L1007.3,442.4 L1007.7,441.8 L1008.1,441.2 L1008.5,440.7 L1008.9,440.1 L1009.3,439.5 L1009.7,438.9 L1010.1,438.3 L1010.5,437.7 L1010.9,437.1 L1011.0,437.0" stroke="#ff0000" stroke-width="3.3"/>
<path d="M625.3,242.6 L625.7,242.8 L626.1,243.1 L626.5,243.3 L626.9,243.5 L627.3,243.7 L627.7,243.8 L628.1,244.0 L628.5,244.2 L628.9,244.3 L629.3,244.5 L629.7,244.6 L630.1,244.7 L630.5,244.9 L630.9,245.0 L631.3,245.1 L631.7,245.2 L632.1,245.2 L632.5,245.3 L632.9,245.3 L633.3,245.4 L633.7,245.4 L634.1,245.4 L634.5,245.4 L634.9,245.4 L635.3,245.4 L635.7,245.4 L636.1,245.4 L636.5,245.4 L636.9,245.4 L637.3,245.4 L637.7,245.4 L638.1,245.5 L638.5,245.5 L638.9,245.5 L639.3,245.6 L639.7,245.7 L640.1,245.8 L640.5,245.9 L640.9,246.1 L641.3,246.3 L641.7,246.5 L642.1,246.7 L642.5,247.0 L642.9,247.3 L643.3,247.6 L643.7,247.9 L644.1,248.3 L644.5,248.6 L644.9,249.0 L645.3,249.6 L645.7,250.3 L646.1,251.2 L646.5,252.1 L646.9,253.2 L647.3,254.3 L647.7,255.6 L648.1,256.9 L648.5,258.3 L648.9,259.9 L649.3,261.8 L649.7,264.0 L650.1,266.4 L650.5,269.0 L650.9,272.0 L651.3,275.2 L651.7,278.6 L652.1,282.0 L652.5,285.2 L652.9,288.1 L653.3,291.0 L653.7,293.8 L654.1,296.3 L654.5,298.4 L654.9,300.0 L655.3,301.2 L655.7,302.5 L656.1,303.6 L656.5,304.8 L656.9,306.0 L657.3,307.2 L657.7,308.3 L658.1,309.5 L658.5,310.7 L658.9,311.8 L659.3,313.0 L659.7,314.2 L660.1,315.3 L660.5,316.5 L660.9,317.6 L661.3,318.7 L661.7,319.7 L662.1,320.6 L662.5,321.5 L662.9,322.3 L663.3,323.0 L663.7,323.7 L664.1,324.4 L664.5,325.0 L664.9,325.6 L665.3,326.3 L665.7,326.9 L666.1,327.6 L666.5,328.3 L666.9,328.9 L667.3,329.6 L667.7,330.2 L668.1,330.8 L668.5,331.3 L668.9,331.8 L669.3,332.1 L669.7,332.3 L670.1,332.3 L670.5,332.3 L670.9,332.2 L671.3,332.0 L671.7,331.9 L672.1,331.8 L672.5,331.6 L672.9,331.3 L673.3,331.0 L673.7,330.6 L674.1,330.3 L674.5,329.9 L674.9,329.7 L675.3,329.6 L675.7,329.7 L676.1,330.1 L676.5,330.8 L676.9,331.9 L677.3,333.3 L677.7,335.0 L678.1,337.0 L678.5,339.2 L678.9,341.4 L679.3,343.6 L679.7,345.8 L680.1,347.8 L680.5,349.8 L680.9,351.8 L681.3,353.7 L681.7,355.7 L682.1,357.7 L682.5,359.6 L682.9,361.6 L683.3,363.5 L683.7,365.2 L684.1,366.8 L684.5,368.5 L684.9,370.3 L685.3,372.4 L685.7,374.8 L686.1,378.1 L686.5,382.2 L686.9,386.5 L687.3,390.6 L687.7,394.6 L688.1,398.5 L688.5,402.1 L688.9,405.0 L689.3,407.3 L689.7,408.9 L690.1,410.0 L690.5,410.8 L690.9,411.3 L691.3,411.8 L691.7,412.2 L692.1,412.8 L692.5,413.6 L692.9,414.5 L693.3,415.4 L693.7,416.2 L694.1,417.0 L694.5,417.8 L694.9,418.5 L695.3,419.0 L695.7,419.4 L696.1,419.7 L696.5,419.8 L696.9,419.5 L697.3,418.9 L697.7,417.9 L698.1,416.7 L698.5,415.3 L698.9,413.7 L699.3,412.0 L699.7,410.2 L700.1,408.2 L700.5,406.0 L700.9,403.6 L701.3,401.3 L701.7,399.3 L702.1,397.6 L702.5,396.1 L702.9,394.7 L703.3,393.4 L703.7,392.3 L704.1,391.3 L704.5,390.4 L704.9,389.6 L705.3,388.9 L705.7,388.4 L706.1,387.9 L706.5,387.5 L706.9,387.2 L707.3,386.9 L707.7,386.7 L708.1,386.6 L708.5,386.6 L708.9,386.6 L709.3,386.8 L709.7,387.0 L710.1,387.3 L710.5,387.7 L710.9,388.2 L711.3,388.9 L711.7,389.6 L712.1,390.5 L712.5,391.6 L712.9,393.1 L713.3,395.0 L713.7,396.9 L714.1,398.6 L714.5,399.9 L714.9,400.8 L715.3,401.8 L715.7,402.6 L716.1,403.4 L716.5,404.2 L716.9,404.9 L717.3,405.5 L717.7,406.0 L718.1,406.4 L718.5,406.7 L718.9,407.1 L719.3,407.4 L719.7,407.7 L720.1,408.0 L720.5,408.2 L720.9,408.5 L721.3,408.8 L721.7,409.1 L722.1,409.4 L722.5,409.7 L722.9,410.0 L723.3,410.3 L723.7,410.7 L724.1,411.0 L724.5,411.3 L724.9,411.7 L725.3,412.0 L725.7,412.4 L726.1,412.8 L726.5,413.1 L726.9,413.5 L727.3,413.8 L727.7,414.2 L728.1,414.5 L728.5,414.9 L728.9,415.3 L729.3,415.6 L729.7,415.9 L730.1,416.3 L730.5,416.6 L730.9,417.0 L731.3,417.3 L731.7,417.6 L732.1,417.9 L732.5,418.2 L732.9,418.4 L733.3,418.7 L733.7,418.8 L734.1,419.0 L734.5,419.1 L734.9,419.2 L735.3,419.2 L735.7,419.2 L736.1,419.2 L736.5,419.2 L736.9,419.2 L737.3,419.1 L737.7,419.1 L738.1,419.1 L738.5,419.1 L738.9,419.1 L739.3,419.1 L739.7,419.1 L740.1,419.2 L740.5,419.2 L740.9,419.2 L741.3,419.3 L741.7,419.3 L742.1,419.3 L742.5,419.4 L742.9,419.4 L743.3,419.5 L743.7,419.6 L744.1,419.6 L744.5,419.7 L744.9,419.8 L745.3,420.0 L745.7,420.2 L746.1,420.4 L746.5,420.7 L746.9,421.1 L747.3,421.4 L747.7,421.8 L748.1,422.2 L748.5,422.6 L748.9,422.9 L749.3,423.3 L749.7,423.6 L750.1,423.9 L750.5,424.2 L750.9,424.4 L751.3,424.6 L751.7,424.8 L752.1,424.9 L752.5,425.0 L752.9,425.1 L753.3,425.1 L753.7,425.0 L754.1,424.9 L754.5,424.7 L754.9,424.5 L755.3,424.3 L755.7,424.1 L756.1,423.9 L756.5,423.6 L756.9,423.3 L757.3,423.1 L757.7,422.8 L758.1,422.6 L758.5,422.3 L758.9,422.1 L759.3,421.9 L759.7,421.8 L760.1,421.6 L760.5,421.5 L760.9,421.4 L761.3,421.3 L761.7,421.2 L762.1,421.2 L762.5,421.1 L762.9,421.1 L763.3,421.0 L763.7,421.0 L764.1,420.9 L764.5,420.9 L764.9,420.8 L765.3,420.8 L765.7,420.7 L766.1,420.6 L766.5,420.5 L766.9,420.4 L767.3,420.3 L767.7,420.1 L768.1,419.9 L768.5,419.7 L768.9,419.5 L769.3,419.1 L769.7,418.7 L770.1,418.2 L770.5,417.7 L770.9,417.1 L771.3,416.6 L771.7,415.9 L772.1,415.2 L772.5,414.5 L772.9,413.7 L773.3,412.9 L773.7,412.1 L774.1,411.4 L774.5,410.6 L774.9,409.9 L775.3,409.2 L775.7,408.6 L776.1,408.1 L776.5,407.6 L776.9,407.1 L777.3,406.6 L777.7,406.1 L778.1,405.6 L778.5,405.2 L778.9,404.7 L779.3,404.3 L779.7,403.9 L780.1,403.4 L780.5,403.0 L780.9,402.6 L781.3,402.3 L781.7,401.9 L782.1,401.5 L782.5,401.2 L782.9,400.8 L783.3,400.5 L783.7,400.1 L784.1,399.8 L784.5,399.4 L784.9,399.1 L785.3,398.7 L785.7,398.4 L786.1,398.0 L786.5,397.7 L786.9,397.4 L787.3,397.0 L787.7,396.7 L788.1,396.4 L788.5,396.0 L788.9,395.7 L789.3,395.4 L789.7,395.1 L790.1,394.8 L790.5,394.5 L790.9,394.1 L791.3,393.8 L791.7,393.5 L792.1,393.3 L792.5,393.0 L792.9,392.7 L793.3,392.4 L793.7,392.1 L794.1,391.9 L794.5,391.7 L794.9,391.5 L795.3,391.3 L795.7,391.1 L796.1,391.0 L796.5,390.9 L796.9,390.8 L797.3,390.7 L797.7,390.6 L798.1,390.6 L798.5,390.5 L798.9,390.5 L799.3,390.5 L799.7,390.5 L800.1,390.5 L800.5,390.5 L800.9,390.6 L801.3,390.6 L801.7,390.7 L802.1,390.8 L802.5,390.8 L802.9,390.9 L803.3,391.0 L803.7,391.0 L804.1,391.1 L804.5,391.1 L804.9,391.2 L805.3,391.2 L805.7,391.3 L806.1,391.3 L806.5,391.4 L806.9,391.6 L807.3,391.7 L807.7,391.9 L808.1,392.2 L808.5,392.5 L808.9,392.9 L809.3,393.3 L809.7,393.7 L810.1,394.2 L810.5,394.6 L810.9,395.1 L811.3,395.6 L811.7,396.1 L812.1,396.6 L812.5,397.0 L812.9,397.5 L813.3,398.0 L813.7,398.6 L814.1,399.1 L814.5,399.6 L814.9,400.1 L815.3,400.5 L815.7,401.0 L816.1,401.5 L816.5,402.0 L816.9,402.5 L817.3,402.9 L817.7,403.4 L818.1,404.0 L818.5,404.5 L818.9,405.0 L819.3,405.5 L819.7,406.1 L820.1,406.6 L820.5,407.1 L820.9,407.6 L821.3,408.1 L821.7,408.5 L822.1,409.0 L822.5,409.4 L822.9,409.8 L823.3,410.1 L823.7,410.4 L824.1,410.7 L824.5,411.0 L824.9,411.2 L825.3,411.3 L825.7,411.5 L826.1,411.6 L826.5,411.8 L826.9,411.9 L827.3,412.0 L827.7,412.0 L828.1,412.1 L828.5,412.2 L828.9,412.2 L829.3,412.2 L829.7,412.3 L830.1,412.3 L830.5,412.3 L830.9,412.3 L831.3,412.3 L831.7,412.3 L832.1,412.4 L832.5,412.4 L832.9,412.4 L833.3,412.4 L833.7,412.4 L834.1,412.5 L834.5,412.5 L834.9,412.6 L835.3,412.6 L835.7,412.7 L836.1,412.7 L836.5,412.8 L836.9,412.8 L837.3,412.9 L837.7,412.9 L838.1,412.9 L838.5,413.0 L838.9,413.0 L839.3,413.1 L839.7,413.1 L840.1,413.2 L840.5,413.2 L840.9,413.3 L841.3,413.3 L841.7,413.4 L842.1,413.4 L842.5,413.5 L842.9,413.5 L843.3,413.6 L843.7,413.6 L844.1,413.6 L844.5,413.7 L844.9,413.7 L845.3,413.8 L845.7,413.8 L846.1,413.9 L846.5,413.9 L846.9,414.0 L847.3,414.0 L847.7,414.0 L848.1,414.1 L848.5,414.1 L848.9,414.2 L849.3,414.2 L849.7,414.2 L850.1,414.3 L850.5,414.3 L850.9,414.3 L851.3,414.4 L851.7,414.4 L852.1,414.5 L852.5,414.5 L852.9,414.5 L853.3,414.6 L853.7,414.6 L854.1,414.7 L854.5,414.7 L854.9,414.8 L855.3,414.9 L855.7,415.0 L856.1,415.1 L856.5,415.3 L856.9,415.5 L857.3,415.7 L857.7,415.9 L858.1,416.1 L858.5,416.3 L858.9,416.6 L859.3,416.8 L859.7,417.1 L860.1,417.4 L860.5,417.7 L860.9,418.0 L861.3,418.3 L861.7,418.6 L862.1,418.9 L862.5,419.2 L862.9,419.6 L863.2,419.8 L863.7,419.9 L864.2,420.0 L864.7,420.1 L865.2,420.2 L865.7,420.3 L866.2,420.4 L866.7,420.5 L867.2,420.7 L867.7,420.8 L868.2,420.9 L868.7,421.0 L869.2,421.1 L869.7,421.2 L870.2,421.3 L870.7,421.4 L871.2,421.5 L871.7,421.6 L872.2,421.7 L872.7,421.8 L873.2,421.9 L873.7,422.0 L874.2,422.1 L874.7,422.2 L875.2,422.4 L875.7,422.5 L876.2,422.6 L876.7,422.7 L877.2,422.8 L877.7,422.9 L878.2,423.0 L878.7,423.1 L879.2,423.3 L879.7,423.5 L880.2,423.7 L880.7,423.9 L881.2,424.0 L881.7,424.2 L882.2,424.4 L882.7,424.6 L883.2,424.8 L883.7,425.0 L884.2,425.2 L884.7,425.4 L885.2,425.6 L885.7,425.7 L886.2,425.9 L886.7,426.1 L887.2,426.3 L887.7,426.5 L888.2,426.7 L888.7,426.9 L889.2,427.1 L889.7,427.3 L890.2,427.5 L890.7,427.6 L891.2,427.8 L891.7,428.0 L892.2,428.2 L892.7,428.4 L893.2,428.6 L893.7,428.8 L894.2,429.0 L894.7,429.2 L895.2,429.3 L895.7,429.5 L896.2,429.7 L896.7,429.9 L897.2,430.1 L897.7,430.3 L898.2,430.5 L898.7,430.7 L899.2,430.9 L899.7,431.1 L900.2,431.3 L900.7,431.5 L901.2,431.7 L901.7,431.9 L902.2,432.1 L902.7,432.3 L903.2,432.5 L903.7,432.7 L904.2,432.9 L904.7,433.1 L905.2,433.3 L905.7,433.5 L906.2,433.7 L906.7,433.9 L907.2,434.1 L907.7,434.3 L908.2,434.5 L908.7,434.7 L909.2,434.9 L909.7,435.1 L910.2,435.3 L910.7,435.5 L911.2,435.7 L911.7,435.9 L912.2,436.1 L912.7,436.3 L913.2,436.5 L913.7,436.7 L914.2,436.8 L914.7,436.6 L915.2,436.3 L915.7,436.0 L916.2,435.8 L916.7,435.5 L917.2,435.2 L917.7,435.0 L918.2,434.7 L918.7,434.4 L919.2,434.2 L919.7,433.9 L920.2,433.6 L920.7,433.4 L921.2,433.1 L921.7,432.8 L922.2,432.6 L922.7,432.3 L923.2,432.0 L923.7,431.8 L924.2,431.5 L924.7,431.2 L925.2,431.0 L925.7,430.7 L926.2,430.4 L926.7,430.2 L927.2,429.9 L927.7,429.6 L928.2,429.3 L928.7,429.0 L929.2,428.7 L929.7,428.4 L930.2,428.1 L930.7,427.8 L931.2,427.5 L931.7,427.2 L932.2,426.8 L932.7,426.5 L933.2,426.2 L933.7,425.9 L934.2,425.6 L934.7,425.3 L935.2,425.0 L935.7,424.7 L936.2,424.4 L936.7,424.1 L937.2,423.8 L937.7,423.5 L938.2,423.2 L938.7,422.8 L939.2,422.5 L939.7,422.2 L940.2,421.9 L940.7,421.6 L941.2,421.3 L941.7,421.0 L942.2,420.7 L942.7,420.4 L943.2,420.3 L943.7,420.4 L944.2,420.6 L944.7,420.8 L945.2,420.9 L945.7,421.1 L946.2,421.3 L946.7,421.4 L947.2,421.6 L947.7,421.7 L948.2,421.9 L948.7,422.1 L949.2,422.2 L949.7,422.4 L950.2,422.6 L950.7,422.7 L951.2,422.9 L951.7,423.1 L952.2,423.2 L952.7,423.4 L953.2,423.6 L953.7,423.7 L954.2,423.9 L954.7,424.0 L955.2,424.2 L955.7,424.4 L956.2,424.5 L956.7,424.7 L957.2,424.9 L957.7,425.0 L958.2,425.2 L958.7,425.4 L959.2,425.6 L959.7,425.8 L960.2,426.0 L960.7,426.2 L961.2,426.4 L961.7,426.6 L962.2,426.8 L962.7,426.9 L963.2,427.1 L963.7,427.3 L964.2,427.5 L964.7,427.7 L965.2,427.9 L965.7,428.1 L966.2,428.3 L966.7,428.5 L967.2,428.7 L967.7,428.9 L968.2,429.1 L968.7,429.3 L969.2,429.5 L969.7,429.7 L970.2,429.9 L970.7,430.1 L971.2,430.3 L971.7,430.5 L972.2,430.7 L972.7,430.9 L973.2,431.1 L973.7,431.3 L974.2,431.5 L974.7,431.6 L975.2,431.8 L975.7,432.0 L976.2,432.2 L976.7,432.4 L977.2,432.6 L977.7,432.8 L978.2,433.0 L978.7,433.2 L979.2,433.5 L979.7,433.7 L980.2,434.0 L980.7,434.2 L981.2,434.5 L981.7,434.7 L982.2,435.0 L982.7,435.2 L983.2,435.5 L983.7,435.7 L984.2,436.0 L984.7,436.2 L985.2,436.5 L985.7,436.7 L986.2,437.0 L986.7,437.2 L987.2,437.5 L987.7,437.7 L988.2,438.0 L988.7,438.2 L989.2,438.5 L989.7,438.8 L990.2,439.2 L990.7,439.6 L991.2,440.1 L991.7,440.5 L992.2,440.9 L992.7,441.3 L993.2,441.8 L993.7,442.2 L994.2,442.6 L994.7,443.1 L995.2,443.5 L995.7,443.9 L996.2,444.4 L996.7,444.8 L997.2,445.2 L997.7,444.8 L998.2,444.1 L998.7,443.5 L999.2,442.8 L999.7,442.2 L1000.2,441.5 L1000.7,440.9 L1001.2,440.2 L1001.7,439.6 L1002.2,438.9 L1002.7,438.3 L1003.2,437.6 L1003.7,437.0 L1004.2,436.3 L1004.7,435.7 L1005.2,435.2 L1005.7,434.8 L1006.2,434.5 L1006.7,434.2 L1007.2,433.9 L1007.7,433.6 L1008.2,433.2 L1008.7,433.0 L1009.2,432.8 L1009.7,432.6 L1010.2,432.3 L1010.7,432.1 L1011.0,432.0" stroke="#0000ff" stroke-width="3.3" stroke-dasharray="6 9.6" stroke-linecap="round"/>
</g>
<rect x="625.1" y="241.8" width="385.79999999999995" height="312.59999999999997" fill="none" stroke="#000" stroke-width="2.2"/>
<text x="625.1" y="575.1" font-size="17.3" text-anchor="middle" font-weight="bold" font-style="normal">5</text>
<line x1="721.5" y1="554.4" x2="721.5" y2="548.4" stroke="#000" stroke-width="2.2"/>
<text x="721.5" y="575.1" font-size="17.3" text-anchor="middle" font-weight="bold" font-style="normal">6</text>
<line x1="818.0" y1="554.4" x2="818.0" y2="548.4" stroke="#000" stroke-width="2.2"/>
<text x="818.0" y="575.1" font-size="17.3" text-anchor="middle" font-weight="bold" font-style="normal">7</text>
<line x1="914.5" y1="554.4" x2="914.5" y2="548.4" stroke="#000" stroke-width="2.2"/>
<text x="914.5" y="575.1" font-size="17.3" text-anchor="middle" font-weight="bold" font-style="normal">8</text>
<text x="1010.9" y="575.1" font-size="17.3" text-anchor="middle" font-weight="bold" font-style="normal">9</text>
<text x="618.1" y="246.9" font-size="17.3" text-anchor="end" font-weight="bold" font-style="normal">0</text>
<line x1="625.1" y1="319.9" x2="631.1" y2="319.9" stroke="#000" stroke-width="2.2"/>
<text x="618.1" y="325.1" font-size="17.3" text-anchor="end" font-weight="bold" font-style="normal">-10</text>
<line x1="625.1" y1="398.1" x2="631.1" y2="398.1" stroke="#000" stroke-width="2.2"/>
<text x="618.1" y="403.2" font-size="17.3" text-anchor="end" font-weight="bold" font-style="normal">-20</text>
<line x1="625.1" y1="476.2" x2="631.1" y2="476.2" stroke="#000" stroke-width="2.2"/>
<text x="618.1" y="481.4" font-size="17.3" text-anchor="end" font-weight="bold" font-style="normal">-30</text>
<text x="618.1" y="559.5" font-size="17.3" text-anchor="end" font-weight="bold" font-style="normal">-40</text>
<text x="817.9" y="596.7" font-size="25.8" text-anchor="middle" font-weight="bold" font-style="normal" textLength="190" lengthAdjust="spacing">Frequency(GHz)</text>
<text x="582.4" y="396.9" font-size="25.8" text-anchor="middle" font-weight="bold" font-style="normal" transform="rotate(-90 582.4 396.9)" letter-spacing="0.4">|S<tspan font-size="16" dy="5">11</tspan><tspan dy="-5">| (dB)</tspan></text>
<line x1="699.4" y1="267" x2="742" y2="267" stroke="#ff0000" stroke-width="4" stroke-linecap="round"/>
<line x1="699.3" y1="291" x2="737" y2="291" stroke="#0000ff" stroke-width="3.9" stroke-dasharray="5.5 10.3" stroke-linecap="round"/>
<text x="746.4" y="273.8" font-size="19.8" font-weight="bold">Sim.</text>
<text x="746.4" y="297.7" font-size="19.8" font-weight="bold">Mea.</text>
<defs><clipPath id="clipE"><rect x="60.5" y="685.2" width="387.0" height="311.5999999999999"/></clipPath></defs>
<line x1="60.5" y1="972.8" x2="447.5" y2="972.8" stroke="#000" stroke-width="2.4" stroke-dasharray="5.8 3.8"/>
<g clip-path="url(#clipE)" fill="none" stroke-linejoin="round">
<path d="M60.9,894.9 L61.4,895.1 L61.9,895.3 L62.4,895.5 L62.9,895.7 L63.4,895.9 L63.9,896.1 L64.4,896.2 L64.9,896.4 L65.4,896.6 L65.9,896.8 L66.4,897.0 L66.9,897.2 L67.4,897.4 L67.9,897.6 L68.4,897.8 L68.9,898.0 L69.4,898.2 L69.9,898.4 L70.4,898.5 L70.9,898.7 L71.4,898.9 L71.9,899.1 L72.4,899.3 L72.9,899.5 L73.4,899.7 L73.9,899.9 L74.4,900.1 L74.9,900.3 L75.4,900.5 L75.9,900.6 L76.4,900.8 L76.9,901.0 L77.4,901.2 L77.9,901.4 L78.4,901.6 L78.9,901.8 L79.4,901.9 L79.9,902.1 L80.4,902.3 L80.9,902.5 L81.4,902.7 L81.9,902.9 L82.4,903.1 L82.9,903.2 L83.4,903.4 L83.9,903.6 L84.4,903.8 L84.9,904.0 L85.4,904.2 L85.9,904.4 L86.4,904.5 L86.9,904.7 L87.4,904.9 L87.9,905.1 L88.4,905.3 L88.9,905.5 L89.4,905.6 L89.9,905.8 L90.4,906.0 L90.9,906.2 L91.4,906.4 L91.9,906.6 L92.4,906.8 L92.9,906.9 L93.4,907.1 L93.9,907.3 L94.4,907.5 L94.9,907.3 L95.4,907.1 L95.9,906.9 L96.4,906.7 L96.9,906.5 L97.4,906.3 L97.9,906.2 L98.4,906.0 L98.9,905.8 L99.4,905.6 L99.9,905.4 L100.4,905.2 L100.9,905.0 L101.4,904.8 L101.9,904.6 L102.4,904.4 L102.9,904.2 L103.4,904.0 L103.9,903.9 L104.4,903.7 L104.9,903.5 L105.4,903.3 L105.9,903.1 L106.4,902.9 L106.9,902.7 L107.4,902.5 L107.9,902.3 L108.4,902.0 L108.9,901.4 L109.4,900.8 L109.9,900.2 L110.4,899.6 L110.9,899.1 L111.4,898.5 L111.9,897.9 L112.4,897.3 L112.9,896.7 L113.4,896.1 L113.9,895.6 L114.4,895.0 L114.9,894.4 L115.4,893.8 L115.9,893.2 L116.4,892.6 L116.9,891.9 L117.4,891.2 L117.9,890.6 L118.4,889.9 L118.9,889.2 L119.4,888.5 L119.9,887.8 L120.4,887.2 L120.9,886.5 L121.4,885.8 L121.9,885.1 L122.4,884.1 L122.9,883.0 L123.4,881.9 L123.9,880.8 L124.4,879.7 L124.9,878.6 L125.4,877.5 L125.9,876.4 L126.4,875.3 L126.9,874.2 L127.4,873.1 L127.9,872.0 L128.2,871.4 L128.4,870.8 L128.7,870.1 L128.9,869.4 L129.2,868.8 L129.4,868.1 L129.7,867.4 L129.9,866.7 L130.2,865.9 L130.4,865.2 L130.7,864.4 L130.9,863.7 L131.2,862.9 L131.4,862.1 L131.7,861.3 L131.9,860.5 L132.2,859.7 L132.4,858.8 L132.7,858.0 L132.9,857.2 L133.2,856.3 L133.4,855.4 L133.7,854.5 L133.9,853.6 L134.2,852.7 L134.4,851.8 L134.7,850.9 L134.9,850.0 L135.2,849.0 L135.4,848.0 L135.7,847.1 L135.9,846.1 L136.2,845.1 L136.4,844.0 L136.7,843.0 L136.9,841.9 L137.2,840.8 L137.4,839.7 L137.7,838.6 L137.9,837.5 L138.2,836.3 L138.4,835.2 L138.7,834.0 L138.9,832.7 L139.2,831.5 L139.4,830.2 L139.7,829.0 L139.9,827.7 L140.2,826.3 L140.4,824.9 L140.7,823.6 L140.9,822.1 L141.2,820.7 L141.4,819.1 L141.7,817.6 L141.9,816.0 L142.2,814.4 L142.4,812.7 L142.7,811.0 L142.9,809.2 L143.2,807.3 L143.4,805.4 L143.7,803.5 L143.9,801.5 L144.2,799.3 L144.4,797.1 L144.7,794.7 L144.9,792.3 L145.2,789.8 L145.4,787.1 L145.7,784.4 L145.9,781.7 L146.2,778.8 L146.4,775.9 L146.7,772.9 L146.9,769.4 L147.2,765.6 L147.4,761.4 L147.7,757.3 L147.9,753.3 L148.2,749.8 L148.4,746.8 L148.7,744.6 L148.9,742.8 L149.2,741.0 L149.4,739.3 L149.7,737.7 L149.9,736.3 L150.2,735.1 L150.4,734.1 L150.7,733.5 L150.9,733.1 L151.2,733.1 L151.4,733.3 L151.7,733.6 L151.9,734.1 L152.2,734.7 L152.4,735.4 L152.7,736.2 L152.9,737.1 L153.2,738.1 L153.4,739.1 L153.7,740.1 L153.9,741.2 L154.2,742.3 L154.4,743.4 L154.7,744.5 L154.9,745.5 L155.2,746.6 L155.4,747.5 L155.7,748.5 L155.9,749.5 L156.2,750.7 L156.4,752.0 L156.7,753.3 L156.9,754.6 L157.2,756.0 L157.4,757.3 L157.7,758.6 L157.9,759.8 L158.2,760.9 L158.4,761.8 L158.7,762.6 L158.9,763.2 L159.2,763.6 L159.4,763.7 L159.7,763.6 L159.9,763.5 L160.2,763.2 L160.4,762.8 L160.7,762.3 L160.9,761.8 L161.2,761.2 L161.4,760.5 L161.7,759.9 L161.9,759.2 L162.2,758.4 L162.4,757.7 L162.7,757.0 L162.9,756.3 L163.2,755.6 L163.4,754.9 L163.7,754.1 L163.9,753.3 L164.2,752.4 L164.4,751.5 L164.7,750.6 L164.9,749.6 L165.2,748.6 L165.4,747.4 L165.7,745.9 L165.9,744.0 L166.2,742.1 L166.4,740.1 L166.7,738.4 L166.9,737.0 L167.2,736.2 L167.4,736.1 L167.7,736.3 L167.9,736.8 L168.2,737.5 L168.4,738.4 L168.7,739.5 L168.9,740.7 L169.2,742.1 L169.4,743.6 L169.7,745.2 L169.9,747.0 L170.2,748.8 L170.4,750.7 L170.7,753.5 L170.9,757.0 L171.2,761.1 L171.4,765.6 L171.7,771.5 L171.9,778.0 L172.2,784.2 L172.4,789.6 L172.7,794.9 L172.9,800.2 L173.2,805.2 L173.4,810.1 L173.7,814.5 L173.9,818.6 L174.2,822.2 L174.4,825.3 L174.7,828.1 L174.9,830.7 L175.2,833.1 L175.4,835.4 L175.7,837.6 L175.9,839.6 L176.2,841.7 L176.4,843.7 L176.7,845.7 L176.9,847.8 L177.2,850.0 L177.4,852.3 L177.7,854.8 L177.9,857.3 L178.2,860.0 L178.4,862.6 L178.7,865.2 L178.9,867.7 L179.2,870.0 L179.4,872.0 L179.7,873.9 L179.9,875.6 L180.2,877.3 L180.4,878.9 L180.7,880.4 L180.9,881.9 L181.2,883.3 L181.4,884.7 L181.7,886.1 L181.9,887.4 L182.2,888.8 L182.4,890.2 L182.7,891.5 L182.9,893.0 L183.2,894.4 L183.4,895.9 L183.7,897.4 L183.9,899.0 L184.2,900.6 L184.4,902.2 L184.7,903.9 L184.9,905.5 L185.2,907.1 L185.4,908.7 L185.7,910.3 L185.9,911.8 L186.2,913.3 L186.4,914.8 L186.7,916.2 L186.9,917.5 L187.2,918.8 L187.4,920.0 L187.7,921.1 L187.9,922.3 L188.2,923.4 L188.4,924.5 L188.7,925.5 L188.9,926.6 L189.2,927.6 L189.4,928.6 L189.7,929.5 L189.9,930.5 L190.2,931.4 L190.4,932.4 L190.7,933.3 L190.9,934.2 L191.2,935.1 L191.4,935.9 L191.7,936.8 L191.9,937.7 L192.2,938.5 L192.4,939.4 L192.7,940.2 L192.9,941.1 L193.2,941.9 L193.4,942.7 L193.7,943.5 L193.9,944.4 L194.2,945.2 L194.4,946.0 L194.7,946.7 L194.9,947.5 L195.2,948.3 L195.4,949.0 L195.7,949.8 L195.9,950.5 L196.2,951.2 L196.4,951.9 L196.7,952.6 L196.9,953.3 L197.2,954.0 L197.4,954.6 L197.7,955.3 L197.9,955.9 L198.2,956.5 L198.4,957.1 L198.7,957.7 L198.9,958.3 L199.2,958.9 L199.4,959.5 L199.7,960.0 L199.9,960.6 L200.2,961.1 L200.4,961.6 L200.7,962.2 L200.9,962.7 L201.2,963.2 L201.4,963.7 L201.7,964.2 L201.9,964.7 L202.2,965.2 L202.4,965.7 L202.7,966.2 L202.9,966.7 L203.2,967.2 L203.4,967.6 L203.7,968.1 L203.9,968.6 L204.2,969.0 L204.4,969.5 L204.7,969.9 L204.9,970.4 L205.2,970.9 L205.4,971.3 L205.7,971.8 L205.9,972.2 L206.2,972.7 L206.4,973.1 L206.7,973.6 L206.9,974.0 L207.2,974.5 L207.4,975.0 L207.7,975.4 L207.9,975.9 L208.2,976.4 L208.4,976.8 L208.7,977.3 L208.9,977.7 L209.2,978.2 L209.4,978.6 L209.7,979.0 L209.9,979.5 L210.2,979.9 L210.4,980.2 L210.7,980.6 L210.9,981.0 L211.2,981.3 L211.4,981.7 L211.7,982.0 L211.9,982.3 L212.2,982.6 L212.4,982.8 L212.7,983.0 L212.9,983.3 L213.2,983.5 L213.4,983.7 L213.7,983.9 L213.9,984.1 L214.2,984.3 L214.4,984.5 L214.7,984.7 L214.9,984.9 L215.2,985.0 L215.4,985.2 L215.7,985.4 L215.9,985.5 L216.2,985.7 L216.4,985.9 L216.7,986.0 L216.9,986.2 L217.2,986.3 L217.4,986.5 L217.7,986.6 L217.9,986.8 L218.2,986.9 L218.4,987.0 L218.7,987.2 L218.9,987.3 L219.2,987.4 L219.4,987.5 L219.7,987.7 L219.9,987.8 L220.2,987.9 L220.4,988.0 L220.7,988.1 L220.9,988.2 L221.2,988.3 L221.4,988.4 L221.7,988.5 L221.9,988.7 L222.2,988.8 L222.4,988.9 L222.7,989.0 L222.9,989.1 L223.2,989.2 L223.4,989.3 L223.7,989.4 L223.9,989.5 L224.2,989.6 L224.4,989.7 L224.7,989.8 L224.9,989.9 L225.2,990.0 L225.4,990.1 L225.7,990.2 L225.9,990.3 L226.2,990.4 L226.4,990.5 L226.7,990.5 L226.9,990.6 L227.2,990.7 L227.4,990.8 L227.7,990.9 L227.9,991.0 L228.2,991.1 L228.4,991.1 L228.7,991.2 L228.9,991.3 L229.2,991.3 L229.4,991.4 L229.7,991.5 L229.9,991.5 L230.2,991.6 L230.4,991.6 L230.7,991.7 L230.9,991.7 L231.2,991.8 L231.4,991.8 L231.7,991.8 L231.9,991.9 L232.2,991.9 L232.4,991.9 L232.7,991.9 L232.9,991.9 L233.2,992.0 L233.4,992.0 L233.7,992.0 L233.9,992.0 L234.2,992.0 L234.4,992.0 L234.7,992.0 L234.9,992.0 L235.2,992.0 L235.4,992.1 L235.7,992.1 L235.9,992.1 L236.2,992.1 L236.4,992.1 L236.7,992.1 L236.9,992.1 L237.2,992.1 L237.4,992.1 L237.7,992.1 L237.9,992.1 L238.2,992.1 L238.4,992.1 L238.7,992.2 L238.9,992.2 L239.2,992.2 L239.4,992.2 L239.7,992.2 L239.9,992.2 L240.2,992.2 L240.4,992.2 L240.7,992.2 L240.9,992.2 L241.2,992.2 L241.4,992.3 L241.7,992.3 L241.9,992.3 L242.2,992.3 L242.4,992.3 L242.7,992.3 L242.9,992.4 L243.2,992.4 L243.4,992.4 L243.7,992.5 L243.9,992.5 L244.2,992.5 L244.4,992.6 L244.7,992.6 L244.9,992.6 L245.2,992.7 L245.4,992.7 L245.7,992.7 L245.9,992.7 L246.2,992.7 L246.4,992.7 L246.7,992.7 L246.9,992.7 L247.2,992.7 L247.4,992.7 L247.7,992.6 L247.9,992.6 L248.2,992.6 L248.4,992.6 L248.7,992.6 L248.9,992.5 L249.2,992.5 L249.4,992.5 L249.7,992.5 L249.9,992.4 L250.2,992.4 L250.4,992.4 L250.7,992.3 L250.9,992.3 L251.2,992.3 L251.4,992.2 L251.7,992.2 L251.9,992.2 L252.2,992.2 L252.4,992.1 L252.7,992.1 L252.9,992.1 L253.2,992.0 L253.4,992.0 L253.7,992.0 L253.9,992.0 L254.2,992.0 L254.4,991.9 L254.7,991.9 L254.9,991.9 L255.2,991.9 L255.4,991.9 L255.7,991.9 L255.9,991.9 L256.1,991.8 L256.4,991.8 L256.6,991.8 L256.9,991.8 L257.1,991.8 L257.4,991.8 L257.6,991.8 L257.9,991.8 L258.1,991.8 L258.4,991.8 L258.6,991.8 L258.9,991.8 L259.1,991.8 L259.4,991.7 L259.6,991.7 L259.9,991.7 L260.1,991.7 L260.4,991.7 L260.6,991.7 L260.9,991.7 L261.1,991.7 L261.4,991.7 L261.6,991.7 L261.9,991.7 L262.1,991.7 L262.4,991.7 L262.6,991.6 L262.9,991.6 L263.1,991.6 L263.4,991.6 L263.6,991.6 L263.9,991.6 L264.1,991.6 L264.4,991.6 L264.6,991.6 L264.9,991.6 L265.1,991.6 L265.4,991.5 L265.6,991.5 L265.9,991.5 L266.1,991.5 L266.4,991.5 L266.6,991.5 L266.9,991.5 L267.1,991.5 L267.4,991.5 L267.6,991.5 L267.9,991.5 L268.1,991.4 L268.4,991.4 L268.6,991.4 L268.9,991.4 L269.1,991.4 L269.4,991.4 L269.6,991.4 L269.9,991.4 L270.1,991.4 L270.4,991.3 L270.6,991.3 L270.9,991.3 L271.1,991.3 L271.4,991.3 L271.6,991.3 L271.9,991.3 L272.1,991.3 L272.4,991.2 L272.6,991.2 L272.9,991.2 L273.1,991.2 L273.4,991.2 L273.6,991.2 L273.9,991.1 L274.1,991.1 L274.4,991.1 L274.6,991.1 L274.9,991.1 L275.1,991.1 L275.4,991.0 L275.6,991.0 L275.9,991.0 L276.1,991.0 L276.4,990.9 L276.6,990.9 L276.9,990.9 L277.1,990.9 L277.4,990.8 L277.6,990.8 L277.9,990.7 L278.1,990.6 L278.4,990.6 L278.6,990.5 L278.9,990.4 L279.1,990.3 L279.4,990.2 L279.6,990.1 L279.9,990.0 L280.1,989.9 L280.4,989.8 L280.6,989.7 L280.9,989.6 L281.1,989.4 L281.4,989.3 L281.6,989.2 L281.9,989.0 L282.1,988.9 L282.4,988.7 L282.6,988.6 L282.9,988.4 L283.1,988.3 L283.4,988.1 L283.6,988.0 L283.9,987.8 L284.1,987.7 L284.4,987.5 L284.6,987.3 L284.9,987.2 L285.1,987.0 L285.4,986.9 L285.6,986.7 L285.9,986.5 L286.1,986.4 L286.4,986.2 L286.6,986.1 L286.9,985.9 L287.1,985.8 L287.4,985.6 L287.6,985.5 L287.9,985.3 L288.1,985.2 L288.4,985.0 L288.6,984.9 L288.9,984.7 L289.1,984.5 L289.4,984.4 L289.6,984.2 L289.9,984.1 L290.1,983.9 L290.4,983.7 L290.6,983.6 L290.9,983.4 L291.1,983.2 L291.4,983.1 L291.6,982.9 L291.9,982.7 L292.1,982.5 L292.4,982.3 L292.6,982.2 L292.9,982.0 L293.1,981.8 L293.4,981.6 L293.6,981.4 L293.9,981.2 L294.1,981.0 L294.4,980.8 L294.6,980.6 L294.9,980.4 L295.1,980.1 L295.4,979.9 L295.6,979.7 L295.9,979.5 L296.1,979.2 L296.4,979.0 L296.6,978.7 L296.9,978.5 L297.1,978.3 L297.4,978.0 L297.6,977.7 L297.9,977.5 L298.1,977.2 L298.4,976.9 L298.6,976.6 L298.9,976.2 L299.1,975.9 L299.4,975.5 L299.6,975.2 L299.9,974.8 L300.1,974.4 L300.4,974.0 L300.6,973.6 L300.9,973.2 L301.1,972.7 L301.4,972.3 L301.6,971.7 L301.9,971.2 L302.1,970.6 L302.4,970.1 L302.6,969.5 L302.9,968.8 L303.1,968.2 L303.4,967.5 L303.6,966.9 L303.9,966.2 L304.1,965.5 L304.4,964.8 L304.6,964.1 L304.9,963.4 L305.1,962.7 L305.4,962.0 L305.6,961.3 L305.9,960.6 L306.1,960.0 L306.4,959.3 L306.6,958.6 L306.9,958.0 L307.1,957.3 L307.4,956.7 L307.6,956.0 L307.9,955.3 L308.1,954.7 L308.4,954.0 L308.6,953.3 L308.9,952.6 L309.1,951.9 L309.4,951.3 L309.6,950.6 L309.9,949.9 L310.1,949.2 L310.4,948.5 L310.6,947.7 L310.9,947.0 L311.1,946.3 L311.4,945.5 L311.6,944.8 L311.9,944.0 L312.1,943.3 L312.4,942.5 L312.6,941.7 L312.9,940.9 L313.1,940.1 L313.4,939.3 L313.6,938.5 L313.9,937.6 L314.1,936.8 L314.4,935.9 L314.6,935.1 L314.9,934.2 L315.1,933.3 L315.4,932.4 L315.6,931.5 L315.9,930.6 L316.1,929.7 L316.4,928.8 L316.6,927.8 L316.9,926.9 L317.1,926.0 L317.4,925.0 L317.6,924.1 L317.9,923.2 L318.1,922.3 L318.4,921.3 L318.6,920.4 L318.9,919.5 L319.1,918.5 L319.4,917.6 L319.6,916.7 L319.9,915.7 L320.1,914.7 L320.4,913.8 L320.6,912.8 L320.9,911.8 L321.1,910.7 L321.4,909.7 L321.6,908.6 L321.9,907.5 L322.1,906.4 L322.4,905.2 L322.6,904.0 L322.9,902.8 L323.1,901.6 L323.4,900.3 L323.6,898.9 L323.9,897.6 L324.1,896.2 L324.4,894.8 L324.6,893.3 L324.9,891.8 L325.1,890.3 L325.4,888.7 L325.6,887.1 L325.9,885.4 L326.1,883.8 L326.4,882.1 L326.6,880.4 L326.9,878.6 L327.1,876.9 L327.4,875.1 L327.6,873.3 L327.9,871.4 L328.1,869.4 L328.4,867.3 L328.6,864.9 L328.9,862.4 L329.1,859.6 L329.4,855.9 L329.6,851.4 L329.9,846.7 L330.1,842.3 L330.4,838.8 L330.6,836.1 L330.9,833.7 L331.1,831.5 L331.4,829.5 L331.6,827.7 L331.9,825.9 L332.1,824.3 L332.4,822.5 L332.6,820.8 L332.9,818.9 L333.1,816.8 L333.4,814.6 L333.6,812.0 L333.9,809.2 L334.1,806.0 L334.4,802.6 L334.6,798.9 L334.9,794.8 L335.1,790.6 L335.4,786.1 L335.6,781.1 L335.9,774.7 L336.1,767.7 L336.4,760.7 L336.6,754.6 L336.9,750.0 L337.1,746.4 L337.4,743.0 L337.6,740.0 L337.9,737.9 L338.1,736.9 L338.4,737.0 L338.6,737.3 L338.9,737.9 L339.1,738.6 L339.4,739.5 L339.6,740.5 L339.9,741.7 L340.1,742.9 L340.4,744.2 L340.6,745.5 L340.9,746.8 L341.1,748.1 L341.4,749.4 L341.6,750.6 L341.9,751.6 L342.1,752.6 L342.4,753.6 L342.6,754.7 L342.9,755.9 L343.1,757.1 L343.4,758.3 L343.6,759.5 L343.9,760.6 L344.1,761.7 L344.4,762.7 L344.6,763.6 L344.9,764.4 L345.1,765.1 L345.4,765.6 L345.6,765.9 L345.9,766.0 L346.1,765.9 L346.4,765.6 L346.6,765.1 L346.9,764.5 L347.1,763.8 L347.4,762.9 L347.6,762.0 L347.9,760.9 L348.1,759.8 L348.4,758.7 L348.6,757.6 L348.9,756.4 L349.1,755.3 L349.4,754.3 L349.6,753.3 L349.9,752.3 L350.1,751.5 L350.4,750.6 L350.6,749.6 L350.9,748.5 L351.1,747.5 L351.4,746.4 L351.6,745.3 L351.9,744.3 L352.1,743.2 L352.4,742.3 L352.6,741.4 L352.9,740.6 L353.1,739.9 L353.4,739.4 L353.6,739.0 L353.9,738.8 L354.1,738.7 L354.4,738.7 L354.6,738.8 L354.9,738.9 L355.1,739.1 L355.4,739.3 L355.6,739.5 L355.9,739.8 L356.1,740.1 L356.4,740.5 L356.6,740.9 L356.9,741.3 L357.1,741.9 L357.4,742.4 L357.6,743.0 L357.9,743.7 L358.1,744.3 L358.4,745.1 L358.6,745.9 L358.9,746.7 L359.1,747.6 L359.4,749.1 L359.6,751.9 L359.9,755.6 L360.1,759.7 L360.4,763.6 L360.6,767.1 L360.9,770.6 L361.1,774.2 L361.4,777.7 L361.6,781.1 L361.9,784.2 L362.1,787.1 L362.4,790.0 L362.6,792.8 L362.9,795.5 L363.1,798.1 L363.4,800.7 L363.6,803.1 L363.9,805.5 L364.1,807.7 L364.4,809.9 L364.6,811.9 L364.9,813.8 L365.1,815.7 L365.4,817.5 L365.6,819.2 L365.9,820.9 L366.1,822.6 L366.4,824.1 L366.6,825.7 L366.9,827.2 L367.1,828.7 L367.4,830.1 L367.6,831.6 L367.9,833.0 L368.1,834.4 L368.4,835.8 L368.6,837.1 L368.9,838.5 L369.1,839.8 L369.4,841.2 L369.6,842.5 L369.9,843.8 L370.1,845.1 L370.4,846.3 L370.6,847.6 L370.9,848.8 L371.1,850.0 L371.4,851.1 L371.6,852.2 L371.9,853.3 L372.1,854.4 L372.4,855.4 L372.6,856.4 L372.9,857.4 L373.1,858.3 L373.4,859.2 L373.6,860.1 L373.9,861.0 L374.1,861.9 L374.4,862.7 L374.6,863.5 L374.9,864.3 L375.1,865.1 L375.4,865.9 L375.6,866.7 L375.9,867.5 L376.1,868.2 L376.4,868.9 L376.6,869.7 L376.9,870.4 L377.1,871.1 L377.4,871.8 L377.6,872.4 L377.9,873.1 L378.1,873.8 L378.4,874.4 L378.6,875.1 L378.9,875.7 L379.1,876.4 L379.4,877.0 L379.6,877.6 L379.9,878.3 L380.1,878.9 L380.4,879.5 L380.6,880.1 L380.9,880.7 L381.1,881.2 L381.4,881.8 L381.6,882.4 L381.9,882.9 L382.1,883.5 L382.4,884.0 L382.6,884.6 L382.9,885.1 L383.1,885.6 L383.4,886.1 L383.6,886.6 L383.9,887.1 L384.1,887.5 L384.4,888.0 L384.9,888.6 L385.4,889.3 L385.9,889.9 L386.4,890.6 L386.9,891.2 L387.4,891.9 L387.9,892.5 L388.4,893.2 L388.9,893.8 L389.4,894.5 L389.9,895.1 L390.4,895.8 L390.9,896.4 L391.4,897.1 L391.9,897.7 L392.4,898.1 L392.9,898.4 L393.4,898.6 L393.9,898.9 L394.4,899.1 L394.9,899.4 L395.4,899.6 L395.9,899.8 L396.4,900.1 L396.9,900.3 L397.4,900.6 L397.9,900.8 L398.4,901.1 L398.9,901.3 L399.4,901.5 L399.9,901.8 L400.4,902.0 L400.9,902.3 L401.4,902.5 L401.9,902.8 L402.4,903.0 L402.9,903.1 L403.4,903.3 L403.9,903.4 L404.4,903.5 L404.9,903.7 L405.4,903.8 L405.9,903.9 L406.4,904.1 L406.9,904.2 L407.4,904.3 L407.9,904.4 L408.4,904.6 L408.9,904.7 L409.4,904.8 L409.9,905.0 L410.4,905.0 L410.9,904.9 L411.4,904.9 L411.9,904.9 L412.4,904.8 L412.9,904.8 L413.4,904.8 L413.9,904.7 L414.4,904.7 L414.9,904.7 L415.4,904.6 L415.9,904.6 L416.4,904.6 L416.9,904.6 L417.4,904.5 L417.9,904.4 L418.4,904.2 L418.9,904.0 L419.4,903.7 L419.9,903.5 L420.4,903.3 L420.9,903.0 L421.4,902.8 L421.9,902.6 L422.4,902.4 L422.9,902.1 L423.4,901.9 L423.9,901.7 L424.4,901.5 L424.9,901.2 L425.4,901.0 L425.9,900.8 L426.4,900.6 L426.9,900.3 L427.4,900.1 L427.9,899.9 L428.4,899.7 L428.9,899.5 L429.4,899.3 L429.9,899.0 L430.4,898.8 L430.9,898.6 L431.4,898.4 L431.9,898.2 L432.4,898.0 L432.9,897.7 L433.4,897.5 L433.9,897.3 L434.4,897.1 L434.9,896.9 L435.4,896.7 L435.9,896.4 L436.4,896.2 L436.9,896.0 L437.4,895.7 L437.9,895.5 L438.4,895.2 L438.9,894.9 L439.4,894.7 L439.9,894.4 L440.4,894.1 L440.9,893.9 L441.4,893.6 L441.9,893.3 L442.4,893.1 L442.9,892.8 L443.4,892.5 L443.9,892.3 L444.4,892.0 L444.9,891.7 L445.4,891.5 L445.9,891.2 L446.4,890.9 L446.9,890.7 L447.2,890.5" stroke="#ff0000" stroke-width="4.1" stroke-dasharray="12.5 22.5" stroke-linecap="round"/>
<path d="M60.9,894.9 L61.4,894.7 L61.9,894.4 L62.4,894.2 L62.9,893.9 L63.4,893.7 L63.9,893.4 L64.4,893.2 L64.9,892.9 L65.4,892.7 L65.9,892.4 L66.4,892.2 L66.9,891.9 L67.4,891.7 L67.9,891.4 L68.4,891.2 L68.9,891.2 L69.4,892.0 L69.9,892.9 L70.4,893.7 L70.9,894.6 L71.4,895.4 L71.9,896.3 L72.4,897.1 L72.9,897.9 L73.4,898.8 L73.9,899.5 L74.4,900.1 L74.9,900.7 L75.4,901.2 L75.9,901.8 L76.4,902.4 L76.9,902.9 L77.4,903.5 L77.9,904.0 L78.4,904.6 L78.9,905.2 L79.4,905.7 L79.9,906.3 L80.4,906.9 L80.9,906.9 L81.4,906.5 L81.9,906.1 L82.4,905.7 L82.9,905.3 L83.4,904.9 L83.9,904.5 L84.4,904.1 L84.9,903.7 L85.4,903.3 L85.9,902.9 L86.4,902.5 L86.9,902.1 L87.4,901.7 L87.9,901.7 L88.4,901.9 L88.9,902.0 L89.4,902.1 L89.9,902.3 L90.4,902.4 L90.9,902.6 L91.4,902.7 L91.9,902.8 L92.4,903.0 L92.9,903.1 L93.4,903.3 L93.9,903.4 L94.4,903.5 L94.9,903.7 L95.4,903.8 L95.9,904.0 L96.4,904.1 L96.9,904.2 L97.4,904.4 L97.9,904.5 L98.4,904.7 L98.9,904.8 L99.4,904.9 L99.9,905.1 L100.4,905.1 L100.9,904.6 L101.4,904.1 L101.9,903.6 L102.4,903.1 L102.9,902.6 L103.4,902.1 L103.9,901.6 L104.4,901.1 L104.9,900.6 L105.4,900.1 L105.9,899.6 L106.4,899.1 L106.9,898.6 L107.4,898.1 L107.9,897.6 L108.4,897.2 L108.9,896.8 L109.4,896.4 L109.9,896.0 L110.4,895.7 L110.9,895.3 L111.4,894.9 L111.9,894.5 L112.4,894.2 L112.9,893.8 L113.4,893.4 L113.9,893.0 L114.4,892.7 L114.9,892.3 L115.4,891.9 L115.9,891.5 L116.4,891.0 L116.9,890.5 L117.4,889.9 L117.9,889.3 L118.4,888.7 L118.9,888.1 L119.4,887.5 L119.9,887.0 L120.4,886.4 L120.9,885.8 L121.4,885.2 L121.9,884.6 L122.4,883.6 L122.9,882.5 L123.4,881.5 L123.9,880.4 L124.4,879.3 L124.9,878.2 L125.4,877.1 L125.9,876.0 L126.4,875.0 L126.9,873.9 L127.4,872.8 L127.9,871.7 L128.2,871.1 L128.4,870.5 L128.7,869.9 L128.9,869.2 L129.2,868.6 L129.4,867.9 L129.7,867.2 L129.9,866.5 L130.2,865.8 L130.4,865.1 L130.7,864.3 L130.9,863.6 L131.2,862.8 L131.4,862.0 L131.7,861.2 L131.9,860.4 L132.2,859.6 L132.4,858.8 L132.7,858.0 L132.9,857.1 L133.2,856.3 L133.4,855.4 L133.7,854.5 L133.9,853.6 L134.2,852.8 L134.4,851.8 L134.7,850.9 L134.9,850.0 L135.2,849.0 L135.4,848.1 L135.7,847.1 L135.9,846.1 L136.2,845.1 L136.4,844.1 L136.7,843.0 L136.9,841.9 L137.2,840.9 L137.4,839.8 L137.7,838.6 L137.9,837.5 L138.2,836.3 L138.4,835.2 L138.7,834.0 L138.9,832.7 L139.2,831.5 L139.4,830.2 L139.7,829.0 L139.9,827.7 L140.2,826.3 L140.4,824.9 L140.7,823.6 L140.9,822.1 L141.2,820.7 L141.4,819.1 L141.7,817.6 L141.9,816.0 L142.2,814.4 L142.4,812.7 L142.7,811.0 L142.9,809.2 L143.2,807.3 L143.4,805.4 L143.7,803.5 L143.9,801.5 L144.2,799.4 L144.4,797.2 L144.7,794.9 L144.9,792.6 L145.2,790.1 L145.4,787.5 L145.7,784.8 L145.9,782.0 L146.2,779.1 L146.4,776.0 L146.7,772.9 L146.9,769.5 L147.2,765.8 L147.4,761.9 L147.7,757.8 L147.9,753.4 L148.2,748.8 L148.4,744.0 L148.7,739.0 L148.9,733.4 L149.2,727.2 L149.4,720.6 L149.7,713.9 L149.9,707.2 L150.2,700.5 L150.4,693.1 L150.7,685.9 L150.9,679.9 L151.2,675.4 L151.4,671.3 L151.7,668.5 L151.9,668.2 L152.2,669.9 L152.4,672.8 L152.7,676.1 L152.9,679.2 L153.2,682.8 L153.4,686.7 L153.7,690.8 L153.9,695.1 L154.2,699.3 L154.4,703.2 L154.7,706.7 L154.9,710.1 L155.2,713.5 L155.4,716.8 L155.7,720.0 L155.9,723.1 L156.2,726.1 L156.4,729.0 L156.7,731.9 L156.9,734.9 L157.2,737.9 L157.4,740.8 L157.7,743.6 L157.9,746.1 L158.2,748.2 L158.4,749.9 L158.7,751.3 L158.9,752.7 L159.2,754.1 L159.4,755.3 L159.7,756.3 L159.9,757.1 L160.2,757.6 L160.4,757.8 L160.7,757.7 L160.9,757.6 L161.2,757.4 L161.4,757.0 L161.7,756.6 L161.9,756.1 L162.2,755.6 L162.4,754.9 L162.7,754.2 L162.9,753.5 L163.2,752.7 L163.4,751.8 L163.7,750.6 L163.9,748.8 L164.2,746.5 L164.4,743.8 L164.7,740.8 L164.9,737.6 L165.2,734.2 L165.4,730.7 L165.7,726.6 L165.9,721.9 L166.2,716.8 L166.4,711.4 L166.7,705.7 L166.9,699.0 L167.2,690.3 L167.4,681.5 L167.7,674.7 L167.9,672.0 L168.2,673.9 L168.4,678.8 L168.7,685.6 L168.9,693.3 L169.2,700.7 L169.4,707.0 L169.7,712.9 L169.9,718.8 L170.2,724.7 L170.4,730.8 L170.7,737.2 L170.9,744.0 L171.2,751.6 L171.4,760.1 L171.7,768.7 L171.9,776.9 L172.2,784.1 L172.4,789.9 L172.7,795.3 L172.9,800.3 L173.2,805.0 L173.4,809.5 L173.7,813.7 L173.9,817.9 L174.2,822.0 L174.4,826.1 L174.7,830.1 L174.9,834.1 L175.2,838.0 L175.4,841.7 L175.7,845.2 L175.9,848.6 L176.2,851.7 L176.4,854.6 L176.7,857.4 L176.9,860.1 L177.2,862.7 L177.4,865.1 L177.7,867.4 L177.9,869.6 L178.2,871.6 L178.4,873.5 L178.7,875.3 L178.9,877.0 L179.2,878.6 L179.4,880.1 L179.7,881.6 L179.9,883.0 L180.2,884.4 L180.4,885.8 L180.7,887.2 L180.9,888.5 L181.2,889.9 L181.4,891.3 L181.7,892.7 L181.9,894.1 L182.2,895.6 L182.4,897.1 L182.7,898.7 L182.9,900.3 L183.2,901.9 L183.4,903.5 L183.7,905.2 L183.9,906.8 L184.2,908.4 L184.4,910.0 L184.7,911.5 L184.9,913.0 L185.2,914.5 L185.4,915.9 L185.7,917.2 L185.9,918.5 L186.2,919.7 L186.4,920.9 L186.7,922.0 L186.9,923.1 L187.2,924.2 L187.4,925.3 L187.7,926.3 L187.9,927.4 L188.2,928.4 L188.4,929.3 L188.7,930.3 L188.9,931.2 L189.2,932.2 L189.4,933.1 L189.7,934.0 L189.9,934.9 L190.2,935.8 L190.4,936.6 L190.7,937.5 L190.9,938.4 L191.2,939.2 L191.4,940.1 L191.7,940.9 L191.9,941.7 L192.2,942.6 L192.4,943.4 L192.7,944.2 L192.9,945.0 L193.2,945.8 L193.4,946.6 L193.7,947.4 L193.9,948.1 L194.2,948.9 L194.4,949.6 L194.7,950.4 L194.9,951.1 L195.2,951.8 L195.4,952.5 L195.7,953.2 L195.9,953.8 L196.2,954.5 L196.4,955.2 L196.7,955.8 L196.9,956.4 L197.2,957.0 L197.4,957.6 L197.7,958.2 L197.9,958.8 L198.2,959.4 L198.4,959.9 L198.7,960.5 L198.9,961.1 L199.2,961.6 L199.4,962.2 L199.7,962.7 L199.9,963.2 L200.2,963.8 L200.4,964.3 L200.7,964.8 L200.9,965.3 L201.2,965.8 L201.4,966.3 L201.7,966.8 L201.9,967.2 L202.2,967.7 L202.4,968.2 L202.7,968.6 L202.9,969.1 L203.2,969.6 L203.4,970.0 L203.7,970.4 L203.9,970.9 L204.2,971.3 L204.4,971.7 L204.7,972.1 L204.9,972.5 L205.2,972.9 L205.4,973.3 L205.7,973.7 L205.9,974.2 L206.2,974.6 L206.4,975.0 L206.7,975.4 L206.9,975.7 L207.2,976.1 L207.4,976.5 L207.7,976.9 L207.9,977.3 L208.2,977.7 L208.4,978.0 L208.7,978.4 L208.9,978.7 L209.2,979.1 L209.4,979.4 L209.7,979.8 L209.9,980.1 L210.2,980.4 L210.4,980.7 L210.7,981.0 L210.9,981.3 L211.2,981.6 L211.4,981.9 L211.7,982.1 L211.9,982.4 L212.2,982.6 L212.4,982.8 L212.7,983.0 L212.9,983.3 L213.2,983.5 L213.4,983.7 L213.7,983.9 L213.9,984.0 L214.2,984.2 L214.4,984.4 L214.7,984.6 L214.9,984.8 L215.2,985.0 L215.4,985.1 L215.7,985.3 L215.9,985.5 L216.2,985.6 L216.4,985.8 L216.7,985.9 L216.9,986.1 L217.2,986.3 L217.4,986.4 L217.7,986.6 L217.9,986.7 L218.2,986.8 L218.4,987.0 L218.7,987.1 L218.9,987.2 L219.2,987.4 L219.4,987.5 L219.7,987.6 L219.9,987.7 L220.2,987.9 L220.4,988.0 L220.7,988.1 L220.9,988.2 L221.2,988.3 L221.4,988.4 L221.7,988.5 L221.9,988.7 L222.2,988.8 L222.4,988.9 L222.7,989.0 L222.9,989.1 L223.2,989.2 L223.4,989.3 L223.7,989.4 L223.9,989.5 L224.2,989.6 L224.4,989.7 L224.7,989.8 L224.9,989.9 L225.2,990.0 L225.4,990.1 L225.7,990.2 L225.9,990.3 L226.2,990.4 L226.4,990.5 L226.7,990.5 L226.9,990.6 L227.2,990.7 L227.4,990.8 L227.7,990.9 L227.9,991.0 L228.2,991.1 L228.4,991.1 L228.7,991.2 L228.9,991.3 L229.2,991.3 L229.4,991.4 L229.7,991.5 L229.9,991.5 L230.2,991.6 L230.4,991.6 L230.7,991.7 L230.9,991.7 L231.2,991.8 L231.4,991.8 L231.7,991.8 L231.9,991.9 L232.2,991.9 L232.4,991.9 L232.7,991.9 L232.9,991.9 L233.2,992.0 L233.4,992.0 L233.7,992.0 L233.9,992.0 L234.2,992.0 L234.4,992.0 L234.7,992.0 L234.9,992.0 L235.2,992.0 L235.4,992.1 L235.7,992.1 L235.9,992.1 L236.2,992.1 L236.4,992.1 L236.7,992.1 L236.9,992.1 L237.2,992.1 L237.4,992.1 L237.7,992.1 L237.9,992.1 L238.2,992.1 L238.4,992.1 L238.7,992.2 L238.9,992.2 L239.2,992.2 L239.4,992.2 L239.7,992.2 L239.9,992.2 L240.2,992.2 L240.4,992.2 L240.7,992.2 L240.9,992.2 L241.2,992.2 L241.4,992.3 L241.7,992.3 L241.9,992.3 L242.2,992.3 L242.4,992.3 L242.7,992.3 L242.9,992.4 L243.2,992.4 L243.4,992.4 L243.7,992.5 L243.9,992.5 L244.2,992.5 L244.4,992.6 L244.7,992.6 L244.9,992.6 L245.2,992.7 L245.4,992.7 L245.7,992.7 L245.9,992.7 L246.2,992.7 L246.4,992.7 L246.7,992.7 L246.9,992.7 L247.2,992.7 L247.4,992.7 L247.7,992.6 L247.9,992.6 L248.2,992.6 L248.4,992.6 L248.7,992.6 L248.9,992.5 L249.2,992.5 L249.4,992.5 L249.7,992.5 L249.9,992.4 L250.2,992.4 L250.4,992.4 L250.7,992.3 L250.9,992.3 L251.2,992.3 L251.4,992.2 L251.7,992.2 L251.9,992.2 L252.2,992.2 L252.4,992.1 L252.7,992.1 L252.9,992.1 L253.2,992.0 L253.4,992.0 L253.7,992.0 L253.9,992.0 L254.2,992.0 L254.4,991.9 L254.7,991.9 L254.9,991.9 L255.2,991.9 L255.4,991.9 L255.7,991.9 L255.9,991.9 L256.1,991.8 L256.4,991.8 L256.6,991.8 L256.9,991.8 L257.1,991.8 L257.4,991.8 L257.6,991.8 L257.9,991.8 L258.1,991.8 L258.4,991.8 L258.6,991.8 L258.9,991.8 L259.1,991.8 L259.4,991.7 L259.6,991.7 L259.9,991.7 L260.1,991.7 L260.4,991.7 L260.6,991.7 L260.9,991.7 L261.1,991.7 L261.4,991.7 L261.6,991.7 L261.9,991.7 L262.1,991.7 L262.4,991.7 L262.6,991.6 L262.9,991.6 L263.1,991.6 L263.4,991.6 L263.6,991.6 L263.9,991.6 L264.1,991.6 L264.4,991.6 L264.6,991.6 L264.9,991.6 L265.1,991.6 L265.4,991.5 L265.6,991.5 L265.9,991.5 L266.1,991.5 L266.4,991.5 L266.6,991.5 L266.9,991.5 L267.1,991.5 L267.4,991.5 L267.6,991.5 L267.9,991.5 L268.1,991.4 L268.4,991.4 L268.6,991.4 L268.9,991.4 L269.1,991.4 L269.4,991.4 L269.6,991.4 L269.9,991.4 L270.1,991.4 L270.4,991.3 L270.6,991.3 L270.9,991.3 L271.1,991.3 L271.4,991.3 L271.6,991.3 L271.9,991.3 L272.1,991.3 L272.4,991.2 L272.6,991.2 L272.9,991.2 L273.1,991.2 L273.4,991.2 L273.6,991.2 L273.9,991.1 L274.1,991.1 L274.4,991.1 L274.6,991.1 L274.9,991.1 L275.1,991.1 L275.4,991.0 L275.6,991.0 L275.9,991.0 L276.1,991.0 L276.4,990.9 L276.6,990.9 L276.9,990.9 L277.1,990.9 L277.4,990.8 L277.6,990.8 L277.9,990.7 L278.1,990.6 L278.4,990.6 L278.6,990.5 L278.9,990.4 L279.1,990.3 L279.4,990.2 L279.6,990.1 L279.9,990.0 L280.1,989.9 L280.4,989.8 L280.6,989.7 L280.9,989.6 L281.1,989.4 L281.4,989.3 L281.6,989.2 L281.9,989.0 L282.1,988.9 L282.4,988.7 L282.6,988.6 L282.9,988.4 L283.1,988.3 L283.4,988.1 L283.6,988.0 L283.9,987.8 L284.1,987.7 L284.4,987.5 L284.6,987.3 L284.9,987.2 L285.1,987.0 L285.4,986.9 L285.6,986.7 L285.9,986.5 L286.1,986.4 L286.4,986.2 L286.6,986.1 L286.9,985.9 L287.1,985.8 L287.4,985.6 L287.6,985.5 L287.9,985.3 L288.1,985.2 L288.4,985.0 L288.6,984.8 L288.9,984.7 L289.1,984.5 L289.4,984.3 L289.6,984.2 L289.9,984.0 L290.1,983.8 L290.4,983.6 L290.6,983.4 L290.9,983.3 L291.1,983.1 L291.4,982.9 L291.6,982.7 L291.9,982.5 L292.1,982.3 L292.4,982.1 L292.6,981.9 L292.9,981.7 L293.1,981.6 L293.4,981.4 L293.6,981.2 L293.9,981.0 L294.1,980.7 L294.4,980.5 L294.6,980.3 L294.9,980.1 L295.1,979.9 L295.4,979.7 L295.6,979.5 L295.9,979.3 L296.1,979.1 L296.4,978.9 L296.6,978.7 L296.9,978.4 L297.1,978.2 L297.4,978.0 L297.6,977.8 L297.9,977.6 L298.1,977.4 L298.4,977.2 L298.6,977.0 L298.9,976.8 L299.1,976.6 L299.4,976.3 L299.6,976.1 L299.9,975.9 L300.1,975.7 L300.4,975.4 L300.6,975.2 L300.9,974.9 L301.1,974.7 L301.4,974.4 L301.6,974.1 L301.9,973.8 L302.1,973.5 L302.4,973.1 L302.6,972.8 L302.9,972.4 L303.1,971.9 L303.4,971.4 L303.6,970.9 L303.9,970.3 L304.1,969.7 L304.4,969.1 L304.6,968.4 L304.9,967.8 L305.1,967.1 L305.4,966.4 L305.6,965.6 L305.9,964.9 L306.1,964.2 L306.4,963.5 L306.6,962.7 L306.9,962.0 L307.1,961.3 L307.4,960.6 L307.6,960.0 L307.9,959.3 L308.1,958.6 L308.4,958.0 L308.6,957.3 L308.9,956.7 L309.1,956.0 L309.4,955.3 L309.6,954.7 L309.9,954.0 L310.1,953.3 L310.4,952.6 L310.6,951.9 L310.9,951.3 L311.1,950.6 L311.4,949.9 L311.6,949.2 L311.9,948.5 L312.1,947.7 L312.4,947.0 L312.6,946.3 L312.9,945.5 L313.1,944.8 L313.4,944.0 L313.6,943.3 L313.9,942.5 L314.1,941.7 L314.4,940.9 L314.6,940.1 L314.9,939.3 L315.1,938.5 L315.4,937.6 L315.6,936.8 L315.9,935.9 L316.1,935.1 L316.4,934.2 L316.6,933.3 L316.9,932.4 L317.1,931.5 L317.4,930.6 L317.6,929.7 L317.9,928.8 L318.1,927.8 L318.4,926.9 L318.6,926.0 L318.9,925.0 L319.1,924.1 L319.4,923.2 L319.6,922.3 L319.9,921.3 L320.1,920.4 L320.4,919.5 L320.6,918.5 L320.9,917.6 L321.1,916.7 L321.4,915.7 L321.6,914.7 L321.9,913.8 L322.1,912.8 L322.4,911.8 L322.6,910.7 L322.9,909.7 L323.1,908.6 L323.4,907.5 L323.6,906.4 L323.9,905.2 L324.1,904.0 L324.4,902.8 L324.6,901.6 L324.9,900.3 L325.1,898.9 L325.4,897.6 L325.6,896.2 L325.9,894.8 L326.1,893.3 L326.4,891.8 L326.6,890.3 L326.9,888.7 L327.1,887.1 L327.4,885.4 L327.6,883.8 L327.9,882.1 L328.1,880.4 L328.4,878.6 L328.6,876.9 L328.9,875.1 L329.1,873.3 L329.4,871.4 L329.6,869.4 L329.9,867.3 L330.1,864.9 L330.4,862.4 L330.6,859.6 L330.9,856.1 L331.1,852.0 L331.4,847.5 L331.6,843.0 L331.9,838.8 L332.1,834.9 L332.4,831.0 L332.6,827.3 L332.9,823.5 L333.1,819.8 L333.4,816.0 L333.6,812.3 L333.9,808.5 L334.1,805.0 L334.4,801.6 L334.6,798.1 L334.9,794.4 L335.1,790.5 L335.4,786.1 L335.6,781.1 L335.9,775.2 L336.1,768.7 L336.4,761.8 L336.6,754.7 L336.9,747.8 L337.1,741.0 L337.4,734.0 L337.6,726.9 L337.9,719.8 L338.1,712.8 L338.4,705.2 L338.6,696.3 L338.9,687.2 L339.1,679.1 L339.4,673.0 L339.6,670.1 L339.9,672.0 L340.1,679.1 L340.4,689.0 L340.6,699.6 L340.9,708.7 L341.1,714.9 L341.4,720.6 L341.6,726.0 L341.9,731.0 L342.1,735.5 L342.4,739.4 L342.6,742.6 L342.9,745.1 L343.1,747.4 L343.4,749.7 L343.6,751.8 L343.9,753.7 L344.1,755.5 L344.4,757.1 L344.6,758.4 L344.9,759.4 L345.1,760.1 L345.4,760.5 L345.6,760.5 L345.9,760.3 L346.1,760.1 L346.4,759.8 L346.6,759.3 L346.9,758.8 L347.1,758.2 L347.4,757.5 L347.6,756.7 L347.9,755.9 L348.1,755.1 L348.4,754.1 L348.6,753.2 L348.9,752.2 L349.1,751.2 L349.4,749.9 L349.6,748.4 L349.9,746.6 L350.1,744.5 L350.4,742.2 L350.6,739.8 L350.9,737.2 L351.1,734.5 L351.4,731.7 L351.6,728.9 L351.9,726.0 L352.1,722.9 L352.4,719.5 L352.6,715.8 L352.9,711.9 L353.1,707.9 L353.4,703.9 L353.6,699.9 L353.9,696.1 L354.1,692.5 L354.4,688.5 L354.6,684.2 L354.9,679.8 L355.1,675.7 L355.4,672.1 L355.6,669.5 L355.9,668.1 L356.1,668.3 L356.4,669.7 L356.6,672.3 L356.9,675.9 L357.1,680.3 L357.4,685.2 L357.6,690.6 L357.9,696.1 L358.1,701.8 L358.4,707.2 L358.6,712.4 L358.9,718.0 L359.1,724.1 L359.4,730.5 L359.6,737.0 L359.9,743.2 L360.1,748.9 L360.4,754.5 L360.6,760.2 L360.9,765.7 L361.1,771.0 L361.4,776.0 L361.6,780.4 L361.9,784.2 L362.1,787.5 L362.4,790.6 L362.6,793.5 L362.9,796.3 L363.1,798.8 L363.4,801.3 L363.6,803.6 L363.9,805.8 L364.1,807.9 L364.4,809.9 L364.6,811.9 L364.9,813.8 L365.1,815.7 L365.4,817.5 L365.6,819.3 L365.9,821.0 L366.1,822.7 L366.4,824.3 L366.6,825.8 L366.9,827.3 L367.1,828.8 L367.4,830.3 L367.6,831.7 L367.9,833.1 L368.1,834.4 L368.4,835.7 L368.6,837.0 L368.9,838.3 L369.1,839.6 L369.4,840.9 L369.6,842.1 L369.9,843.3 L370.1,844.5 L370.4,845.6 L370.6,846.8 L370.9,847.9 L371.1,849.0 L371.4,850.0 L371.6,851.0 L371.9,852.0 L372.1,852.9 L372.4,853.8 L372.6,854.7 L372.9,855.5 L373.1,856.3 L373.4,857.1 L373.6,857.8 L373.9,858.5 L374.1,859.2 L374.4,859.8 L374.6,860.4 L374.9,861.1 L375.1,861.7 L375.4,862.3 L375.6,862.9 L375.9,863.5 L376.1,864.1 L376.4,864.7 L376.6,865.3 L376.9,865.9 L377.1,866.5 L377.4,867.1 L377.6,867.7 L377.9,868.4 L378.1,869.0 L378.4,869.6 L378.6,870.2 L378.9,870.8 L379.1,871.4 L379.4,872.0 L379.6,872.6 L379.9,873.2 L380.1,873.7 L380.4,874.3 L380.6,874.9 L380.9,875.5 L381.1,876.1 L381.4,876.7 L381.6,877.2 L381.9,877.8 L382.1,878.4 L382.4,878.9 L382.6,879.5 L382.9,880.0 L383.1,880.6 L383.4,881.1 L383.6,881.7 L383.9,882.2 L384.1,882.8 L384.4,883.3 L384.9,884.0 L385.4,884.6 L385.9,885.3 L386.4,885.9 L386.9,886.6 L387.4,887.3 L387.9,887.9 L388.4,888.6 L388.9,889.3 L389.4,889.9 L389.9,890.6 L390.4,891.2 L390.9,891.9 L391.4,892.6 L391.9,893.2 L392.4,893.7 L392.9,894.1 L393.4,894.5 L393.9,894.8 L394.4,895.2 L394.9,895.6 L395.4,896.0 L395.9,896.3 L396.4,896.7 L396.9,897.1 L397.4,897.5 L397.9,897.8 L398.4,898.2 L398.9,898.6 L399.4,899.0 L399.9,899.3 L400.4,899.7 L400.9,900.1 L401.4,900.5 L401.9,900.8 L402.4,901.2 L402.9,901.4 L403.4,901.6 L403.9,901.8 L404.4,902.0 L404.9,902.2 L405.4,902.4 L405.9,902.6 L406.4,902.8 L406.9,903.0 L407.4,903.2 L407.9,903.4 L408.4,903.6 L408.9,903.9 L409.4,904.1 L409.9,904.3 L410.4,904.2 L410.9,904.2 L411.4,904.1 L411.9,904.1 L412.4,904.0 L412.9,903.9 L413.4,903.9 L413.9,903.8 L414.4,903.7 L414.9,903.7 L415.4,903.6 L415.9,903.5 L416.4,903.5 L416.9,903.4 L417.4,903.3 L417.9,903.2 L418.4,903.0 L418.9,902.8 L419.4,902.5 L419.9,902.3 L420.4,902.1 L420.9,901.9 L421.4,901.7 L421.9,901.4 L422.4,901.2 L422.9,901.0 L423.4,900.8 L423.9,900.6 L424.4,900.3 L424.9,900.1 L425.4,899.9 L425.9,901.1 L426.4,902.4 L426.9,903.6 L427.4,904.9 L427.9,906.1 L428.4,905.8 L428.9,905.0 L429.4,904.2 L429.9,903.4 L430.4,902.6 L430.9,901.8 L431.4,901.0 L431.9,900.2 L432.4,899.5 L432.9,898.8 L433.4,898.1 L433.9,897.5 L434.4,896.8 L434.9,896.2 L435.4,895.5 L435.9,894.8 L436.4,894.2 L436.9,893.5 L437.4,893.6 L437.9,893.7 L438.4,893.8 L438.9,893.9 L439.4,894.0 L439.9,894.1 L440.4,894.2 L440.9,894.3 L441.4,894.4 L441.9,894.5 L442.4,894.7 L442.9,894.9 L443.4,895.1 L443.9,895.3 L444.4,895.5 L444.9,895.7 L445.4,895.9 L445.9,896.1 L446.4,896.3 L446.9,896.5 L447.2,896.6" stroke="#0000ff" stroke-width="2.4" stroke-dasharray="10.7 5.3 0.7 5.3" stroke-linecap="round"/>
</g>
<rect x="60.5" y="685.2" width="387.0" height="311.5999999999999" fill="none" stroke="#000" stroke-width="2.2"/>
<text x="60.5" y="1017.5" font-size="17.3" text-anchor="middle" font-weight="bold" font-style="normal">90</text>
<line x1="157.2" y1="996.8" x2="157.2" y2="990.8" stroke="#000" stroke-width="2.2"/>
<text x="157.2" y="1017.5" font-size="17.3" text-anchor="middle" font-weight="bold" font-style="normal">135</text>
<line x1="254.0" y1="996.8" x2="254.0" y2="990.8" stroke="#000" stroke-width="2.2"/>
<text x="254.0" y="1017.5" font-size="17.3" text-anchor="middle" font-weight="bold" font-style="normal">180</text>
<line x1="350.8" y1="996.8" x2="350.8" y2="990.8" stroke="#000" stroke-width="2.2"/>
<text x="350.8" y="1017.5" font-size="17.3" text-anchor="middle" font-weight="bold" font-style="normal">225</text>
<text x="447.5" y="1017.5" font-size="17.3" text-anchor="middle" font-weight="bold" font-style="normal">270</text>
<text x="53.5" y="1001.9" font-size="17.3" text-anchor="end" font-weight="bold" font-style="normal">0</text>
<line x1="60.5" y1="973.4" x2="66.5" y2="973.4" stroke="#000" stroke-width="2.2"/>
<text x="53.5" y="978.5" font-size="17.3" text-anchor="end" font-weight="bold" font-style="normal">3</text>
<line x1="60.5" y1="918.9" x2="66.5" y2="918.9" stroke="#000" stroke-width="2.2"/>
<text x="53.5" y="924.0" font-size="17.3" text-anchor="end" font-weight="bold" font-style="normal">10</text>
<line x1="60.5" y1="841.0" x2="66.5" y2="841.0" stroke="#000" stroke-width="2.2"/>
<text x="53.5" y="846.1" font-size="17.3" text-anchor="end" font-weight="bold" font-style="normal">20</text>
<line x1="60.5" y1="763.1" x2="66.5" y2="763.1" stroke="#000" stroke-width="2.2"/>
<text x="53.5" y="768.2" font-size="17.3" text-anchor="end" font-weight="bold" font-style="normal">30</text>
<text x="53.5" y="690.3" font-size="17.3" text-anchor="end" font-weight="bold" font-style="normal">40</text>
<text x="253.7" y="1039.5" font-size="25.8" text-anchor="middle" font-weight="bold" font-style="normal" textLength="123" lengthAdjust="spacing">Theta(deg)</text>
<text x="27.9" y="839.6" font-size="25.8" text-anchor="middle" font-weight="bold" font-style="normal" transform="rotate(-90 27.9 839.6)" textLength="197" lengthAdjust="spacing">Axial Ration(AR)</text>
<line x1="192.2" y1="711.5" x2="227.5" y2="711.5" stroke="#0000ff" stroke-width="2.3" stroke-dasharray="11.8 9.3 2.4 9.3" stroke-linecap="round"/>
<line x1="192.8" y1="734.1" x2="232" y2="734.1" stroke="#ff0000" stroke-width="3.5" stroke-dasharray="14.5 20.5 4 30" stroke-linecap="round"/>
<text x="237.5" y="717.9" font-size="17.7" font-weight="bold">Sim. AR</text>
<text x="237.5" y="740.2" font-size="17.7" font-weight="bold">Mea. AR</text>
<defs><clipPath id="clipF"><rect x="624.1" y="685.2" width="387.79999999999995" height="311.69999999999993"/></clipPath></defs>
<g clip-path="url(#clipF)">
<path d="M625.1,965.3 L626.1,963.0 L627.1,960.7 L628.1,958.4 L629.1,956.1 L630.1,953.8 L631.1,951.5 L632.1,949.3 L633.1,947.0 L634.1,944.7 L635.1,942.4 L636.1,940.2 L637.1,937.9 L638.1,935.7 L639.1,933.5 L640.1,931.3 L641.1,929.1 L642.1,926.9 L643.1,924.7 L644.1,922.6 L645.1,920.4 L646.1,918.3 L647.1,916.2 L648.1,914.1 L649.1,912.1 L650.1,910.0 L651.1,908.0 L652.1,906.0 L653.1,904.0 L654.1,902.1 L655.1,900.2 L656.1,898.3 L657.1,896.4 L658.1,894.6 L659.1,892.8 L660.1,891.0 L661.1,889.2 L662.1,887.5 L663.1,885.8 L664.1,884.2 L665.1,882.6 L666.1,881.0 L667.1,879.4 L668.1,877.9 L669.1,876.4 L670.1,875.0 L671.1,873.6 L672.1,872.3 L673.1,871.0 L674.1,869.7 L675.1,868.5 L676.1,867.3 L677.1,866.1 L678.1,865.0 L679.1,863.9 L680.1,862.9 L681.1,861.9 L682.1,860.9 L683.1,860.0 L684.1,859.1 L685.1,858.2 L686.1,857.4 L687.1,856.6 L688.1,855.8 L689.1,855.1 L690.1,854.3 L691.1,853.6 L692.1,853.0 L693.1,852.3 L694.1,851.7 L695.1,851.1 L696.1,850.5 L697.1,849.9 L698.1,849.4 L699.1,848.9 L700.1,848.3 L701.1,847.8 L702.1,847.4 L703.1,846.9 L704.1,846.4 L705.1,846.0 L706.1,845.6 L707.1,845.1 L708.1,844.7 L709.1,844.3 L710.1,843.9 L711.1,843.5 L712.1,843.1 L713.1,842.7 L714.1,842.4 L715.1,842.0 L716.1,841.6 L717.1,841.2 L718.1,840.8 L719.1,840.5 L720.1,840.1 L721.1,839.7 L722.1,839.3 L723.1,838.9 L724.1,838.5 L725.1,838.0 L726.1,837.6 L727.1,837.2 L728.1,836.8 L729.1,836.3 L730.1,835.9 L731.1,835.4 L732.1,835.0 L733.1,834.5 L734.1,834.1 L735.1,833.6 L736.1,833.1 L737.1,832.6 L738.1,832.1 L739.1,831.7 L740.1,831.2 L741.1,830.7 L742.1,830.2 L743.1,829.6 L744.1,829.1 L745.1,828.6 L746.1,828.1 L747.1,827.5 L748.1,827.0 L749.1,826.5 L750.1,825.9 L751.1,825.4 L752.1,824.8 L753.1,824.2 L754.1,823.7 L755.1,823.1 L756.1,822.5 L757.1,821.9 L758.1,821.4 L759.1,820.8 L760.1,820.2 L761.1,819.6 L762.1,819.0 L763.1,818.4 L764.1,817.7 L765.1,817.1 L766.1,816.5 L767.1,815.9 L768.1,815.2 L769.1,814.6 L770.1,814.0 L771.1,813.3 L772.1,812.7 L773.1,812.0 L774.1,811.3 L775.1,810.7 L776.1,810.0 L777.1,809.4 L778.1,808.7 L779.1,808.0 L780.1,807.3 L781.1,806.7 L782.1,806.0 L783.1,805.3 L784.1,804.6 L785.1,804.0 L786.1,803.3 L787.1,802.6 L788.1,801.9 L789.1,801.3 L790.1,800.6 L791.1,799.9 L792.1,799.2 L793.1,798.6 L794.1,797.9 L795.1,797.2 L796.1,796.6 L797.1,795.9 L798.1,795.3 L799.1,794.6 L800.1,794.0 L801.1,793.3 L802.1,792.7 L803.1,792.1 L804.1,791.4 L805.1,790.8 L806.1,790.2 L807.1,789.6 L808.1,789.0 L809.1,788.4 L810.1,787.8 L811.1,787.2 L812.1,786.6 L813.1,786.1 L814.1,785.5 L815.1,784.9 L816.1,784.4 L817.1,783.9 L818.1,783.3 L819.1,782.8 L820.1,782.3 L821.1,781.8 L822.1,781.3 L823.1,780.8 L824.1,780.4 L825.1,779.9 L826.1,779.4 L827.1,779.0 L828.1,778.6 L829.1,778.1 L830.1,777.7 L831.1,777.3 L832.1,776.9 L833.1,776.5 L834.1,776.1 L835.1,775.7 L836.1,775.3 L837.1,774.9 L838.1,774.5 L839.1,774.2 L840.1,773.8 L841.1,773.5 L842.1,773.1 L843.1,772.8 L844.1,772.4 L845.1,772.1 L846.1,771.8 L847.1,771.4 L848.1,771.1 L849.1,770.8 L850.1,770.5 L851.1,770.2 L852.1,769.9 L853.1,769.6 L854.1,769.3 L855.1,769.0 L856.1,768.7 L857.1,768.4 L858.1,768.1 L859.1,767.8 L860.1,767.5 L861.1,767.3 L862.1,767.0 L863.1,766.7 L864.1,766.4 L865.1,766.2 L866.1,765.9 L867.1,765.6 L868.1,765.3 L869.1,765.1 L870.1,764.8 L871.1,764.5 L872.1,764.3 L873.1,764.0 L874.1,763.7 L875.1,763.5 L876.1,763.2 L877.1,762.9 L878.1,762.6 L879.1,762.4 L880.1,762.1 L881.1,761.8 L882.1,761.5 L883.1,761.3 L884.1,761.0 L885.1,760.7 L886.1,760.4 L887.1,760.1 L888.1,759.8 L889.1,759.5 L890.1,759.2 L891.1,758.9 L892.1,758.6 L893.1,758.3 L894.1,758.0 L895.1,757.6 L896.1,757.3 L897.1,757.0 L898.1,756.6 L899.1,756.3 L900.1,756.0 L901.1,755.6 L902.1,755.2 L903.1,754.9 L904.1,754.5 L905.1,754.1 L906.1,753.8 L907.1,753.4 L908.1,753.0 L909.1,752.6 L910.1,752.1 L911.1,751.7 L912.1,751.3 L913.1,750.9 L914.1,750.4 L915.1,750.0 L916.1,749.5 L917.1,749.0 L918.1,748.6 L919.1,748.1 L920.1,747.6 L921.1,747.1 L922.1,746.6 L923.1,746.1 L924.1,745.6 L925.1,745.1 L926.1,744.6 L927.1,744.0 L928.1,743.5 L929.1,743.0 L930.1,742.4 L931.1,741.9 L932.1,741.4 L933.1,740.8 L934.1,740.3 L935.1,739.8 L936.1,739.2 L937.1,738.7 L938.1,738.1 L939.1,737.6 L940.1,737.1 L941.1,736.5 L942.1,736.0 L943.1,735.5 L944.1,734.9 L945.1,734.4 L946.1,733.9 L947.1,733.4 L948.1,732.9 L949.1,732.3 L950.1,731.8 L951.1,731.3 L952.1,730.9 L953.1,730.4 L954.1,729.9 L955.1,729.4 L956.1,729.0 L957.1,728.5 L958.1,728.0 L959.1,727.6 L960.1,727.2 L961.1,726.8 L962.1,726.3 L963.1,725.9 L964.1,725.5 L965.1,725.2 L966.1,724.8 L967.1,724.4 L968.1,724.1 L969.1,723.7 L970.1,723.4 L971.1,723.1 L972.1,722.8 L973.1,722.4 L974.1,722.1 L975.1,721.8 L976.1,721.5 L977.1,721.3 L978.1,721.0 L979.1,720.7 L980.1,720.4 L981.1,720.2 L982.1,719.9 L983.1,719.7 L984.1,719.4 L985.1,719.2 L986.1,718.9 L987.1,718.7 L988.1,718.5 L989.1,718.2 L990.1,718.0 L991.1,717.8 L992.1,717.5 L993.1,717.3 L994.1,717.1 L995.1,716.9 L996.1,716.7 L997.1,716.4 L998.1,716.2 L999.1,716.0 L1000.1,715.8 L1001.1,715.5 L1002.1,715.3 L1003.1,715.1 L1004.1,714.9 L1005.1,714.6 L1006.1,714.4 L1007.1,714.2 L1008.1,713.9 L1009.1,713.7 L1010.1,713.5" fill="none" stroke="#000" stroke-width="3.6"/>
<rect x="621.8" y="962.0" width="6.6" height="6.6" fill="#000"/>
<rect x="670.0" y="867.4" width="6.6" height="6.6" fill="#000"/>
<rect x="718.2" y="836.2" width="6.6" height="6.6" fill="#000"/>
<rect x="766.5" y="810.9" width="6.6" height="6.6" fill="#000"/>
<rect x="814.7" y="780.1" width="6.6" height="6.6" fill="#000"/>
<rect x="862.9" y="762.6" width="6.6" height="6.6" fill="#000"/>
<rect x="911.2" y="747.0" width="6.6" height="6.6" fill="#000"/>
<rect x="959.4" y="722.8" width="6.6" height="6.6" fill="#000"/>
<rect x="1007.6" y="710.0" width="6.6" height="6.6" fill="#000"/>
<path d="M625.1,965.7 L626.1,963.5 L627.1,961.2 L628.1,958.9 L629.1,956.6 L630.1,954.4 L631.1,952.1 L632.1,949.9 L633.1,947.6 L634.1,945.4 L635.1,943.1 L636.1,940.9 L637.1,938.7 L638.1,936.5 L639.1,934.3 L640.1,932.1 L641.1,929.9 L642.1,927.8 L643.1,925.6 L644.1,923.5 L645.1,921.4 L646.1,919.3 L647.1,917.2 L648.1,915.2 L649.1,913.1 L650.1,911.1 L651.1,909.1 L652.1,907.1 L653.1,905.2 L654.1,903.3 L655.1,901.4 L656.1,899.5 L657.1,897.7 L658.1,895.8 L659.1,894.0 L660.1,892.3 L661.1,890.6 L662.1,888.9 L663.1,887.2 L664.1,885.6 L665.1,884.0 L666.1,882.4 L667.1,880.9 L668.1,879.4 L669.1,877.9 L670.1,876.5 L671.1,875.1 L672.1,873.8 L673.1,872.5 L674.1,871.3 L675.1,870.0 L676.1,868.9 L677.1,867.7 L678.1,866.6 L679.1,865.6 L680.1,864.6 L681.1,863.6 L682.1,862.6 L683.1,861.7 L684.1,860.8 L685.1,859.9 L686.1,859.1 L687.1,858.3 L688.1,857.5 L689.1,856.8 L690.1,856.1 L691.1,855.4 L692.1,854.7 L693.1,854.1 L694.1,853.5 L695.1,852.9 L696.1,852.3 L697.1,851.7 L698.1,851.2 L699.1,850.6 L700.1,850.1 L701.1,849.6 L702.1,849.1 L703.1,848.7 L704.1,848.2 L705.1,847.8 L706.1,847.3 L707.1,846.9 L708.1,846.5 L709.1,846.1 L710.1,845.6 L711.1,845.2 L712.1,844.8 L713.1,844.4 L714.1,844.0 L715.1,843.6 L716.1,843.3 L717.1,842.9 L718.1,842.5 L719.1,842.1 L720.1,841.6 L721.1,841.2 L722.1,840.8 L723.1,840.4 L724.1,840.0 L725.1,839.5 L726.1,839.1 L727.1,838.6 L728.1,838.2 L729.1,837.7 L730.1,837.2 L731.1,836.8 L732.1,836.3 L733.1,835.8 L734.1,835.3 L735.1,834.8 L736.1,834.3 L737.1,833.8 L738.1,833.3 L739.1,832.8 L740.1,832.3 L741.1,831.7 L742.1,831.2 L743.1,830.7 L744.1,830.1 L745.1,829.6 L746.1,829.0 L747.1,828.5 L748.1,827.9 L749.1,827.3 L750.1,826.8 L751.1,826.2 L752.1,825.6 L753.1,825.1 L754.1,824.5 L755.1,823.9 L756.1,823.3 L757.1,822.7 L758.1,822.1 L759.1,821.5 L760.1,820.9 L761.1,820.3 L762.1,819.7 L763.1,819.1 L764.1,818.5 L765.1,817.9 L766.1,817.2 L767.1,816.6 L768.1,816.0 L769.1,815.4 L770.1,814.7 L771.1,814.1 L772.1,813.5 L773.1,812.8 L774.1,812.2 L775.1,811.6 L776.1,810.9 L777.1,810.3 L778.1,809.7 L779.1,809.0 L780.1,808.4 L781.1,807.8 L782.1,807.1 L783.1,806.5 L784.1,805.8 L785.1,805.2 L786.1,804.6 L787.1,804.0 L788.1,803.3 L789.1,802.7 L790.1,802.1 L791.1,801.5 L792.1,800.8 L793.1,800.2 L794.1,799.6 L795.1,799.0 L796.1,798.4 L797.1,797.8 L798.1,797.2 L799.1,796.6 L800.1,796.0 L801.1,795.4 L802.1,794.8 L803.1,794.3 L804.1,793.7 L805.1,793.1 L806.1,792.6 L807.1,792.0 L808.1,791.5 L809.1,791.0 L810.1,790.4 L811.1,789.9 L812.1,789.4 L813.1,788.9 L814.1,788.4 L815.1,787.9 L816.1,787.4 L817.1,786.9 L818.1,786.5 L819.1,786.0 L820.1,785.5 L821.1,785.1 L822.1,784.7 L823.1,784.2 L824.1,783.8 L825.1,783.4 L826.1,783.0 L827.1,782.6 L828.1,782.2 L829.1,781.9 L830.1,781.5 L831.1,781.1 L832.1,780.8 L833.1,780.4 L834.1,780.1 L835.1,779.7 L836.1,779.4 L837.1,779.0 L838.1,778.7 L839.1,778.4 L840.1,778.1 L841.1,777.8 L842.1,777.5 L843.1,777.2 L844.1,776.9 L845.1,776.6 L846.1,776.3 L847.1,776.0 L848.1,775.7 L849.1,775.4 L850.1,775.1 L851.1,774.9 L852.1,774.6 L853.1,774.3 L854.1,774.1 L855.1,773.8 L856.1,773.5 L857.1,773.3 L858.1,773.0 L859.1,772.7 L860.1,772.5 L861.1,772.2 L862.1,772.0 L863.1,771.7 L864.1,771.5 L865.1,771.2 L866.1,770.9 L867.1,770.7 L868.1,770.4 L869.1,770.2 L870.1,769.9 L871.1,769.7 L872.1,769.4 L873.1,769.1 L874.1,768.9 L875.1,768.6 L876.1,768.4 L877.1,768.1 L878.1,767.8 L879.1,767.6 L880.1,767.3 L881.1,767.0 L882.1,766.7 L883.1,766.5 L884.1,766.2 L885.1,765.9 L886.1,765.6 L887.1,765.3 L888.1,765.0 L889.1,764.7 L890.1,764.4 L891.1,764.1 L892.1,763.8 L893.1,763.5 L894.1,763.1 L895.1,762.8 L896.1,762.5 L897.1,762.1 L898.1,761.8 L899.1,761.5 L900.1,761.1 L901.1,760.7 L902.1,760.4 L903.1,760.0 L904.1,759.6 L905.1,759.3 L906.1,758.9 L907.1,758.5 L908.1,758.1 L909.1,757.7 L910.1,757.2 L911.1,756.8 L912.1,756.4 L913.1,755.9 L914.1,755.5 L915.1,755.0 L916.1,754.6 L917.1,754.1 L918.1,753.6 L919.1,753.1 L920.1,752.6 L921.1,752.2 L922.1,751.7 L923.1,751.1 L924.1,750.6 L925.1,750.1 L926.1,749.6 L927.1,749.1 L928.1,748.6 L929.1,748.0 L930.1,747.5 L931.1,747.0 L932.1,746.4 L933.1,745.9 L934.1,745.4 L935.1,744.9 L936.1,744.3 L937.1,743.8 L938.1,743.3 L939.1,742.7 L940.1,742.2 L941.1,741.7 L942.1,741.2 L943.1,740.7 L944.1,740.2 L945.1,739.6 L946.1,739.1 L947.1,738.7 L948.1,738.2 L949.1,737.7 L950.1,737.2 L951.1,736.7 L952.1,736.3 L953.1,735.8 L954.1,735.4 L955.1,734.9 L956.1,734.5 L957.1,734.1 L958.1,733.7 L959.1,733.3 L960.1,732.9 L961.1,732.5 L962.1,732.2 L963.1,731.8 L964.1,731.5 L965.1,731.1 L966.1,730.8 L967.1,730.5 L968.1,730.2 L969.1,729.9 L970.1,729.7 L971.1,729.4 L972.1,729.2 L973.1,728.9 L974.1,728.7 L975.1,728.5 L976.1,728.2 L977.1,728.0 L978.1,727.8 L979.1,727.6 L980.1,727.5 L981.1,727.3 L982.1,727.1 L983.1,727.0 L984.1,726.8 L985.1,726.7 L986.1,726.5 L987.1,726.4 L988.1,726.3 L989.1,726.1 L990.1,726.0 L991.1,725.9 L992.1,725.8 L993.1,725.7 L994.1,725.6 L995.1,725.5 L996.1,725.4 L997.1,725.3 L998.1,725.2 L999.1,725.1 L1000.1,725.0 L1001.1,724.9 L1002.1,724.9 L1003.1,724.8 L1004.1,724.7 L1005.1,724.6 L1006.1,724.5 L1007.1,724.5 L1008.1,724.4 L1009.1,724.3 L1010.1,724.2" fill="none" stroke="#f03a3c" stroke-width="3.3"/>
<circle cx="625.1" cy="965.7" r="3.9" fill="#ff0000"/>
<circle cx="673.3" cy="872.2" r="3.9" fill="#ff0000"/>
<circle cx="721.5" cy="841.0" r="3.9" fill="#ff0000"/>
<circle cx="769.8" cy="814.9" r="3.9" fill="#ff0000"/>
<circle cx="818.0" cy="786.5" r="3.9" fill="#ff0000"/>
<circle cx="866.2" cy="770.9" r="3.9" fill="#ff0000"/>
<circle cx="914.5" cy="755.3" r="3.9" fill="#ff0000"/>
<circle cx="962.7" cy="732.0" r="3.9" fill="#ff0000"/>
<circle cx="1010.9" cy="724.2" r="3.9" fill="#ff0000"/>
</g>
<rect x="625.1" y="685.2" width="385.79999999999995" height="311.69999999999993" fill="none" stroke="#000" stroke-width="2.2"/>
<text x="625.1" y="1017.6" font-size="17.3" text-anchor="middle" font-weight="bold" font-style="normal">5</text>
<line x1="721.5" y1="996.9" x2="721.5" y2="990.9" stroke="#000" stroke-width="2.2"/>
<text x="721.5" y="1017.6" font-size="17.3" text-anchor="middle" font-weight="bold" font-style="normal">6</text>
<line x1="818.0" y1="996.9" x2="818.0" y2="990.9" stroke="#000" stroke-width="2.2"/>
<text x="818.0" y="1017.6" font-size="17.3" text-anchor="middle" font-weight="bold" font-style="normal">7</text>
<line x1="914.5" y1="996.9" x2="914.5" y2="990.9" stroke="#000" stroke-width="2.2"/>
<text x="914.5" y="1017.6" font-size="17.3" text-anchor="middle" font-weight="bold" font-style="normal">8</text>
<text x="1010.9" y="1017.6" font-size="17.3" text-anchor="middle" font-weight="bold" font-style="normal">9</text>
<text x="618.1" y="1002.0" font-size="17.3" text-anchor="end" font-weight="bold" font-style="normal">9</text>
<line x1="625.1" y1="919.0" x2="631.1" y2="919.0" stroke="#000" stroke-width="2.2"/>
<text x="618.1" y="924.1" font-size="17.3" text-anchor="end" font-weight="bold" font-style="normal">11</text>
<line x1="625.1" y1="841.0" x2="631.1" y2="841.0" stroke="#000" stroke-width="2.2"/>
<text x="618.1" y="846.1" font-size="17.3" text-anchor="end" font-weight="bold" font-style="normal">13</text>
<line x1="625.1" y1="763.1" x2="631.1" y2="763.1" stroke="#000" stroke-width="2.2"/>
<text x="618.1" y="768.2" font-size="17.3" text-anchor="end" font-weight="bold" font-style="normal">15</text>
<text x="618.1" y="690.3" font-size="17.3" text-anchor="end" font-weight="bold" font-style="normal">17</text>
<text x="818.4" y="1039.2" font-size="25.8" text-anchor="middle" font-weight="bold" font-style="normal" textLength="190" lengthAdjust="spacing">Frequency(GHz)</text>
<text x="592.9" y="840" font-size="25.8" text-anchor="middle" font-weight="bold" font-style="normal" transform="rotate(-90 592.9 840)" textLength="208.5" lengthAdjust="spacing">Realized Gain(dB)</text>
<line x1="640.2" y1="705.5" x2="685.3" y2="705.5" stroke="#000" stroke-width="3.7" stroke-linecap="round"/>
<rect x="659.3" y="702.2" width="6.5" height="6.6" fill="#000"/>
<line x1="640.2" y1="731.2" x2="685.3" y2="731.2" stroke="#f03a3c" stroke-width="3.5" stroke-linecap="round"/>
<circle cx="662.6" cy="731.2" r="3.8" fill="#ff0000"/>
<text x="690.4" y="711.9" font-size="20" font-weight="bold">Sim.</text>
<text x="690.4" y="737.8" font-size="20" font-weight="bold">Mea.</text>
<text x="249.3" y="198.8" font-size="42.5" text-anchor="middle" font-weight="bold" font-style="normal">(a)</text>
<text x="818.9" y="194.8" font-size="42.5" text-anchor="middle" font-weight="bold" font-style="normal">(b)</text>
<text x="250" y="651.7" font-size="42.5" text-anchor="middle" font-weight="bold" font-style="normal">(c)</text>
<text x="818.6" y="653.2" font-size="42.5" text-anchor="middle" font-weight="bold" font-style="normal">(d)</text>
<text x="254.8" y="1087.6" font-size="42.5" text-anchor="middle" font-weight="bold" font-style="normal">(e)</text>
<text x="823.5" y="1089.6" font-size="42.5" text-anchor="middle" font-weight="bold" font-style="normal">(f)</text>
</svg></body></html>
